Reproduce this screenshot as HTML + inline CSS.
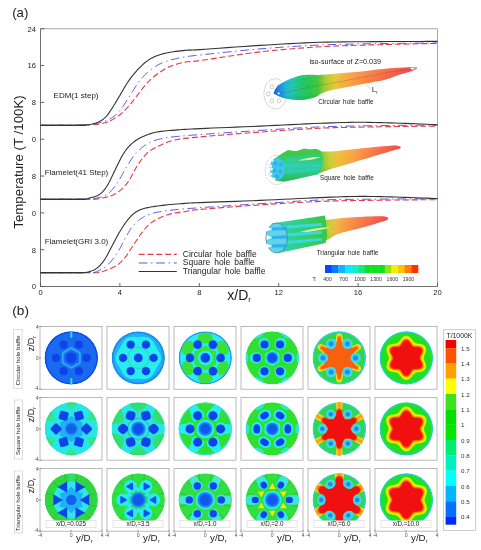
<!DOCTYPE html>
<html><head><meta charset="utf-8"><style>
html,body{margin:0;padding:0;background:#fff;}
body{width:481px;height:550px;overflow:hidden;font-family:"Liberation Sans", sans-serif;}
svg{display:block;filter:blur(0.4px);}
</style></head><body>
<svg width="481" height="550" viewBox="0 0 481 550" font-family='"Liberation Sans", sans-serif'><defs><linearGradient id="shade" x1="0" y1="0" x2="0" y2="1"><stop offset="0" stop-color="#fff" stop-opacity="0.10"/><stop offset="0.45" stop-color="#fff" stop-opacity="0"/><stop offset="1" stop-color="#000" stop-opacity="0.06"/></linearGradient><linearGradient id="gf1" gradientUnits="userSpaceOnUse" x1="274" y1="0" x2="417" y2="0"><stop offset="0" stop-color="#1060d8"/><stop offset="0.04" stop-color="#1890e0"/><stop offset="0.085" stop-color="#20b8d8"/><stop offset="0.13" stop-color="#20c8b0"/><stop offset="0.18" stop-color="#20c878"/><stop offset="0.25" stop-color="#28c850"/><stop offset="0.31" stop-color="#48c838"/><stop offset="0.355" stop-color="#a0cc30"/><stop offset="0.42" stop-color="#e4c838"/><stop offset="0.5" stop-color="#f8aa40"/><stop offset="0.62" stop-color="#f88a40"/><stop offset="0.76" stop-color="#f86840"/><stop offset="0.9" stop-color="#f04840"/><stop offset="1" stop-color="#f03848"/></linearGradient><linearGradient id="gf2" gradientUnits="userSpaceOnUse" x1="316" y1="0" x2="401" y2="0"><stop offset="0" stop-color="#40cc40"/><stop offset="0.08" stop-color="#88cc30"/><stop offset="0.16" stop-color="#c8d038"/><stop offset="0.26" stop-color="#f0c038"/><stop offset="0.45" stop-color="#f8a040"/><stop offset="0.68" stop-color="#f87040"/><stop offset="1" stop-color="#f03838"/></linearGradient><linearGradient id="b2v" x1="0" y1="0" x2="0" y2="1"><stop offset="0" stop-color="#40cc50"/><stop offset="0.3" stop-color="#30cc70"/><stop offset="0.5" stop-color="#30d0b8"/><stop offset="0.7" stop-color="#30c880"/><stop offset="1" stop-color="#28b850"/></linearGradient><linearGradient id="gf3" gradientUnits="userSpaceOnUse" x1="322" y1="0" x2="389" y2="0"><stop offset="0" stop-color="#60cc38"/><stop offset="0.1" stop-color="#c0d038"/><stop offset="0.2" stop-color="#f0b840"/><stop offset="0.4" stop-color="#f89040"/><stop offset="0.68" stop-color="#f86840"/><stop offset="1" stop-color="#f03838"/></linearGradient><linearGradient id="b3h" gradientUnits="userSpaceOnUse" x1="270" y1="0" x2="326" y2="0"><stop offset="0" stop-color="#30d0c8"/><stop offset="0.5" stop-color="#30d080"/><stop offset="1" stop-color="#38c848"/></linearGradient><clipPath id="cp00"><circle cx="71.30" cy="357.90" r="26.7"/></clipPath><clipPath id="cp01"><circle cx="138.30" cy="357.90" r="26.7"/></clipPath><clipPath id="cp02"><circle cx="205.30" cy="357.90" r="26.7"/></clipPath><clipPath id="cp03"><circle cx="272.30" cy="357.90" r="26.7"/></clipPath><radialGradient id="cg03" gradientUnits="userSpaceOnUse" cx="272.30" cy="357.90" r="5.80"><stop offset="0" stop-color="#1050ee"/><stop offset="0.6" stop-color="#1050ee"/><stop offset="1" stop-color="#1890f2"/></radialGradient><clipPath id="cp04"><circle cx="339.30" cy="357.90" r="26.7"/></clipPath><clipPath id="cp05"><circle cx="406.30" cy="357.90" r="26.7"/></clipPath><clipPath id="cp10"><circle cx="71.30" cy="428.90" r="26.7"/></clipPath><radialGradient id="wg10" gradientUnits="userSpaceOnUse" cx="71.30" cy="428.90" r="26.70"><stop offset="0.6" stop-color="#28e6d8"/><stop offset="0.8" stop-color="#34e4a0"/><stop offset="1" stop-color="#38e070"/></radialGradient><radialGradient id="cg10" gradientUnits="userSpaceOnUse" cx="71.30" cy="428.90" r="7.00"><stop offset="0" stop-color="#1060f0"/><stop offset="0.6" stop-color="#1060f0"/><stop offset="1" stop-color="#20b0f4"/></radialGradient><clipPath id="cp11"><circle cx="138.30" cy="428.90" r="26.7"/></clipPath><radialGradient id="wg11" gradientUnits="userSpaceOnUse" cx="138.30" cy="428.90" r="26.70"><stop offset="0.55" stop-color="#28e6d0"/><stop offset="0.75" stop-color="#30e080"/><stop offset="1" stop-color="#30e060"/></radialGradient><radialGradient id="cg11" gradientUnits="userSpaceOnUse" cx="138.30" cy="428.90" r="7.50"><stop offset="0" stop-color="#0c50ee"/><stop offset="0.6" stop-color="#0c50ee"/><stop offset="1" stop-color="#20b0f4"/></radialGradient><clipPath id="cp12"><circle cx="205.30" cy="428.90" r="26.7"/></clipPath><radialGradient id="cg12" gradientUnits="userSpaceOnUse" cx="205.30" cy="428.90" r="7.20"><stop offset="0" stop-color="#1058ee"/><stop offset="0.6" stop-color="#1058ee"/><stop offset="1" stop-color="#20b0f4"/></radialGradient><clipPath id="cp13"><circle cx="272.30" cy="428.90" r="26.7"/></clipPath><radialGradient id="cg13" gradientUnits="userSpaceOnUse" cx="272.30" cy="428.90" r="6.40"><stop offset="0" stop-color="#1058ee"/><stop offset="0.6" stop-color="#1058ee"/><stop offset="1" stop-color="#20a0f4"/></radialGradient><clipPath id="cp14"><circle cx="339.30" cy="428.90" r="26.7"/></clipPath><clipPath id="cp15"><circle cx="406.30" cy="428.90" r="26.7"/></clipPath><clipPath id="cp20"><circle cx="71.30" cy="499.90" r="26.7"/></clipPath><clipPath id="cp21"><circle cx="138.30" cy="499.90" r="26.7"/></clipPath><radialGradient id="cg21" gradientUnits="userSpaceOnUse" cx="138.30" cy="499.90" r="8.00"><stop offset="0" stop-color="#1058ee"/><stop offset="0.6" stop-color="#1058ee"/><stop offset="1" stop-color="#20b0f4"/></radialGradient><clipPath id="cp22"><circle cx="205.30" cy="499.90" r="26.7"/></clipPath><radialGradient id="cg22" gradientUnits="userSpaceOnUse" cx="205.30" cy="499.90" r="8.00"><stop offset="0" stop-color="#1058ee"/><stop offset="0.6" stop-color="#1058ee"/><stop offset="1" stop-color="#20a8f4"/></radialGradient><clipPath id="cp23"><circle cx="272.30" cy="499.90" r="26.7"/></clipPath><radialGradient id="cg23" gradientUnits="userSpaceOnUse" cx="272.30" cy="499.90" r="7.40"><stop offset="0" stop-color="#1058ee"/><stop offset="0.6" stop-color="#1058ee"/><stop offset="1" stop-color="#20a8f4"/></radialGradient><clipPath id="cp24"><circle cx="339.30" cy="499.90" r="26.7"/></clipPath><clipPath id="cp25"><circle cx="406.30" cy="499.90" r="26.7"/></clipPath></defs><text x="12.2" y="16.6" font-size="13.2" fill="#222">(a)</text>
<path d="M40.5,28.75 L437.5,28.75 L437.5,286.5" fill="none" stroke="#a8a8a8" stroke-width="1"/>
<path d="M40.5,28.75 L40.5,286.5 L437.5,286.5" fill="none" stroke="#707070" stroke-width="1"/>
<line x1="40.5" y1="28.75" x2="44.3" y2="28.75" stroke="#555" stroke-width="0.9"/>
<text x="36" y="31.65" font-size="7.6" fill="#222" text-anchor="end">24</text>
<line x1="40.5" y1="65.57" x2="44.3" y2="65.57" stroke="#555" stroke-width="0.9"/>
<text x="36" y="68.47" font-size="7.6" fill="#222" text-anchor="end">16</text>
<line x1="40.5" y1="102.39" x2="44.3" y2="102.39" stroke="#555" stroke-width="0.9"/>
<text x="36" y="105.29" font-size="7.6" fill="#222" text-anchor="end">8</text>
<line x1="40.5" y1="139.21" x2="44.3" y2="139.21" stroke="#555" stroke-width="0.9"/>
<text x="36" y="142.11" font-size="7.6" fill="#222" text-anchor="end">0</text>
<line x1="40.5" y1="176.04" x2="44.3" y2="176.04" stroke="#555" stroke-width="0.9"/>
<text x="36" y="178.94" font-size="7.6" fill="#222" text-anchor="end">8</text>
<line x1="40.5" y1="212.86" x2="44.3" y2="212.86" stroke="#555" stroke-width="0.9"/>
<text x="36" y="215.76" font-size="7.6" fill="#222" text-anchor="end">0</text>
<line x1="40.5" y1="249.68" x2="44.3" y2="249.68" stroke="#555" stroke-width="0.9"/>
<text x="36" y="252.58" font-size="7.6" fill="#222" text-anchor="end">8</text>
<line x1="40.5" y1="286.50" x2="44.3" y2="286.50" stroke="#555" stroke-width="0.9"/>
<text x="36" y="289.40" font-size="7.6" fill="#222" text-anchor="end">0</text>
<line x1="40.50" y1="286.5" x2="40.50" y2="283.0" stroke="#555" stroke-width="0.9"/>
<text x="40.50" y="295.3" font-size="7.6" fill="#222" text-anchor="middle">0</text>
<line x1="119.90" y1="286.5" x2="119.90" y2="283.0" stroke="#555" stroke-width="0.9"/>
<text x="119.90" y="295.3" font-size="7.6" fill="#222" text-anchor="middle">4</text>
<line x1="199.30" y1="286.5" x2="199.30" y2="283.0" stroke="#555" stroke-width="0.9"/>
<text x="199.30" y="295.3" font-size="7.6" fill="#222" text-anchor="middle">8</text>
<line x1="278.70" y1="286.5" x2="278.70" y2="283.0" stroke="#555" stroke-width="0.9"/>
<text x="278.70" y="295.3" font-size="7.6" fill="#222" text-anchor="middle">12</text>
<line x1="358.10" y1="286.5" x2="358.10" y2="283.0" stroke="#555" stroke-width="0.9"/>
<text x="358.10" y="295.3" font-size="7.6" fill="#222" text-anchor="middle">16</text>
<line x1="437.50" y1="286.5" x2="437.50" y2="283.0" stroke="#555" stroke-width="0.9"/>
<text x="437.50" y="295.3" font-size="7.6" fill="#222" text-anchor="middle">20</text>
<text transform="translate(22.6,162) rotate(-90)" font-size="13.3" fill="#222" text-anchor="middle">Temperature (T /100K)</text>
<text x="227.3" y="299.6" font-size="14" fill="#222">x/D<tspan font-size="8" dy="2.5">r</tspan></text>
<path d="M40.50,125.30 L44.10,125.31 L49.07,125.34 L55.00,125.38 L61.50,125.41 L68.15,125.42 L74.55,125.40 L80.31,125.33 L85.00,125.20 L88.72,125.03 L91.90,124.83 L94.63,124.61 L97.01,124.34 L99.13,124.02 L101.11,123.65 L103.03,123.21 L105.00,122.70 L106.93,122.11 L108.69,121.45 L110.31,120.72 L111.83,119.94 L113.26,119.11 L114.65,118.23 L116.02,117.33 L117.40,116.40 L118.76,115.45 L120.07,114.48 L121.33,113.48 L122.55,112.44 L123.76,111.35 L124.96,110.20 L126.17,108.99 L127.40,107.70 L128.65,106.32 L129.90,104.84 L131.15,103.29 L132.41,101.68 L133.66,100.05 L134.91,98.41 L136.15,96.78 L137.40,95.20 L138.64,93.62 L139.88,92.01 L141.12,90.38 L142.35,88.77 L143.58,87.18 L144.82,85.64 L146.06,84.18 L147.30,82.80 L148.53,81.52 L149.73,80.31 L150.93,79.17 L152.14,78.09 L153.36,77.04 L154.62,76.02 L155.93,75.01 L157.30,74.00 L158.73,72.99 L160.19,71.98 L161.69,70.99 L163.24,70.03 L164.82,69.09 L166.44,68.21 L168.10,67.37 L169.80,66.60 L171.55,65.89 L173.37,65.22 L175.23,64.61 L177.13,64.04 L179.05,63.51 L180.98,63.03 L182.90,62.60 L184.80,62.20 L186.38,61.91 L187.54,61.77 L188.52,61.71 L189.59,61.67 L191.01,61.60 L193.05,61.43 L195.95,61.12 L200.00,60.60 L205.36,59.83 L211.85,58.84 L219.22,57.70 L227.20,56.47 L235.53,55.21 L243.95,53.99 L252.19,52.86 L260.00,51.90 L267.50,51.07 L275.00,50.30 L282.50,49.59 L290.00,48.94 L297.50,48.33 L305.00,47.78 L312.50,47.27 L320.00,46.80 L327.52,46.39 L335.06,46.05 L342.61,45.76 L350.16,45.51 L357.68,45.30 L365.18,45.10 L372.62,44.90 L380.00,44.70 L387.70,44.49 L395.90,44.29 L404.27,44.10 L412.50,43.92 L420.26,43.76 L427.23,43.61 L433.08,43.49 L437.50,43.40" fill="none" stroke="#e23a48" stroke-width="1.1" stroke-dasharray="6,2.8"/>
<path d="M40.50,125.30 L43.71,125.30 L48.17,125.31 L53.50,125.32 L59.31,125.33 L65.25,125.33 L70.92,125.31 L75.96,125.27 L80.00,125.20 L83.05,125.12 L85.47,125.05 L87.42,124.96 L89.03,124.86 L90.45,124.71 L91.82,124.51 L93.29,124.25 L95.00,123.90 L96.91,123.48 L98.87,122.99 L100.84,122.45 L102.81,121.85 L104.74,121.19 L106.60,120.48 L108.36,119.72 L110.00,118.90 L111.49,118.05 L112.85,117.17 L114.12,116.25 L115.31,115.28 L116.47,114.22 L117.62,113.06 L118.78,111.80 L120.00,110.40 L121.25,108.84 L122.50,107.11 L123.75,105.25 L125.00,103.31 L126.25,101.31 L127.50,99.30 L128.75,97.32 L130.00,95.40 L131.25,93.49 L132.50,91.53 L133.75,89.56 L135.00,87.59 L136.25,85.66 L137.50,83.80 L138.75,82.04 L140.00,80.40 L141.23,78.89 L142.45,77.49 L143.65,76.18 L144.86,74.94 L146.08,73.75 L147.34,72.61 L148.64,71.50 L150.00,70.40 L151.39,69.32 L152.79,68.27 L154.21,67.26 L155.67,66.29 L157.19,65.35 L158.79,64.46 L160.49,63.61 L162.30,62.80 L164.24,62.04 L166.29,61.32 L168.44,60.64 L170.67,60.00 L172.96,59.40 L175.29,58.83 L177.64,58.30 L180.00,57.80 L182.12,57.37 L183.90,57.02 L185.57,56.73 L187.36,56.47 L189.47,56.20 L192.13,55.88 L195.57,55.49 L200.00,55.00 L205.59,54.38 L212.19,53.66 L219.57,52.86 L227.50,52.02 L235.74,51.17 L244.06,50.35 L252.23,49.58 L260.00,48.90 L267.50,48.29 L275.00,47.71 L282.50,47.17 L290.00,46.66 L297.50,46.18 L305.00,45.75 L312.50,45.35 L320.00,45.00 L327.52,44.70 L335.06,44.46 L342.61,44.26 L350.16,44.10 L357.68,43.96 L365.18,43.84 L372.62,43.72 L380.00,43.60 L387.70,43.47 L395.90,43.36 L404.27,43.26 L412.50,43.16 L420.26,43.08 L427.23,43.01 L433.08,42.95 L437.50,42.90" fill="none" stroke="#5a5ae6" stroke-width="1" stroke-dasharray="8.7,3.7,1.4,3.7"/>
<path d="M40.50,125.30 L43.71,125.31 L48.17,125.33 L53.50,125.35 L59.31,125.38 L65.25,125.38 L70.92,125.36 L75.96,125.30 L80.00,125.20 L83.08,125.06 L85.59,124.92 L87.64,124.74 L89.34,124.54 L90.82,124.29 L92.18,123.99 L93.53,123.63 L95.00,123.20 L96.51,122.71 L97.91,122.18 L99.23,121.59 L100.48,120.95 L101.66,120.25 L102.80,119.47 L103.91,118.63 L105.00,117.70 L106.05,116.68 L107.03,115.58 L107.96,114.39 L108.85,113.14 L109.72,111.83 L110.60,110.48 L111.48,109.10 L112.40,107.70 L113.34,106.26 L114.29,104.75 L115.24,103.19 L116.20,101.60 L117.16,99.99 L118.11,98.38 L119.06,96.77 L120.00,95.20 L120.93,93.63 L121.86,92.04 L122.79,90.44 L123.71,88.84 L124.63,87.27 L125.55,85.73 L126.47,84.23 L127.40,82.80 L128.32,81.44 L129.21,80.13 L130.10,78.87 L130.99,77.65 L131.91,76.44 L132.85,75.24 L133.85,74.03 L134.90,72.80 L136.02,71.52 L137.20,70.21 L138.43,68.88 L139.69,67.56 L140.97,66.27 L142.26,65.03 L143.54,63.87 L144.80,62.80 L146.03,61.83 L147.23,60.93 L148.43,60.09 L149.64,59.31 L150.86,58.58 L152.12,57.89 L153.43,57.23 L154.80,56.60 L156.21,56.00 L157.63,55.45 L159.08,54.94 L160.58,54.46 L162.14,54.02 L163.76,53.60 L165.48,53.19 L167.30,52.80 L169.26,52.42 L171.38,52.06 L173.60,51.73 L175.88,51.41 L178.19,51.12 L180.47,50.85 L182.69,50.61 L184.80,50.40 L186.50,50.25 L187.71,50.17 L188.70,50.13 L189.74,50.11 L191.12,50.08 L193.10,50.00 L195.97,49.85 L200.00,49.60 L205.36,49.23 L211.85,48.76 L219.22,48.23 L227.20,47.64 L235.53,47.04 L243.95,46.45 L252.19,45.90 L260.00,45.40 L267.50,44.94 L275.00,44.49 L282.50,44.05 L290.00,43.63 L297.50,43.24 L305.00,42.88 L312.50,42.57 L320.00,42.30 L327.52,42.09 L335.06,41.94 L342.61,41.84 L350.16,41.77 L357.68,41.72 L365.18,41.68 L372.62,41.65 L380.00,41.60 L387.70,41.55 L395.90,41.51 L404.27,41.48 L412.50,41.46 L420.26,41.44 L427.23,41.42 L433.08,41.41 L437.50,41.40" fill="none" stroke="#333" stroke-width="1.1"/>
<line x1="40.5" y1="125.3" x2="86" y2="125.3" stroke="#333" stroke-width="1.3"/>
<path d="M40.50,199.30 L44.59,199.30 L50.32,199.30 L57.17,199.30 L64.62,199.30 L72.16,199.29 L79.24,199.28 L85.36,199.25 L90.00,199.20 L93.11,199.16 L95.16,199.13 L96.43,199.11 L97.16,199.06 L97.63,198.99 L98.08,198.86 L98.79,198.67 L100.00,198.40 L101.64,198.08 L103.44,197.73 L105.33,197.35 L107.29,196.90 L109.27,196.37 L111.23,195.74 L113.12,194.99 L114.90,194.10 L116.59,193.07 L118.25,191.93 L119.87,190.68 L121.46,189.32 L123.00,187.86 L124.51,186.30 L125.97,184.64 L127.40,182.90 L128.77,180.99 L130.08,178.87 L131.34,176.61 L132.56,174.28 L133.77,171.94 L134.97,169.65 L136.17,167.48 L137.40,165.50 L138.62,163.67 L139.82,161.91 L141.01,160.23 L142.19,158.63 L143.40,157.11 L144.64,155.66 L145.94,154.29 L147.30,153.00 L148.72,151.81 L150.18,150.73 L151.69,149.73 L153.23,148.81 L154.82,147.95 L156.44,147.12 L158.10,146.31 L159.80,145.50 L161.49,144.70 L163.14,143.93 L164.79,143.19 L166.51,142.47 L168.32,141.80 L170.27,141.16 L172.42,140.56 L174.80,140.00 L177.22,139.51 L179.57,139.10 L181.97,138.74 L184.59,138.41 L187.55,138.08 L191.01,137.74 L195.12,137.35 L200.00,136.90 L205.83,136.38 L212.55,135.80 L219.95,135.18 L227.82,134.55 L235.97,133.91 L244.18,133.28 L252.26,132.67 L260.00,132.10 L267.50,131.55 L275.00,131.00 L282.50,130.46 L290.00,129.94 L297.50,129.44 L305.00,128.98 L312.50,128.56 L320.00,128.20 L327.52,127.90 L335.06,127.66 L342.61,127.46 L350.16,127.30 L357.68,127.16 L365.18,127.04 L372.62,126.92 L380.00,126.80 L387.70,126.67 L395.90,126.56 L404.27,126.46 L412.50,126.36 L420.26,126.28 L427.23,126.21 L433.08,126.15 L437.50,126.10" fill="none" stroke="#e23a48" stroke-width="1.1" stroke-dasharray="6,2.8"/>
<path d="M40.50,199.30 L44.17,199.30 L49.30,199.30 L55.44,199.30 L62.12,199.30 L68.88,199.29 L75.26,199.28 L80.78,199.25 L85.00,199.20 L87.88,199.16 L89.87,199.13 L91.17,199.11 L92.01,199.06 L92.59,198.99 L93.14,198.86 L93.87,198.67 L95.00,198.40 L96.45,198.08 L97.99,197.73 L99.58,197.35 L101.20,196.90 L102.82,196.37 L104.41,195.74 L105.95,194.99 L107.40,194.10 L108.76,193.07 L110.07,191.93 L111.33,190.68 L112.55,189.32 L113.76,187.86 L114.96,186.30 L116.17,184.64 L117.40,182.90 L118.65,181.00 L119.90,178.90 L121.15,176.67 L122.40,174.36 L123.65,172.03 L124.90,169.74 L126.15,167.55 L127.40,165.50 L128.63,163.57 L129.84,161.69 L131.04,159.86 L132.25,158.09 L133.47,156.38 L134.73,154.74 L136.04,153.18 L137.40,151.70 L138.82,150.30 L140.27,148.97 L141.76,147.71 L143.29,146.52 L144.85,145.40 L146.46,144.36 L148.11,143.39 L149.80,142.50 L151.52,141.70 L153.25,140.99 L155.01,140.37 L156.83,139.81 L158.69,139.31 L160.64,138.85 L162.67,138.42 L164.80,138.00 L167.09,137.61 L169.56,137.26 L172.14,136.96 L174.79,136.69 L177.43,136.45 L180.02,136.23 L182.50,136.01 L184.80,135.80 L186.62,135.62 L187.89,135.50 L188.88,135.41 L189.90,135.32 L191.23,135.23 L193.16,135.09 L195.99,134.89 L200.00,134.60 L205.36,134.21 L211.85,133.74 L219.22,133.21 L227.20,132.64 L235.53,132.06 L243.95,131.47 L252.19,130.91 L260.00,130.40 L267.50,129.91 L275.00,129.42 L282.50,128.94 L290.00,128.47 L297.50,128.02 L305.00,127.60 L312.50,127.23 L320.00,126.90 L327.52,126.63 L335.06,126.40 L342.61,126.22 L350.16,126.06 L357.68,125.93 L365.18,125.82 L372.62,125.71 L380.00,125.60 L387.70,125.50 L395.90,125.41 L404.27,125.33 L412.50,125.27 L420.26,125.22 L427.23,125.17 L433.08,125.13 L437.50,125.10" fill="none" stroke="#5a5ae6" stroke-width="1" stroke-dasharray="8.7,3.7,1.4,3.7"/>
<path d="M40.50,199.30 L43.75,199.31 L48.29,199.33 L53.72,199.36 L59.62,199.39 L65.61,199.40 L71.27,199.40 L76.20,199.37 L80.00,199.30 L82.66,199.21 L84.57,199.10 L85.91,198.98 L86.84,198.84 L87.55,198.66 L88.19,198.45 L88.95,198.20 L90.00,197.90 L91.27,197.57 L92.56,197.23 L93.86,196.87 L95.16,196.46 L96.44,195.99 L97.68,195.45 L98.87,194.83 L100.00,194.10 L101.05,193.29 L102.03,192.42 L102.96,191.47 L103.86,190.45 L104.73,189.34 L105.60,188.13 L106.49,186.82 L107.40,185.40 L108.33,183.83 L109.27,182.09 L110.21,180.23 L111.14,178.29 L112.08,176.29 L113.02,174.29 L113.96,172.31 L114.90,170.40 L115.84,168.50 L116.78,166.55 L117.71,164.59 L118.65,162.64 L119.59,160.72 L120.53,158.88 L121.46,157.13 L122.40,155.50 L123.32,154.00 L124.22,152.60 L125.10,151.28 L125.99,150.04 L126.90,148.85 L127.85,147.71 L128.84,146.60 L129.90,145.50 L131.00,144.43 L132.11,143.40 L133.25,142.42 L134.44,141.47 L135.68,140.56 L137.00,139.68 L138.40,138.82 L139.90,138.00 L141.49,137.20 L143.16,136.41 L144.90,135.65 L146.73,134.93 L148.62,134.25 L150.60,133.61 L152.66,133.03 L154.80,132.50 L157.02,132.05 L159.32,131.66 L161.70,131.33 L164.16,131.05 L166.70,130.80 L169.31,130.56 L172.02,130.34 L174.80,130.10 L177.46,129.88 L179.92,129.69 L182.34,129.52 L184.90,129.36 L187.77,129.20 L191.13,129.02 L195.15,128.83 L200.00,128.60 L205.83,128.34 L212.55,128.05 L219.95,127.75 L227.82,127.43 L235.97,127.10 L244.18,126.77 L252.26,126.43 L260.00,126.10 L267.64,125.75 L275.47,125.38 L283.38,124.99 L291.25,124.61 L298.96,124.23 L306.41,123.88 L313.46,123.57 L320.00,123.30 L325.96,123.08 L331.41,122.88 L336.46,122.71 L341.25,122.57 L345.88,122.46 L350.47,122.37 L355.14,122.32 L360.00,122.30 L365.02,122.32 L370.06,122.37 L375.11,122.47 L380.16,122.59 L385.18,122.73 L390.18,122.88 L395.12,123.04 L400.00,123.20 L405.06,123.38 L410.43,123.59 L415.89,123.82 L421.25,124.06 L426.29,124.29 L430.82,124.50 L434.62,124.67 L437.50,124.80" fill="none" stroke="#333" stroke-width="1.1"/>
<line x1="40.5" y1="199.3" x2="86" y2="199.3" stroke="#333" stroke-width="1.3"/>
<path d="M40.50,272.70 L44.59,272.69 L50.32,272.69 L57.17,272.68 L64.62,272.67 L72.16,272.66 L79.24,272.65 L85.36,272.63 L90.00,272.60 L93.11,272.60 L95.16,272.65 L96.43,272.71 L97.16,272.76 L97.63,272.76 L98.08,272.69 L98.79,272.51 L100.00,272.20 L101.66,271.75 L103.50,271.20 L105.44,270.55 L107.45,269.82 L109.46,269.02 L111.40,268.18 L113.24,267.30 L114.90,266.40 L116.38,265.49 L117.74,264.57 L119.01,263.62 L120.21,262.62 L121.37,261.54 L122.51,260.38 L123.68,259.10 L124.90,257.70 L126.15,256.13 L127.40,254.39 L128.65,252.52 L129.91,250.57 L131.16,248.58 L132.41,246.59 L133.65,244.65 L134.90,242.80 L136.14,240.99 L137.38,239.15 L138.62,237.32 L139.85,235.51 L141.08,233.75 L142.32,232.07 L143.56,230.47 L144.80,229.00 L146.01,227.65 L147.18,226.41 L148.32,225.25 L149.48,224.18 L150.68,223.16 L151.95,222.18 L153.31,221.23 L154.80,220.30 L156.44,219.38 L158.20,218.49 L160.06,217.63 L161.99,216.81 L163.96,216.04 L165.93,215.33 L167.89,214.68 L169.80,214.10 L171.67,213.61 L173.55,213.21 L175.42,212.88 L177.29,212.60 L179.16,212.35 L181.04,212.12 L182.92,211.87 L184.80,211.60 L186.38,211.33 L187.54,211.08 L188.52,210.85 L189.59,210.63 L191.01,210.38 L193.05,210.10 L195.95,209.78 L200.00,209.40 L205.36,208.94 L211.85,208.41 L219.22,207.84 L227.20,207.23 L235.53,206.62 L243.95,206.01 L252.19,205.43 L260.00,204.90 L267.50,204.40 L275.00,203.90 L282.50,203.41 L290.00,202.94 L297.50,202.50 L305.00,202.09 L312.50,201.72 L320.00,201.40 L327.52,201.14 L335.06,200.92 L342.61,200.75 L350.16,200.61 L357.68,200.50 L365.18,200.40 L372.62,200.30 L380.00,200.20 L387.70,200.10 L395.90,200.01 L404.27,199.94 L412.50,199.88 L420.26,199.82 L427.23,199.77 L433.08,199.73 L437.50,199.70" fill="none" stroke="#e23a48" stroke-width="1.1" stroke-dasharray="6,2.8"/>
<path d="M40.50,272.70 L44.17,272.69 L49.30,272.69 L55.44,272.68 L62.12,272.67 L68.88,272.66 L75.26,272.65 L80.78,272.63 L85.00,272.60 L87.88,272.61 L89.87,272.68 L91.17,272.76 L92.01,272.83 L92.59,272.85 L93.14,272.77 L93.87,272.57 L95.00,272.20 L96.45,271.68 L97.99,271.04 L99.58,270.30 L101.20,269.46 L102.82,268.52 L104.41,267.49 L105.95,266.38 L107.40,265.20 L108.78,263.91 L110.13,262.49 L111.44,260.97 L112.71,259.37 L113.94,257.72 L115.13,256.04 L116.29,254.36 L117.40,252.70 L118.46,251.04 L119.45,249.33 L120.40,247.60 L121.31,245.85 L122.20,244.10 L123.08,242.37 L123.98,240.66 L124.90,239.00 L125.82,237.35 L126.72,235.70 L127.61,234.06 L128.50,232.44 L129.41,230.86 L130.36,229.33 L131.35,227.87 L132.40,226.50 L133.50,225.21 L134.65,223.97 L135.82,222.80 L137.04,221.68 L138.29,220.62 L139.59,219.63 L140.92,218.68 L142.30,217.80 L143.69,216.98 L145.07,216.24 L146.47,215.57 L147.92,214.94 L149.45,214.37 L151.09,213.82 L152.86,213.30 L154.80,212.80 L156.91,212.32 L159.15,211.89 L161.52,211.49 L164.01,211.12 L166.59,210.77 L169.26,210.44 L172.00,210.12 L174.80,209.80 L177.46,209.51 L179.92,209.26 L182.34,209.03 L184.90,208.81 L187.77,208.59 L191.13,208.34 L195.15,208.05 L200.00,207.70 L205.83,207.29 L212.55,206.83 L219.95,206.33 L227.82,205.80 L235.97,205.26 L244.18,204.72 L252.26,204.20 L260.00,203.70 L267.50,203.20 L275.00,202.69 L282.50,202.17 L290.00,201.66 L297.50,201.17 L305.00,200.72 L312.50,200.33 L320.00,200.00 L327.52,199.75 L335.06,199.57 L342.61,199.44 L350.16,199.34 L357.68,199.28 L365.18,199.22 L372.62,199.17 L380.00,199.10 L387.70,199.02 L395.90,198.96 L404.27,198.90 L412.50,198.84 L420.26,198.80 L427.23,198.76 L433.08,198.73 L437.50,198.70" fill="none" stroke="#5a5ae6" stroke-width="1" stroke-dasharray="8.7,3.7,1.4,3.7"/>
<path d="M40.50,272.70 L43.75,272.71 L48.29,272.73 L53.72,272.76 L59.62,272.78 L65.61,272.80 L71.27,272.79 L76.20,272.76 L80.00,272.70 L82.68,272.62 L84.63,272.52 L86.02,272.41 L87.00,272.28 L87.73,272.12 L88.37,271.92 L89.07,271.69 L90.00,271.40 L91.06,271.09 L92.05,270.76 L93.00,270.41 L93.91,270.01 L94.80,269.56 L95.68,269.03 L96.58,268.42 L97.50,267.70 L98.44,266.89 L99.38,265.99 L100.32,265.02 L101.26,263.98 L102.19,262.85 L103.13,261.64 L104.07,260.36 L105.00,259.00 L105.93,257.53 L106.85,255.93 L107.78,254.23 L108.70,252.47 L109.62,250.66 L110.55,248.85 L111.47,247.05 L112.40,245.30 L113.33,243.56 L114.27,241.80 L115.21,240.02 L116.14,238.24 L117.08,236.49 L118.02,234.77 L118.96,233.10 L119.90,231.50 L120.84,229.95 L121.78,228.43 L122.71,226.95 L123.65,225.51 L124.59,224.11 L125.53,222.78 L126.46,221.51 L127.40,220.30 L128.32,219.16 L129.22,218.09 L130.11,217.08 L131.00,216.13 L131.91,215.23 L132.86,214.38 L133.85,213.57 L134.90,212.80 L135.97,212.08 L137.03,211.43 L138.10,210.82 L139.23,210.26 L140.43,209.74 L141.73,209.24 L143.18,208.77 L144.80,208.30 L146.59,207.85 L148.52,207.44 L150.59,207.06 L152.76,206.69 L155.04,206.35 L157.40,206.02 L159.82,205.71 L162.30,205.40 L164.92,205.10 L167.74,204.81 L170.69,204.53 L173.69,204.27 L176.68,204.02 L179.57,203.79 L182.30,203.59 L184.80,203.40 L186.74,203.25 L188.06,203.15 L189.07,203.07 L190.06,203.01 L191.34,202.95 L193.22,202.87 L196.01,202.76 L200.00,202.60 L205.36,202.40 L211.85,202.16 L219.22,201.90 L227.20,201.62 L235.53,201.33 L243.95,201.02 L252.19,200.71 L260.00,200.40 L267.64,200.07 L275.47,199.70 L283.38,199.32 L291.25,198.94 L298.96,198.56 L306.41,198.20 L313.46,197.88 L320.00,197.60 L325.96,197.36 L331.41,197.14 L336.46,196.94 L341.25,196.78 L345.88,196.63 L350.47,196.52 L355.14,196.44 L360.00,196.40 L365.02,196.40 L370.06,196.45 L375.11,196.53 L380.16,196.64 L385.18,196.77 L390.18,196.91 L395.12,197.06 L400.00,197.20 L405.06,197.36 L410.43,197.54 L415.89,197.74 L421.25,197.95 L426.29,198.15 L430.82,198.33 L434.62,198.49 L437.50,198.60" fill="none" stroke="#333" stroke-width="1.1"/>
<line x1="40.5" y1="272.7" x2="86" y2="272.7" stroke="#333" stroke-width="1.3"/>
<text x="53.6" y="97.8" font-size="8" fill="#222">EDM(1 step)</text>
<text x="44.7" y="174.7" font-size="8" fill="#222">Flamelet(41 Step)</text>
<text x="44.7" y="243.7" font-size="8" fill="#222">Flamelet(GRI 3.0)</text>
<line x1="138.7" y1="254.4" x2="176.8" y2="254.4" stroke="#e23a48" stroke-width="1.1" stroke-dasharray="6,2.8"/>
<line x1="138.7" y1="263" x2="176.8" y2="263" stroke="#5a5ae6" stroke-width="1" stroke-dasharray="8.7,3.7,1.4,3.7"/>
<line x1="138.7" y1="271.5" x2="176.8" y2="271.5" stroke="#333" stroke-width="1.1"/>
<text x="182.8" y="256.9" font-size="8.5" fill="#222" word-spacing="1.6">Circular hole baffle</text>
<text x="182.8" y="265.3" font-size="8.5" fill="#222" word-spacing="1.6">Square hole baffle</text>
<text x="182.8" y="273.8" font-size="8.5" fill="#222" word-spacing="1.6">Triangular hole baffle</text>
<ellipse cx="275.4" cy="93.8" rx="11.4" ry="15" fill="none" stroke="#888" stroke-width="0.55" stroke-dasharray="1.6,0.9"/>
<ellipse cx="282.47" cy="93.80" rx="1.8" ry="2.1" fill="none" stroke="#999" stroke-width="0.5"/>
<ellipse cx="278.93" cy="86.79" rx="1.8" ry="2.1" fill="none" stroke="#999" stroke-width="0.5"/>
<ellipse cx="271.87" cy="86.79" rx="1.8" ry="2.1" fill="none" stroke="#999" stroke-width="0.5"/>
<ellipse cx="268.33" cy="93.80" rx="1.8" ry="2.1" fill="none" stroke="#999" stroke-width="0.5"/>
<ellipse cx="271.87" cy="100.81" rx="1.8" ry="2.1" fill="none" stroke="#999" stroke-width="0.5"/>
<ellipse cx="278.93" cy="100.81" rx="1.8" ry="2.1" fill="none" stroke="#999" stroke-width="0.5"/>
<path d="M273.60,93.30 L273.78,92.81 L274.00,92.14 L274.27,91.34 L274.60,90.47 L275.01,89.61 L275.50,88.80 L276.04,88.05 L276.60,87.30 L277.24,86.54 L278.00,85.78 L278.90,85.00 L280.00,84.20 L281.35,83.35 L282.93,82.44 L284.66,81.53 L286.46,80.62 L288.27,79.77 L290.00,79.00 L291.67,78.30 L293.33,77.64 L295.00,77.03 L296.67,76.48 L298.33,76.00 L300.00,75.60 L301.69,75.29 L303.41,75.07 L305.12,74.92 L306.81,74.83 L308.45,74.76 L310.00,74.70 L311.46,74.68 L312.85,74.70 L314.19,74.76 L315.48,74.83 L316.75,74.88 L318.00,74.90 L319.13,74.89 L320.11,74.87 L321.06,74.84 L322.11,74.79 L323.38,74.71 L325.00,74.60 L326.98,74.44 L329.22,74.25 L331.69,74.03 L334.33,73.79 L337.12,73.55 L340.00,73.30 L343.04,73.06 L346.30,72.82 L349.69,72.57 L353.15,72.31 L356.61,72.02 L360.00,71.70 L363.33,71.32 L366.67,70.90 L370.00,70.44 L373.33,69.99 L376.67,69.57 L380.00,69.20 L383.45,68.88 L387.04,68.59 L390.62,68.32 L394.07,68.08 L397.25,67.87 L400.00,67.70 L402.29,67.56 L404.22,67.46 L405.88,67.39 L407.33,67.35 L408.68,67.32 L410.00,67.30 L411.29,67.30 L412.47,67.31 L413.55,67.35 L414.50,67.40 L415.32,67.45 L416.00,67.50 L416.49,67.56 L416.80,67.63 L416.98,67.71 L417.07,67.79 L417.12,67.85 L417.20,67.90 L416.00,69.30 L415.39,69.56 L414.59,69.90 L413.62,70.32 L412.52,70.77 L411.30,71.24 L410.00,71.70 L408.62,72.13 L407.15,72.55 L405.56,72.98 L403.85,73.45 L402.00,73.98 L400.00,74.60 L397.73,75.36 L395.19,76.25 L392.50,77.20 L389.81,78.14 L387.27,79.00 L385.00,79.70 L383.04,80.23 L381.30,80.63 L379.69,80.96 L378.15,81.23 L376.61,81.50 L375.00,81.80 L373.33,82.12 L371.67,82.41 L370.00,82.71 L368.33,83.00 L366.67,83.29 L365.00,83.60 L363.39,83.91 L361.85,84.22 L360.31,84.54 L358.70,84.87 L356.96,85.22 L355.00,85.60 L352.75,86.02 L350.26,86.48 L347.62,86.96 L344.96,87.45 L342.38,87.94 L340.00,88.40 L337.77,88.84 L335.59,89.27 L333.50,89.70 L331.52,90.13 L329.68,90.56 L328.00,91.00 L326.53,91.45 L325.26,91.90 L324.12,92.35 L323.07,92.81 L322.05,93.30 L321.00,93.80 L319.99,94.34 L319.07,94.92 L318.19,95.52 L317.26,96.11 L316.22,96.68 L315.00,97.20 L313.54,97.69 L311.89,98.18 L310.12,98.64 L308.33,99.06 L306.60,99.42 L305.00,99.70 L303.56,99.89 L302.22,100.01 L300.94,100.07 L299.67,100.08 L298.37,100.05 L297.00,100.00 L295.55,99.92 L294.04,99.81 L292.50,99.66 L290.96,99.47 L289.45,99.25 L288.00,99.00 L286.59,98.71 L285.20,98.39 L283.84,98.04 L282.51,97.65 L281.23,97.24 L280.00,96.80 L278.77,96.29 L277.51,95.69 L276.30,95.06 L275.20,94.47 L274.28,93.96 L273.60,93.60 Z" fill="url(#gf1)"/>
<path d="M273.60,93.30 L273.78,92.81 L274.00,92.14 L274.27,91.34 L274.60,90.47 L275.01,89.61 L275.50,88.80 L276.04,88.05 L276.60,87.30 L277.24,86.54 L278.00,85.78 L278.90,85.00 L280.00,84.20 L281.35,83.35 L282.93,82.44 L284.66,81.53 L286.46,80.62 L288.27,79.77 L290.00,79.00 L291.67,78.30 L293.33,77.64 L295.00,77.03 L296.67,76.48 L298.33,76.00 L300.00,75.60 L301.69,75.29 L303.41,75.07 L305.12,74.92 L306.81,74.83 L308.45,74.76 L310.00,74.70 L311.46,74.68 L312.85,74.70 L314.19,74.76 L315.48,74.83 L316.75,74.88 L318.00,74.90 L319.13,74.89 L320.11,74.87 L321.06,74.84 L322.11,74.79 L323.38,74.71 L325.00,74.60 L326.98,74.44 L329.22,74.25 L331.69,74.03 L334.33,73.79 L337.12,73.55 L340.00,73.30 L343.04,73.06 L346.30,72.82 L349.69,72.57 L353.15,72.31 L356.61,72.02 L360.00,71.70 L363.33,71.32 L366.67,70.90 L370.00,70.44 L373.33,69.99 L376.67,69.57 L380.00,69.20 L383.45,68.88 L387.04,68.59 L390.62,68.32 L394.07,68.08 L397.25,67.87 L400.00,67.70 L402.29,67.56 L404.22,67.46 L405.88,67.39 L407.33,67.35 L408.68,67.32 L410.00,67.30 L411.29,67.30 L412.47,67.31 L413.55,67.35 L414.50,67.40 L415.32,67.45 L416.00,67.50 L416.49,67.56 L416.80,67.63 L416.98,67.71 L417.07,67.79 L417.12,67.85 L417.20,67.90 L416.00,69.30 L415.39,69.56 L414.59,69.90 L413.62,70.32 L412.52,70.77 L411.30,71.24 L410.00,71.70 L408.62,72.13 L407.15,72.55 L405.56,72.98 L403.85,73.45 L402.00,73.98 L400.00,74.60 L397.73,75.36 L395.19,76.25 L392.50,77.20 L389.81,78.14 L387.27,79.00 L385.00,79.70 L383.04,80.23 L381.30,80.63 L379.69,80.96 L378.15,81.23 L376.61,81.50 L375.00,81.80 L373.33,82.12 L371.67,82.41 L370.00,82.71 L368.33,83.00 L366.67,83.29 L365.00,83.60 L363.39,83.91 L361.85,84.22 L360.31,84.54 L358.70,84.87 L356.96,85.22 L355.00,85.60 L352.75,86.02 L350.26,86.48 L347.62,86.96 L344.96,87.45 L342.38,87.94 L340.00,88.40 L337.77,88.84 L335.59,89.27 L333.50,89.70 L331.52,90.13 L329.68,90.56 L328.00,91.00 L326.53,91.45 L325.26,91.90 L324.12,92.35 L323.07,92.81 L322.05,93.30 L321.00,93.80 L319.99,94.34 L319.07,94.92 L318.19,95.52 L317.26,96.11 L316.22,96.68 L315.00,97.20 L313.54,97.69 L311.89,98.18 L310.12,98.64 L308.33,99.06 L306.60,99.42 L305.00,99.70 L303.56,99.89 L302.22,100.01 L300.94,100.07 L299.67,100.08 L298.37,100.05 L297.00,100.00 L295.55,99.92 L294.04,99.81 L292.50,99.66 L290.96,99.47 L289.45,99.25 L288.00,99.00 L286.59,98.71 L285.20,98.39 L283.84,98.04 L282.51,97.65 L281.23,97.24 L280.00,96.80 L278.77,96.29 L277.51,95.69 L276.30,95.06 L275.20,94.47 L274.28,93.96 L273.60,93.60 Z" fill="url(#shade)"/>
<path d="M285,84 Q300,78 322,77.5" fill="none" stroke="#0a6040" stroke-width="0.45" opacity="0.25"/>
<path d="M282,97.5 Q300,98 320,95.2" fill="none" stroke="#0a6040" stroke-width="0.45" opacity="0.25"/>
<path d="M283,89.5 Q300,86 324,83" fill="none" stroke="#0a6040" stroke-width="0.45" opacity="0.2"/>
<path d="M279,93.4 L300,89.2 L330,83.6 L360,77.8 L390,72 L413,68.6" fill="none" stroke="#503020" stroke-width="0.45" stroke-dasharray="2,1" opacity="0.7"/>
<ellipse cx="412.6" cy="68.6" rx="2.3" ry="0.9" fill="#fff"/>
<ellipse cx="278.6" cy="93.4" rx="1.2" ry="0.9" fill="#fff"/>
<line x1="365" y1="83.9" x2="370.6" y2="89" stroke="#999" stroke-width="0.4"/>
<text x="371.8" y="91.8" font-size="8" fill="#333">L<tspan font-size="4.5" dy="2.2">r</tspan></text>
<text x="309.4" y="64.2" font-size="7.2" fill="#222">iso-surface of Z=0.039</text>
<text x="318.3" y="103.6" font-size="6.4" fill="#222" word-spacing="1">Circular hole baffle</text>
<ellipse cx="276.7" cy="170" rx="11.6" ry="14.6" fill="none" stroke="#999" stroke-width="0.5" stroke-dasharray="1.6,0.9"/>
<ellipse cx="276.70" cy="161.50" rx="1.8" ry="2.1" fill="none" stroke="#aaa" stroke-width="0.45"/>
<ellipse cx="270.64" cy="165.75" rx="1.8" ry="2.1" fill="none" stroke="#aaa" stroke-width="0.45"/>
<ellipse cx="270.64" cy="174.25" rx="1.8" ry="2.1" fill="none" stroke="#aaa" stroke-width="0.45"/>
<ellipse cx="276.70" cy="178.50" rx="1.8" ry="2.1" fill="none" stroke="#aaa" stroke-width="0.45"/>
<ellipse cx="282.76" cy="174.25" rx="1.8" ry="2.1" fill="none" stroke="#aaa" stroke-width="0.45"/>
<ellipse cx="282.76" cy="165.75" rx="1.8" ry="2.1" fill="none" stroke="#aaa" stroke-width="0.45"/>
<path d="M316.00,151.30 L317.57,151.34 L319.68,151.40 L322.21,151.48 L325.03,151.52 L328.00,151.50 L331.00,151.40 L334.11,151.19 L337.44,150.89 L340.94,150.54 L344.51,150.15 L348.09,149.76 L351.60,149.40 L355.06,149.05 L358.52,148.69 L361.99,148.33 L365.46,147.97 L368.93,147.63 L372.40,147.30 L376.04,146.97 L379.89,146.62 L383.74,146.28 L387.38,145.98 L390.60,145.75 L393.20,145.60 L395.08,145.56 L396.39,145.61 L397.28,145.72 L397.90,145.88 L398.43,146.04 L399.00,146.20 L399.58,146.37 L400.02,146.57 L400.36,146.79 L400.62,147.00 L400.83,147.17 L401.00,147.30 L400.00,148.50 L399.30,148.69 L398.37,148.95 L397.25,149.26 L395.99,149.61 L394.62,149.99 L393.20,150.40 L391.67,150.85 L390.00,151.34 L388.22,151.88 L386.40,152.42 L384.57,152.97 L382.80,153.50 L381.07,154.02 L379.33,154.53 L377.60,155.04 L375.87,155.56 L374.13,156.08 L372.40,156.60 L370.67,157.13 L368.93,157.66 L367.20,158.20 L365.47,158.74 L363.73,159.27 L362.00,159.80 L360.27,160.32 L358.53,160.84 L356.80,161.36 L355.07,161.87 L353.33,162.38 L351.60,162.90 L349.87,163.42 L348.13,163.93 L346.40,164.45 L344.67,164.97 L342.93,165.48 L341.20,166.00 L339.45,166.52 L337.67,167.03 L335.90,167.54 L334.15,168.06 L332.44,168.58 L330.80,169.10 L329.21,169.64 L327.64,170.21 L326.12,170.79 L324.67,171.34 L323.29,171.85 L322.00,172.30 L320.77,172.69 L319.57,173.04 L318.45,173.35 L317.45,173.61 L316.62,173.83 L316.00,174.00 Z" fill="url(#gf2)"/>
<path d="M316.00,151.30 L317.57,151.34 L319.68,151.40 L322.21,151.48 L325.03,151.52 L328.00,151.50 L331.00,151.40 L334.11,151.19 L337.44,150.89 L340.94,150.54 L344.51,150.15 L348.09,149.76 L351.60,149.40 L355.06,149.05 L358.52,148.69 L361.99,148.33 L365.46,147.97 L368.93,147.63 L372.40,147.30 L376.04,146.97 L379.89,146.62 L383.74,146.28 L387.38,145.98 L390.60,145.75 L393.20,145.60 L395.08,145.56 L396.39,145.61 L397.28,145.72 L397.90,145.88 L398.43,146.04 L399.00,146.20 L399.58,146.37 L400.02,146.57 L400.36,146.79 L400.62,147.00 L400.83,147.17 L401.00,147.30 L400.00,148.50 L399.30,148.69 L398.37,148.95 L397.25,149.26 L395.99,149.61 L394.62,149.99 L393.20,150.40 L391.67,150.85 L390.00,151.34 L388.22,151.88 L386.40,152.42 L384.57,152.97 L382.80,153.50 L381.07,154.02 L379.33,154.53 L377.60,155.04 L375.87,155.56 L374.13,156.08 L372.40,156.60 L370.67,157.13 L368.93,157.66 L367.20,158.20 L365.47,158.74 L363.73,159.27 L362.00,159.80 L360.27,160.32 L358.53,160.84 L356.80,161.36 L355.07,161.87 L353.33,162.38 L351.60,162.90 L349.87,163.42 L348.13,163.93 L346.40,164.45 L344.67,164.97 L342.93,165.48 L341.20,166.00 L339.45,166.52 L337.67,167.03 L335.90,167.54 L334.15,168.06 L332.44,168.58 L330.80,169.10 L329.21,169.64 L327.64,170.21 L326.12,170.79 L324.67,171.34 L323.29,171.85 L322.00,172.30 L320.77,172.69 L319.57,173.04 L318.45,173.35 L317.45,173.61 L316.62,173.83 L316.00,174.00 Z" fill="url(#shade)"/>
<path d="M271,161 L282,153.6 L296,151.2 L310,149.5 L321,151 L323,158 L322,168 L318.5,174.3 L308,176.5 L295,179.5 L283.5,181.8 L276,180.5 L271,176 Z" fill="url(#b2v)"/>
<path d="M286,158 L318,156 L318,159 L286,162 Z" fill="#30d0a0" opacity="0.7"/>
<path d="M286,170 L318,168 L318,171 L286,174 Z" fill="#30d0c0" opacity="0.7"/>
<path d="M298,160.5 Q310,156.6 321,157 Q310,161 298,160.5 Z" fill="#eef4b0" opacity="0.95"/>
<ellipse cx="277.5" cy="169" rx="7.5" ry="11" fill="#40c8e8"/>
<circle cx="275.5" cy="163.5" r="2.1" fill="#30b0e8"/>
<circle cx="281" cy="164.5" r="2.1" fill="#30b0e8"/>
<circle cx="274.5" cy="170.5" r="2.1" fill="#30b0e8"/>
<circle cx="280.5" cy="171.5" r="2.1" fill="#30b0e8"/>
<circle cx="277" cy="176.5" r="2.1" fill="#30b0e8"/>
<rect x="270.7" y="159.2" width="2.6" height="2.6" fill="#e8f8fc"/>
<rect x="269.2" y="164.7" width="2.6" height="2.6" fill="#e8f8fc"/>
<rect x="269.7" y="172.7" width="2.6" height="2.6" fill="#e8f8fc"/>
<rect x="272.7" y="177.7" width="2.6" height="2.6" fill="#e8f8fc"/>
<path d="M282,153.6 L288,150 L296,151.2 L304,148.6 L310,149.5 L316,148.8 L321,151 L321,153 L282,156 Z" fill="#40c848"/>
<circle cx="271.5" cy="169" r="1.5" fill="#fff" opacity="0.9"/>
<text x="320" y="180.4" font-size="6.4" fill="#222" word-spacing="1">Square hole baffle</text>
<path d="M322.00,219.50 L322.70,219.52 L323.64,219.57 L324.77,219.62 L326.03,219.65 L327.36,219.65 L328.70,219.60 L330.10,219.48 L331.60,219.31 L333.17,219.11 L334.79,218.89 L336.41,218.68 L338.00,218.50 L339.47,218.35 L340.82,218.22 L342.18,218.10 L343.66,217.98 L345.39,217.85 L347.50,217.70 L350.10,217.53 L353.13,217.33 L356.41,217.12 L359.76,216.93 L363.02,216.75 L366.00,216.60 L368.82,216.48 L371.63,216.38 L374.34,216.29 L376.87,216.23 L379.12,216.20 L381.00,216.20 L382.44,216.23 L383.51,216.30 L384.30,216.39 L384.91,216.50 L385.44,216.64 L386.00,216.80 L386.55,217.00 L387.02,217.26 L387.41,217.54 L387.73,217.81 L387.99,218.04 L388.20,218.20 L387.50,219.60 L387.55,219.63 L387.71,219.65 L387.86,219.68 L387.84,219.76 L387.54,219.93 L386.80,220.20 L385.51,220.62 L383.74,221.18 L381.69,221.81 L379.51,222.48 L377.39,223.12 L375.50,223.70 L373.84,224.21 L372.26,224.70 L370.73,225.16 L369.23,225.61 L367.73,226.06 L366.20,226.50 L364.64,226.94 L363.07,227.37 L361.50,227.79 L359.93,228.20 L358.36,228.60 L356.80,229.00 L355.25,229.38 L353.70,229.73 L352.16,230.08 L350.61,230.43 L349.06,230.80 L347.50,231.20 L345.88,231.63 L344.20,232.09 L342.51,232.56 L340.88,233.04 L339.35,233.53 L338.00,234.00 L336.84,234.47 L335.83,234.94 L334.94,235.41 L334.11,235.87 L333.31,236.34 L332.50,236.80 L331.71,237.28 L330.98,237.77 L330.28,238.26 L329.57,238.73 L328.83,239.15 L328.00,239.50 L327.02,239.78 L325.89,240.00 L324.72,240.17 L323.61,240.30 L322.67,240.41 L322.00,240.50 Z" fill="url(#gf3)"/>
<path d="M322.00,219.50 L322.70,219.52 L323.64,219.57 L324.77,219.62 L326.03,219.65 L327.36,219.65 L328.70,219.60 L330.10,219.48 L331.60,219.31 L333.17,219.11 L334.79,218.89 L336.41,218.68 L338.00,218.50 L339.47,218.35 L340.82,218.22 L342.18,218.10 L343.66,217.98 L345.39,217.85 L347.50,217.70 L350.10,217.53 L353.13,217.33 L356.41,217.12 L359.76,216.93 L363.02,216.75 L366.00,216.60 L368.82,216.48 L371.63,216.38 L374.34,216.29 L376.87,216.23 L379.12,216.20 L381.00,216.20 L382.44,216.23 L383.51,216.30 L384.30,216.39 L384.91,216.50 L385.44,216.64 L386.00,216.80 L386.55,217.00 L387.02,217.26 L387.41,217.54 L387.73,217.81 L387.99,218.04 L388.20,218.20 L387.50,219.60 L387.55,219.63 L387.71,219.65 L387.86,219.68 L387.84,219.76 L387.54,219.93 L386.80,220.20 L385.51,220.62 L383.74,221.18 L381.69,221.81 L379.51,222.48 L377.39,223.12 L375.50,223.70 L373.84,224.21 L372.26,224.70 L370.73,225.16 L369.23,225.61 L367.73,226.06 L366.20,226.50 L364.64,226.94 L363.07,227.37 L361.50,227.79 L359.93,228.20 L358.36,228.60 L356.80,229.00 L355.25,229.38 L353.70,229.73 L352.16,230.08 L350.61,230.43 L349.06,230.80 L347.50,231.20 L345.88,231.63 L344.20,232.09 L342.51,232.56 L340.88,233.04 L339.35,233.53 L338.00,234.00 L336.84,234.47 L335.83,234.94 L334.94,235.41 L334.11,235.87 L333.31,236.34 L332.50,236.80 L331.71,237.28 L330.98,237.77 L330.28,238.26 L329.57,238.73 L328.83,239.15 L328.00,239.50 L327.02,239.78 L325.89,240.00 L324.72,240.17 L323.61,240.30 L322.67,240.41 L322.00,240.50 Z" fill="url(#shade)"/>
<path d="M271.6,223.6 L325,215.5 L326,222 L327,236 L325.7,243 L280,252.8 L276.6,253 Z" fill="url(#b3h)"/>
<path d="M268,226.9 L322,222.9 L322,225.7 L268,230.3 Z" fill="#40d8f0" opacity="0.85"/>
<path d="M268,234.4 L322,230.9 L322,233.7 L268,237.8 Z" fill="#40d8f0" opacity="0.85"/>
<path d="M268,242.4 L322,237.9 L322,240.7 L268,245.8 Z" fill="#40d8f0" opacity="0.85"/>
<path d="M300,232 Q316,227 331,227.2 Q316,231.8 300,232 Z" fill="#eef4b0" opacity="0.95"/>
<ellipse cx="276.6" cy="238" rx="10.8" ry="15" fill="#60d4ea" stroke="#3a6a80" stroke-width="0.6"/>
<path d="M266.5,226.5 L272,229 L266.5,231.5 Z" fill="#fff"/>
<path d="M272,227.5 L287,226.8 L287,230.2 L272,230.5 Z" fill="#28a8e8" opacity="0.8"/>
<path d="M266.5,235.0 L272,237.5 L266.5,240.0 Z" fill="#fff"/>
<path d="M272,236.0 L287,235.3 L287,238.7 L272,239.0 Z" fill="#28a8e8" opacity="0.8"/>
<path d="M266.5,243.5 L272,246 L266.5,248.5 Z" fill="#fff"/>
<path d="M272,244.5 L287,243.8 L287,247.2 L272,247.5 Z" fill="#28a8e8" opacity="0.8"/>
<text x="316.7" y="254.8" font-size="6.4" fill="#222" word-spacing="1">Triangular hole baffle</text>
<rect x="325.00" y="265" width="6.94" height="8" fill="#0a46ff"/>
<rect x="331.64" y="265" width="6.94" height="8" fill="#0a78ff"/>
<rect x="338.29" y="265" width="6.94" height="8" fill="#10b4ff"/>
<rect x="344.93" y="265" width="6.94" height="8" fill="#10e8f8"/>
<rect x="351.57" y="265" width="6.94" height="8" fill="#10f0c8"/>
<rect x="358.21" y="265" width="6.94" height="8" fill="#10e880"/>
<rect x="364.86" y="265" width="6.94" height="8" fill="#10e020"/>
<rect x="371.50" y="265" width="6.94" height="8" fill="#10e020"/>
<rect x="378.14" y="265" width="6.94" height="8" fill="#10e020"/>
<rect x="384.79" y="265" width="6.94" height="8" fill="#98e010"/>
<rect x="391.43" y="265" width="6.94" height="8" fill="#f0f000"/>
<rect x="398.07" y="265" width="6.94" height="8" fill="#ffc000"/>
<rect x="404.71" y="265" width="6.94" height="8" fill="#ff8000"/>
<rect x="411.36" y="265" width="6.94" height="8" fill="#ff3000"/>
<text x="312.5" y="281" font-size="5.2" fill="#333">T:</text>
<text x="327.5" y="281" font-size="5.2" fill="#333" text-anchor="middle">400</text>
<text x="343.7" y="281" font-size="5.2" fill="#333" text-anchor="middle">700</text>
<text x="359.9" y="281" font-size="5.2" fill="#333" text-anchor="middle">1000</text>
<text x="376.1" y="281" font-size="5.2" fill="#333" text-anchor="middle">1300</text>
<text x="392.3" y="281" font-size="5.2" fill="#333" text-anchor="middle">1600</text>
<text x="408.5" y="281" font-size="5.2" fill="#333" text-anchor="middle">1900</text>
<text x="12.3" y="315.3" font-size="13.6" fill="#222">(b)</text>
<rect x="40" y="326.5" width="62" height="62.7" fill="#fff" stroke="#aaa" stroke-width="0.8"/>
<g clip-path="url(#cp00)"><circle cx="71.30" cy="357.90" r="26.70" fill="#1a6af0" /><circle cx="71.30" cy="357.90" r="25.9" fill="none" stroke="#0c4cea" stroke-width="1.6"/><circle cx="86.60" cy="357.90" r="4.10" fill="#0c44ea" /><circle cx="78.95" cy="344.65" r="4.10" fill="#0c44ea" /><circle cx="63.65" cy="344.65" r="4.10" fill="#0c44ea" /><circle cx="56.00" cy="357.90" r="4.10" fill="#0c44ea" /><circle cx="63.65" cy="371.15" r="4.10" fill="#0c44ea" /><circle cx="78.95" cy="371.15" r="4.10" fill="#0c44ea" /><path d="M71.30,347.30 L62.12,352.60 L62.12,363.20 L71.30,368.50 L80.48,363.20 L80.48,352.60 Z" fill="#2cb4f0" stroke="#2cb4f0" stroke-width="0.5" stroke-linejoin="round"/><path d="M71.30,348.90 L63.51,353.40 L63.51,362.40 L71.30,366.90 L79.09,362.40 L79.09,353.40 Z" fill="#1a70f0"/><circle cx="71.30" cy="357.90" r="7.00" fill="#1a64f0" /><circle cx="71.30" cy="357.90" r="5.30" fill="#0c44ea" /><rect x="70.30" y="331.20" width="2" height="6.5" fill="#30d8f0"/><rect x="70.30" y="378.10" width="2" height="6.5" fill="#30d8f0"/></g>
<rect x="107" y="326.5" width="62" height="62.7" fill="#fff" stroke="#aaa" stroke-width="0.8"/>
<g clip-path="url(#cp01)"><circle cx="138.30" cy="357.90" r="26.70" fill="#1c8cf2" /><circle cx="138.30" cy="357.90" r="24.70" fill="#20b0f6" /><path d="M161.00,357.90 L160.97,357.11 L160.87,356.32 L160.70,355.55 L160.48,354.78 L160.21,354.04 L159.90,353.31 L159.54,352.60 L159.17,351.92 L158.77,351.25 L158.36,350.60 L157.95,349.96 L157.55,349.33 L157.15,348.70 L156.77,348.08 L156.40,347.45 L156.04,346.81 L155.69,346.17 L155.35,345.51 L155.00,344.85 L154.66,344.18 L154.29,343.50 L153.91,342.82 L153.51,342.15 L153.07,341.49 L152.60,340.86 L152.09,340.25 L151.54,339.67 L150.95,339.15 L150.32,338.67 L149.65,338.24 L148.95,337.87 L148.22,337.57 L147.46,337.32 L146.69,337.13 L145.91,336.99 L145.12,336.90 L144.33,336.85 L143.55,336.84 L142.77,336.85 L142.01,336.87 L141.25,336.91 L140.50,336.94 L139.76,336.97 L139.03,336.99 L138.30,337.00 L137.57,336.99 L136.84,336.97 L136.10,336.94 L135.35,336.91 L134.59,336.87 L133.83,336.85 L133.05,336.84 L132.27,336.85 L131.48,336.90 L130.69,336.99 L129.91,337.13 L129.14,337.32 L128.38,337.57 L127.65,337.87 L126.95,338.24 L126.28,338.67 L125.65,339.15 L125.06,339.67 L124.51,340.25 L124.00,340.86 L123.53,341.49 L123.09,342.15 L122.69,342.82 L122.31,343.50 L121.94,344.18 L121.60,344.85 L121.25,345.51 L120.91,346.17 L120.56,346.81 L120.20,347.45 L119.83,348.08 L119.45,348.70 L119.05,349.33 L118.65,349.96 L118.24,350.60 L117.83,351.25 L117.43,351.92 L117.06,352.60 L116.70,353.31 L116.39,354.04 L116.12,354.78 L115.90,355.55 L115.73,356.32 L115.63,357.11 L115.60,357.90 L115.63,358.69 L115.73,359.48 L115.90,360.25 L116.12,361.02 L116.39,361.76 L116.70,362.49 L117.06,363.20 L117.43,363.88 L117.83,364.55 L118.24,365.20 L118.65,365.84 L119.05,366.47 L119.45,367.10 L119.83,367.72 L120.20,368.35 L120.56,368.99 L120.91,369.63 L121.25,370.29 L121.60,370.95 L121.94,371.62 L122.31,372.30 L122.69,372.98 L123.09,373.65 L123.53,374.31 L124.00,374.94 L124.51,375.55 L125.06,376.13 L125.65,376.65 L126.28,377.13 L126.95,377.56 L127.65,377.93 L128.38,378.23 L129.14,378.48 L129.91,378.67 L130.69,378.81 L131.48,378.90 L132.27,378.95 L133.05,378.96 L133.83,378.95 L134.59,378.93 L135.35,378.89 L136.10,378.86 L136.84,378.83 L137.57,378.81 L138.30,378.80 L139.03,378.81 L139.76,378.83 L140.50,378.86 L141.25,378.89 L142.01,378.93 L142.77,378.95 L143.55,378.96 L144.33,378.95 L145.12,378.90 L145.91,378.81 L146.69,378.67 L147.46,378.48 L148.22,378.23 L148.95,377.93 L149.65,377.56 L150.32,377.13 L150.95,376.65 L151.54,376.13 L152.09,375.55 L152.60,374.94 L153.07,374.31 L153.51,373.65 L153.91,372.98 L154.29,372.30 L154.66,371.62 L155.00,370.95 L155.35,370.29 L155.69,369.63 L156.04,368.99 L156.40,368.35 L156.77,367.72 L157.15,367.10 L157.55,366.47 L157.95,365.84 L158.36,365.20 L158.77,364.55 L159.17,363.88 L159.54,363.20 L159.90,362.49 L160.21,361.76 L160.48,361.02 L160.70,360.25 L160.87,359.48 L160.97,358.69 Z" fill="#28ecf0"/><circle cx="138.30" cy="357.90" r="10.60" fill="#40ecc0" stroke="#20c0c8" stroke-width="0.7"/><circle cx="138.30" cy="357.90" r="9.30" fill="#28ecf0" /><circle cx="153.60" cy="357.90" r="4.20" fill="#0c44ea" /><circle cx="145.95" cy="344.65" r="4.20" fill="#0c44ea" /><circle cx="130.65" cy="344.65" r="4.20" fill="#0c44ea" /><circle cx="123.00" cy="357.90" r="4.20" fill="#0c44ea" /><circle cx="130.65" cy="371.15" r="4.20" fill="#0c44ea" /><circle cx="145.95" cy="371.15" r="4.20" fill="#0c44ea" /><circle cx="138.30" cy="357.90" r="4.40" fill="#0c44ea" /></g>
<rect x="174" y="326.5" width="62" height="62.7" fill="#fff" stroke="#aaa" stroke-width="0.8"/>
<g clip-path="url(#cp02)"><circle cx="205.30" cy="357.90" r="26.70" fill="#1c9af2" /><circle cx="205.30" cy="357.90" r="25.20" fill="#28ecf0" /><ellipse cx="205.30" cy="337.90" rx="5.5" ry="7.5" transform="rotate(-90.0 205.30 337.90)" fill="#38e038" /><ellipse cx="187.98" cy="347.90" rx="5.5" ry="7.5" transform="rotate(-150.0 187.98 347.90)" fill="#38e038" /><ellipse cx="187.98" cy="367.90" rx="5.5" ry="7.5" transform="rotate(-210.0 187.98 367.90)" fill="#38e038" /><ellipse cx="205.30" cy="377.90" rx="5.5" ry="7.5" transform="rotate(-270.0 205.30 377.90)" fill="#38e038" /><ellipse cx="222.62" cy="367.90" rx="5.5" ry="7.5" transform="rotate(-330.0 222.62 367.90)" fill="#38e038" /><ellipse cx="222.62" cy="347.90" rx="5.5" ry="7.5" transform="rotate(-390.0 222.62 347.90)" fill="#38e038" /><path d="M205.30,345.40 L194.47,351.65 L194.47,364.15 L205.30,370.40 L216.13,364.15 L216.13,351.65 Z" fill="#38e038"/><circle cx="205.30" cy="357.90" r="7.50" fill="#28ecf0" /><circle cx="220.60" cy="357.90" r="4.30" fill="#0c44ea" /><circle cx="212.95" cy="344.65" r="4.30" fill="#0c44ea" /><circle cx="197.65" cy="344.65" r="4.30" fill="#0c44ea" /><circle cx="190.00" cy="357.90" r="4.30" fill="#0c44ea" /><circle cx="197.65" cy="371.15" r="4.30" fill="#0c44ea" /><circle cx="212.95" cy="371.15" r="4.30" fill="#0c44ea" /><circle cx="205.30" cy="357.90" r="4.80" fill="#0c44ea" /></g>
<rect x="241" y="326.5" width="62" height="62.7" fill="#fff" stroke="#aaa" stroke-width="0.8"/>
<g clip-path="url(#cp03)"><circle cx="272.30" cy="357.90" r="26.70" fill="#30e030" /><ellipse cx="298.60" cy="357.90" rx="2.2" ry="5.5" transform="rotate(-0.0 298.60 357.90)" fill="#30e8e0" /><ellipse cx="288.60" cy="357.90" rx="6.2" ry="5.6" transform="rotate(-0.0 288.60 357.90)" fill="#30e8e8" /><ellipse cx="285.45" cy="335.12" rx="2.2" ry="5.5" transform="rotate(-60.0 285.45 335.12)" fill="#30e8e0" /><ellipse cx="280.45" cy="343.78" rx="6.2" ry="5.6" transform="rotate(-60.0 280.45 343.78)" fill="#30e8e8" /><ellipse cx="259.15" cy="335.12" rx="2.2" ry="5.5" transform="rotate(-120.0 259.15 335.12)" fill="#30e8e0" /><ellipse cx="264.15" cy="343.78" rx="6.2" ry="5.6" transform="rotate(-120.0 264.15 343.78)" fill="#30e8e8" /><ellipse cx="246.00" cy="357.90" rx="2.2" ry="5.5" transform="rotate(-180.0 246.00 357.90)" fill="#30e8e0" /><ellipse cx="256.00" cy="357.90" rx="6.2" ry="5.6" transform="rotate(-180.0 256.00 357.90)" fill="#30e8e8" /><ellipse cx="259.15" cy="380.68" rx="2.2" ry="5.5" transform="rotate(-240.0 259.15 380.68)" fill="#30e8e0" /><ellipse cx="264.15" cy="372.02" rx="6.2" ry="5.6" transform="rotate(-240.0 264.15 372.02)" fill="#30e8e8" /><ellipse cx="285.45" cy="380.68" rx="2.2" ry="5.5" transform="rotate(-300.0 285.45 380.68)" fill="#30e8e0" /><ellipse cx="280.45" cy="372.02" rx="6.2" ry="5.6" transform="rotate(-300.0 280.45 372.02)" fill="#30e8e8" /><circle cx="287.80" cy="357.90" r="4.10" fill="#0c44ea" /><circle cx="280.05" cy="344.48" r="4.10" fill="#0c44ea" /><circle cx="264.55" cy="344.48" r="4.10" fill="#0c44ea" /><circle cx="256.80" cy="357.90" r="4.10" fill="#0c44ea" /><circle cx="264.55" cy="371.32" r="4.10" fill="#0c44ea" /><circle cx="280.05" cy="371.32" r="4.10" fill="#0c44ea" /><path d="M272.30,349.70 L265.20,353.80 L265.20,362.00 L272.30,366.10 L279.40,362.00 L279.40,353.80 Z" fill="#30e8e8"/><circle cx="272.30" cy="357.90" r="5.80" fill="url(#cg03)" /></g>
<rect x="308" y="326.5" width="62" height="62.7" fill="#fff" stroke="#aaa" stroke-width="0.8"/>
<g clip-path="url(#cp04)"><circle cx="339.30" cy="357.90" r="26.70" fill="#30d848" /><circle cx="339.30" cy="357.90" r="26.0" fill="none" stroke="#30d0d8" stroke-width="1.5"/><path d="M345.90,346.47 L345.31,345.37 L344.78,344.38 L344.31,343.47 L343.89,342.61 L343.54,341.79 L343.24,341.00 L343.00,340.24 L342.80,339.50 L342.66,338.77 L342.57,338.05 L342.51,337.34 L342.50,336.64 L342.07,334.80 L340.90,333.63 L339.30,333.20 L337.70,333.63 L336.53,334.80 L336.10,336.64 L336.09,337.34 L336.03,338.05 L335.94,338.77 L335.80,339.50 L335.60,340.24 L335.36,341.00 L335.06,341.79 L334.71,342.61 L334.29,343.47 L333.82,344.38 L333.29,345.37 L332.70,346.47 L332.70,346.47 L331.46,346.43 L330.33,346.40 L329.30,346.35 L328.35,346.28 L327.47,346.17 L326.64,346.04 L325.85,345.87 L325.11,345.66 L324.41,345.42 L323.74,345.15 L323.10,344.84 L322.49,344.50 L320.68,343.95 L319.08,344.38 L317.91,345.55 L317.48,347.15 L317.91,348.75 L319.29,350.04 L319.89,350.40 L320.48,350.80 L321.05,351.24 L321.61,351.73 L322.16,352.27 L322.70,352.86 L323.23,353.52 L323.76,354.23 L324.30,355.02 L324.86,355.88 L325.45,356.84 L326.10,357.90 L326.10,357.90 L325.45,358.96 L324.86,359.92 L324.30,360.78 L323.76,361.57 L323.23,362.28 L322.70,362.94 L322.16,363.53 L321.61,364.07 L321.05,364.56 L320.48,365.00 L319.89,365.40 L319.29,365.76 L317.91,367.05 L317.48,368.65 L317.91,370.25 L319.08,371.42 L320.68,371.85 L322.49,371.30 L323.10,370.96 L323.74,370.65 L324.41,370.38 L325.11,370.14 L325.85,369.93 L326.64,369.76 L327.47,369.63 L328.35,369.52 L329.30,369.45 L330.33,369.40 L331.46,369.37 L332.70,369.33 L332.70,369.33 L333.29,370.43 L333.82,371.42 L334.29,372.33 L334.71,373.19 L335.06,374.01 L335.36,374.80 L335.60,375.56 L335.80,376.30 L335.94,377.03 L336.03,377.75 L336.09,378.46 L336.10,379.16 L336.53,381.00 L337.70,382.17 L339.30,382.60 L340.90,382.17 L342.07,381.00 L342.50,379.16 L342.51,378.46 L342.57,377.75 L342.66,377.03 L342.80,376.30 L343.00,375.56 L343.24,374.80 L343.54,374.01 L343.89,373.19 L344.31,372.33 L344.78,371.42 L345.31,370.43 L345.90,369.33 L345.90,369.33 L347.14,369.37 L348.27,369.40 L349.30,369.45 L350.25,369.52 L351.13,369.63 L351.96,369.76 L352.75,369.93 L353.49,370.14 L354.19,370.38 L354.86,370.65 L355.50,370.96 L356.11,371.30 L357.92,371.85 L359.52,371.42 L360.69,370.25 L361.12,368.65 L360.69,367.05 L359.31,365.76 L358.71,365.40 L358.12,365.00 L357.55,364.56 L356.99,364.07 L356.44,363.53 L355.90,362.94 L355.37,362.28 L354.84,361.57 L354.30,360.78 L353.74,359.92 L353.15,358.96 L352.50,357.90 L352.50,357.90 L353.15,356.84 L353.74,355.88 L354.30,355.02 L354.84,354.23 L355.37,353.52 L355.90,352.86 L356.44,352.27 L356.99,351.73 L357.55,351.24 L358.12,350.80 L358.71,350.40 L359.31,350.04 L360.69,348.75 L361.12,347.15 L360.69,345.55 L359.52,344.38 L357.92,343.95 L356.11,344.50 L355.50,344.84 L354.86,345.15 L354.19,345.42 L353.49,345.66 L352.75,345.87 L351.96,346.04 L351.13,346.17 L350.25,346.28 L349.30,346.35 L348.27,346.40 L347.14,346.43 L345.90,346.47 Z" fill="#f0e020"/><path d="M345.50,347.16 L344.80,346.07 L344.18,345.10 L343.62,344.22 L343.14,343.40 L342.72,342.63 L342.37,341.89 L342.08,341.18 L341.86,340.49 L341.69,339.81 L341.58,339.14 L341.52,338.48 L341.50,337.82 L341.21,336.60 L340.40,335.79 L339.30,335.50 L338.20,335.79 L337.39,336.60 L337.10,337.82 L337.08,338.48 L337.02,339.14 L336.91,339.81 L336.74,340.49 L336.52,341.18 L336.23,341.89 L335.88,342.63 L335.46,343.40 L334.98,344.22 L334.42,345.10 L333.80,346.07 L333.10,347.16 L333.10,347.16 L331.80,347.22 L330.65,347.27 L329.61,347.31 L328.66,347.32 L327.79,347.30 L326.97,347.24 L326.21,347.13 L325.50,346.98 L324.83,346.78 L324.19,346.55 L323.59,346.27 L323.01,345.95 L321.81,345.60 L320.71,345.89 L319.90,346.70 L319.61,347.80 L319.90,348.90 L320.81,349.77 L321.37,350.11 L321.91,350.49 L322.44,350.92 L322.94,351.41 L323.43,351.95 L323.90,352.56 L324.36,353.23 L324.82,353.97 L325.29,354.80 L325.77,355.72 L326.30,356.75 L326.90,357.90 L326.90,357.90 L326.30,359.05 L325.77,360.08 L325.29,361.00 L324.82,361.83 L324.36,362.57 L323.90,363.24 L323.43,363.85 L322.94,364.39 L322.44,364.88 L321.91,365.31 L321.37,365.69 L320.81,366.03 L319.90,366.90 L319.61,368.00 L319.90,369.10 L320.71,369.91 L321.81,370.20 L323.01,369.85 L323.59,369.53 L324.19,369.25 L324.83,369.02 L325.50,368.82 L326.21,368.67 L326.97,368.56 L327.79,368.50 L328.66,368.48 L329.61,368.49 L330.65,368.53 L331.80,368.58 L333.10,368.64 L333.10,368.64 L333.80,369.73 L334.42,370.70 L334.98,371.58 L335.46,372.40 L335.88,373.17 L336.23,373.91 L336.52,374.62 L336.74,375.31 L336.91,375.99 L337.02,376.66 L337.08,377.32 L337.10,377.98 L337.39,379.20 L338.20,380.01 L339.30,380.30 L340.40,380.01 L341.21,379.20 L341.50,377.98 L341.52,377.32 L341.58,376.66 L341.69,375.99 L341.86,375.31 L342.08,374.62 L342.37,373.91 L342.72,373.17 L343.14,372.40 L343.62,371.58 L344.18,370.70 L344.80,369.73 L345.50,368.64 L345.50,368.64 L346.80,368.58 L347.95,368.53 L348.99,368.49 L349.94,368.48 L350.81,368.50 L351.63,368.56 L352.39,368.67 L353.10,368.82 L353.77,369.02 L354.41,369.25 L355.01,369.53 L355.59,369.85 L356.79,370.20 L357.89,369.91 L358.70,369.10 L358.99,368.00 L358.70,366.90 L357.79,366.03 L357.23,365.69 L356.69,365.31 L356.16,364.88 L355.66,364.39 L355.17,363.85 L354.70,363.24 L354.24,362.57 L353.78,361.83 L353.31,361.00 L352.83,360.08 L352.30,359.05 L351.70,357.90 L351.70,357.90 L352.30,356.75 L352.83,355.72 L353.31,354.80 L353.78,353.97 L354.24,353.23 L354.70,352.56 L355.17,351.95 L355.66,351.41 L356.16,350.92 L356.69,350.49 L357.23,350.11 L357.79,349.77 L358.70,348.90 L358.99,347.80 L358.70,346.70 L357.89,345.89 L356.79,345.60 L355.59,345.95 L355.01,346.27 L354.41,346.55 L353.77,346.78 L353.10,346.98 L352.39,347.13 L351.63,347.24 L350.81,347.30 L349.94,347.32 L348.99,347.31 L347.95,347.27 L346.80,347.22 L345.50,347.16 Z" fill="#f89020"/><path d="M345.20,347.68 L344.45,346.60 L343.78,345.66 L343.18,344.81 L342.66,344.04 L342.21,343.30 L341.84,342.61 L341.53,341.94 L341.28,341.28 L341.10,340.64 L340.98,340.01 L340.92,339.39 L340.90,338.77 L340.69,337.90 L340.10,337.31 L339.30,337.10 L338.50,337.31 L337.91,337.90 L337.70,338.77 L337.68,339.39 L337.62,340.01 L337.50,340.64 L337.32,341.28 L337.07,341.94 L336.76,342.61 L336.39,343.30 L335.94,344.04 L335.42,344.81 L334.82,345.66 L334.15,346.60 L333.40,347.68 L333.40,347.68 L332.09,347.79 L330.94,347.90 L329.91,347.99 L328.97,348.06 L328.12,348.08 L327.33,348.06 L326.59,347.99 L325.90,347.87 L325.26,347.71 L324.65,347.50 L324.08,347.24 L323.53,346.95 L322.67,346.70 L321.87,346.91 L321.29,347.50 L321.07,348.30 L321.29,349.10 L321.93,349.72 L322.46,350.04 L322.97,350.41 L323.45,350.83 L323.92,351.31 L324.36,351.85 L324.79,352.45 L325.20,353.13 L325.61,353.88 L326.03,354.72 L326.46,355.66 L326.94,356.71 L327.50,357.90 L327.50,357.90 L326.94,359.09 L326.46,360.14 L326.03,361.08 L325.61,361.92 L325.20,362.67 L324.79,363.35 L324.36,363.95 L323.92,364.49 L323.45,364.97 L322.97,365.39 L322.46,365.76 L321.93,366.08 L321.29,366.70 L321.07,367.50 L321.29,368.30 L321.87,368.89 L322.67,369.10 L323.53,368.85 L324.08,368.56 L324.65,368.30 L325.26,368.09 L325.90,367.93 L326.59,367.81 L327.33,367.74 L328.12,367.72 L328.97,367.74 L329.91,367.81 L330.94,367.90 L332.09,368.01 L333.40,368.12 L333.40,368.12 L334.15,369.20 L334.82,370.14 L335.42,370.99 L335.94,371.76 L336.39,372.50 L336.76,373.19 L337.07,373.86 L337.32,374.52 L337.50,375.16 L337.62,375.79 L337.68,376.41 L337.70,377.03 L337.91,377.90 L338.50,378.49 L339.30,378.70 L340.10,378.49 L340.69,377.90 L340.90,377.03 L340.92,376.41 L340.98,375.79 L341.10,375.16 L341.28,374.52 L341.53,373.86 L341.84,373.19 L342.21,372.50 L342.66,371.76 L343.18,370.99 L343.78,370.14 L344.45,369.20 L345.20,368.12 L345.20,368.12 L346.51,368.01 L347.66,367.90 L348.69,367.81 L349.63,367.74 L350.48,367.72 L351.27,367.74 L352.01,367.81 L352.70,367.93 L353.34,368.09 L353.95,368.30 L354.52,368.56 L355.07,368.85 L355.93,369.10 L356.73,368.89 L357.31,368.30 L357.53,367.50 L357.31,366.70 L356.67,366.08 L356.14,365.76 L355.63,365.39 L355.15,364.97 L354.68,364.49 L354.24,363.95 L353.81,363.35 L353.40,362.67 L352.99,361.92 L352.57,361.08 L352.14,360.14 L351.66,359.09 L351.10,357.90 L351.10,357.90 L351.66,356.71 L352.14,355.66 L352.57,354.72 L352.99,353.88 L353.40,353.13 L353.81,352.45 L354.24,351.85 L354.68,351.31 L355.15,350.83 L355.63,350.41 L356.14,350.04 L356.67,349.72 L357.31,349.10 L357.53,348.30 L357.31,347.50 L356.73,346.91 L355.93,346.70 L355.07,346.95 L354.52,347.24 L353.95,347.50 L353.34,347.71 L352.70,347.87 L352.01,347.99 L351.27,348.06 L350.48,348.08 L349.63,348.06 L348.69,347.99 L347.66,347.90 L346.51,347.79 L345.20,347.68 Z" fill="#f86010"/><circle cx="355.60" cy="357.90" r="5.20" fill="#40d8e8" /><circle cx="355.60" cy="357.90" r="2.60" fill="#2090f0" /><circle cx="347.45" cy="343.78" r="5.20" fill="#40d8e8" /><circle cx="347.45" cy="343.78" r="2.60" fill="#2090f0" /><circle cx="331.15" cy="343.78" r="5.20" fill="#40d8e8" /><circle cx="331.15" cy="343.78" r="2.60" fill="#2090f0" /><circle cx="323.00" cy="357.90" r="5.20" fill="#40d8e8" /><circle cx="323.00" cy="357.90" r="2.60" fill="#2090f0" /><circle cx="331.15" cy="372.02" r="5.20" fill="#40d8e8" /><circle cx="331.15" cy="372.02" r="2.60" fill="#2090f0" /><circle cx="347.45" cy="372.02" r="5.20" fill="#40d8e8" /><circle cx="347.45" cy="372.02" r="2.60" fill="#2090f0" /></g>
<rect x="375" y="326.5" width="62" height="62.7" fill="#fff" stroke="#aaa" stroke-width="0.8"/>
<g clip-path="url(#cp05)"><circle cx="406.30" cy="357.90" r="26.70" fill="#20e020" /><circle cx="406.30" cy="357.90" r="26.0" fill="none" stroke="#20d0d0" stroke-width="1.5"/><path d="M423.90,357.90 L423.92,357.44 L423.99,356.97 L424.10,356.50 L424.24,356.01 L424.42,355.51 L424.62,355.00 L424.84,354.46 L425.07,353.91 L425.30,353.34 L425.52,352.75 L425.73,352.15 L425.90,351.53 L426.04,350.91 L426.14,350.28 L426.19,349.66 L426.18,349.05 L426.11,348.45 L425.98,347.87 L425.78,347.32 L425.53,346.80 L425.20,346.32 L424.82,345.87 L424.39,345.47 L423.90,345.11 L423.38,344.80 L422.82,344.53 L422.23,344.30 L421.62,344.11 L421.00,343.95 L420.37,343.83 L419.75,343.73 L419.14,343.64 L418.55,343.56 L417.97,343.49 L417.42,343.40 L416.90,343.31 L416.41,343.19 L415.95,343.04 L415.51,342.87 L415.10,342.66 L414.71,342.41 L414.34,342.12 L413.98,341.79 L413.64,341.42 L413.29,341.02 L412.95,340.58 L412.59,340.13 L412.23,339.65 L411.85,339.16 L411.45,338.68 L411.03,338.20 L410.59,337.74 L410.12,337.31 L409.62,336.91 L409.11,336.56 L408.57,336.26 L408.02,336.02 L407.46,335.84 L406.88,335.74 L406.30,335.70 L405.72,335.74 L405.14,335.84 L404.58,336.02 L404.03,336.26 L403.49,336.56 L402.98,336.91 L402.48,337.31 L402.01,337.74 L401.57,338.20 L401.15,338.68 L400.75,339.16 L400.37,339.65 L400.01,340.13 L399.65,340.58 L399.31,341.02 L398.96,341.42 L398.62,341.79 L398.26,342.12 L397.89,342.41 L397.50,342.66 L397.09,342.87 L396.65,343.04 L396.19,343.19 L395.70,343.31 L395.18,343.40 L394.63,343.49 L394.05,343.56 L393.46,343.64 L392.85,343.73 L392.23,343.83 L391.60,343.95 L390.98,344.11 L390.37,344.30 L389.78,344.53 L389.22,344.80 L388.70,345.11 L388.21,345.47 L387.78,345.87 L387.40,346.32 L387.07,346.80 L386.82,347.32 L386.62,347.87 L386.49,348.45 L386.42,349.05 L386.41,349.66 L386.46,350.28 L386.56,350.91 L386.70,351.53 L386.87,352.15 L387.08,352.75 L387.30,353.34 L387.53,353.91 L387.76,354.46 L387.98,355.00 L388.18,355.51 L388.36,356.01 L388.50,356.50 L388.61,356.97 L388.68,357.44 L388.70,357.90 L388.68,358.36 L388.61,358.83 L388.50,359.30 L388.36,359.79 L388.18,360.29 L387.98,360.80 L387.76,361.34 L387.53,361.89 L387.30,362.46 L387.08,363.05 L386.87,363.65 L386.70,364.27 L386.56,364.89 L386.46,365.52 L386.41,366.14 L386.42,366.75 L386.49,367.35 L386.62,367.93 L386.82,368.48 L387.07,369.00 L387.40,369.48 L387.78,369.93 L388.21,370.33 L388.70,370.69 L389.22,371.00 L389.78,371.27 L390.37,371.50 L390.98,371.69 L391.60,371.85 L392.23,371.97 L392.85,372.07 L393.46,372.16 L394.05,372.24 L394.63,372.31 L395.18,372.40 L395.70,372.49 L396.19,372.61 L396.65,372.76 L397.09,372.93 L397.50,373.14 L397.89,373.39 L398.26,373.68 L398.62,374.01 L398.96,374.38 L399.31,374.78 L399.65,375.22 L400.01,375.67 L400.37,376.15 L400.75,376.64 L401.15,377.12 L401.57,377.60 L402.01,378.06 L402.48,378.49 L402.98,378.89 L403.49,379.24 L404.03,379.54 L404.58,379.78 L405.14,379.96 L405.72,380.06 L406.30,380.10 L406.88,380.06 L407.46,379.96 L408.02,379.78 L408.57,379.54 L409.11,379.24 L409.62,378.89 L410.12,378.49 L410.59,378.06 L411.03,377.60 L411.45,377.12 L411.85,376.64 L412.23,376.15 L412.59,375.67 L412.95,375.22 L413.29,374.78 L413.64,374.38 L413.98,374.01 L414.34,373.68 L414.71,373.39 L415.10,373.14 L415.51,372.93 L415.95,372.76 L416.41,372.61 L416.90,372.49 L417.42,372.40 L417.97,372.31 L418.55,372.24 L419.14,372.16 L419.75,372.07 L420.37,371.97 L421.00,371.85 L421.62,371.69 L422.23,371.50 L422.82,371.27 L423.38,371.00 L423.90,370.69 L424.39,370.33 L424.82,369.93 L425.20,369.48 L425.53,369.00 L425.78,368.48 L425.98,367.93 L426.11,367.35 L426.18,366.75 L426.19,366.14 L426.14,365.52 L426.04,364.89 L425.90,364.27 L425.73,363.65 L425.52,363.05 L425.30,362.46 L425.07,361.89 L424.84,361.34 L424.62,360.80 L424.42,360.29 L424.24,359.79 L424.10,359.30 L423.99,358.83 L423.92,358.36 Z" fill="#a0f000"/><path d="M423.30,357.90 L423.32,357.45 L423.39,357.00 L423.50,356.55 L423.64,356.08 L423.82,355.59 L424.03,355.09 L424.25,354.57 L424.48,354.04 L424.72,353.48 L424.94,352.90 L425.15,352.32 L425.33,351.72 L425.48,351.11 L425.58,350.50 L425.63,349.89 L425.63,349.29 L425.57,348.71 L425.45,348.14 L425.26,347.61 L425.01,347.10 L424.69,346.63 L424.32,346.20 L423.89,345.81 L423.42,345.46 L422.90,345.16 L422.35,344.90 L421.77,344.69 L421.17,344.51 L420.56,344.37 L419.95,344.25 L419.34,344.16 L418.74,344.09 L418.16,344.02 L417.60,343.95 L417.06,343.88 L416.55,343.79 L416.07,343.68 L415.62,343.55 L415.20,343.38 L414.80,343.18 L414.43,342.94 L414.07,342.65 L413.73,342.33 L413.39,341.97 L413.06,341.57 L412.73,341.14 L412.39,340.69 L412.04,340.22 L411.68,339.74 L411.30,339.26 L410.89,338.78 L410.46,338.33 L410.01,337.90 L409.53,337.50 L409.03,337.15 L408.51,336.86 L407.98,336.62 L407.42,336.44 L406.86,336.34 L406.30,336.30 L405.74,336.34 L405.18,336.44 L404.62,336.62 L404.09,336.86 L403.57,337.15 L403.07,337.50 L402.59,337.90 L402.14,338.33 L401.71,338.78 L401.30,339.26 L400.92,339.74 L400.56,340.22 L400.21,340.69 L399.87,341.14 L399.54,341.57 L399.21,341.97 L398.87,342.33 L398.53,342.65 L398.17,342.94 L397.80,343.18 L397.40,343.38 L396.98,343.55 L396.53,343.68 L396.05,343.79 L395.54,343.88 L395.00,343.95 L394.44,344.02 L393.86,344.09 L393.26,344.16 L392.65,344.25 L392.04,344.37 L391.43,344.51 L390.83,344.69 L390.25,344.90 L389.70,345.16 L389.18,345.46 L388.71,345.81 L388.28,346.20 L387.91,346.63 L387.59,347.10 L387.34,347.61 L387.15,348.14 L387.03,348.71 L386.97,349.29 L386.97,349.89 L387.02,350.50 L387.12,351.11 L387.27,351.72 L387.45,352.32 L387.66,352.90 L387.88,353.48 L388.12,354.04 L388.35,354.57 L388.57,355.09 L388.78,355.59 L388.96,356.08 L389.10,356.55 L389.21,357.00 L389.28,357.45 L389.30,357.90 L389.28,358.35 L389.21,358.80 L389.10,359.25 L388.96,359.72 L388.78,360.21 L388.57,360.71 L388.35,361.23 L388.12,361.76 L387.88,362.32 L387.66,362.90 L387.45,363.48 L387.27,364.08 L387.12,364.69 L387.02,365.30 L386.97,365.91 L386.97,366.51 L387.03,367.09 L387.15,367.66 L387.34,368.19 L387.59,368.70 L387.91,369.17 L388.28,369.60 L388.71,369.99 L389.18,370.34 L389.70,370.64 L390.25,370.90 L390.83,371.11 L391.43,371.29 L392.04,371.43 L392.65,371.55 L393.26,371.64 L393.86,371.71 L394.44,371.78 L395.00,371.85 L395.54,371.92 L396.05,372.01 L396.53,372.12 L396.98,372.25 L397.40,372.42 L397.80,372.62 L398.17,372.86 L398.53,373.15 L398.87,373.47 L399.21,373.83 L399.54,374.23 L399.87,374.66 L400.21,375.11 L400.56,375.58 L400.92,376.06 L401.30,376.54 L401.71,377.02 L402.14,377.47 L402.59,377.90 L403.07,378.30 L403.57,378.65 L404.09,378.94 L404.62,379.18 L405.18,379.36 L405.74,379.46 L406.30,379.50 L406.86,379.46 L407.42,379.36 L407.98,379.18 L408.51,378.94 L409.03,378.65 L409.53,378.30 L410.01,377.90 L410.46,377.47 L410.89,377.02 L411.30,376.54 L411.68,376.06 L412.04,375.58 L412.39,375.11 L412.73,374.66 L413.06,374.23 L413.39,373.83 L413.73,373.47 L414.07,373.15 L414.43,372.86 L414.80,372.62 L415.20,372.42 L415.62,372.25 L416.07,372.12 L416.55,372.01 L417.06,371.92 L417.60,371.85 L418.16,371.78 L418.74,371.71 L419.34,371.64 L419.95,371.55 L420.56,371.43 L421.17,371.29 L421.77,371.11 L422.35,370.90 L422.90,370.64 L423.42,370.34 L423.89,369.99 L424.32,369.60 L424.69,369.17 L425.01,368.70 L425.26,368.19 L425.45,367.66 L425.57,367.09 L425.63,366.51 L425.63,365.91 L425.58,365.30 L425.48,364.69 L425.33,364.08 L425.15,363.48 L424.94,362.90 L424.72,362.32 L424.48,361.76 L424.25,361.23 L424.03,360.71 L423.82,360.21 L423.64,359.72 L423.50,359.25 L423.39,358.80 L423.32,358.35 Z" fill="#f0f000"/><path d="M422.00,357.90 L422.02,357.49 L422.09,357.07 L422.20,356.65 L422.35,356.21 L422.53,355.76 L422.74,355.30 L422.97,354.81 L423.21,354.31 L423.45,353.78 L423.69,353.24 L423.90,352.69 L424.09,352.12 L424.25,351.54 L424.37,350.96 L424.43,350.39 L424.44,349.82 L424.40,349.27 L424.29,348.74 L424.12,348.23 L423.88,347.75 L423.58,347.31 L423.23,346.91 L422.82,346.54 L422.37,346.23 L421.87,345.95 L421.34,345.72 L420.78,345.53 L420.20,345.38 L419.62,345.26 L419.03,345.17 L418.44,345.10 L417.87,345.05 L417.31,345.01 L416.78,344.96 L416.27,344.91 L415.79,344.84 L415.33,344.75 L414.91,344.64 L414.52,344.49 L414.15,344.30 L413.80,344.08 L413.48,343.81 L413.17,343.50 L412.86,343.16 L412.57,342.77 L412.27,342.36 L411.96,341.92 L411.64,341.46 L411.31,340.99 L410.96,340.51 L410.59,340.05 L410.19,339.60 L409.77,339.17 L409.33,338.79 L408.86,338.44 L408.38,338.15 L407.87,337.91 L407.36,337.74 L406.83,337.64 L406.30,337.60 L405.77,337.64 L405.24,337.74 L404.73,337.91 L404.22,338.15 L403.74,338.44 L403.27,338.79 L402.83,339.17 L402.41,339.60 L402.01,340.05 L401.64,340.51 L401.29,340.99 L400.96,341.46 L400.64,341.92 L400.33,342.36 L400.03,342.77 L399.74,343.16 L399.43,343.50 L399.12,343.81 L398.80,344.08 L398.45,344.30 L398.08,344.49 L397.69,344.64 L397.27,344.75 L396.81,344.84 L396.33,344.91 L395.82,344.96 L395.29,345.01 L394.73,345.05 L394.16,345.10 L393.57,345.17 L392.98,345.26 L392.40,345.38 L391.82,345.53 L391.26,345.72 L390.73,345.95 L390.23,346.23 L389.78,346.54 L389.37,346.91 L389.02,347.31 L388.72,347.75 L388.48,348.23 L388.31,348.74 L388.20,349.27 L388.16,349.82 L388.17,350.39 L388.23,350.96 L388.35,351.54 L388.51,352.12 L388.70,352.69 L388.91,353.24 L389.15,353.78 L389.39,354.31 L389.63,354.81 L389.86,355.30 L390.07,355.76 L390.25,356.21 L390.40,356.65 L390.51,357.07 L390.58,357.49 L390.60,357.90 L390.58,358.31 L390.51,358.73 L390.40,359.15 L390.25,359.59 L390.07,360.04 L389.86,360.50 L389.63,360.99 L389.39,361.49 L389.15,362.02 L388.91,362.56 L388.70,363.11 L388.51,363.68 L388.35,364.26 L388.23,364.84 L388.17,365.41 L388.16,365.98 L388.20,366.53 L388.31,367.06 L388.48,367.57 L388.72,368.05 L389.02,368.49 L389.37,368.89 L389.78,369.26 L390.23,369.57 L390.73,369.85 L391.26,370.08 L391.82,370.27 L392.40,370.42 L392.98,370.54 L393.57,370.63 L394.16,370.70 L394.73,370.75 L395.29,370.79 L395.82,370.84 L396.33,370.89 L396.81,370.96 L397.27,371.05 L397.69,371.16 L398.08,371.31 L398.45,371.50 L398.80,371.72 L399.12,371.99 L399.43,372.30 L399.74,372.64 L400.03,373.03 L400.33,373.44 L400.64,373.88 L400.96,374.34 L401.29,374.81 L401.64,375.29 L402.01,375.75 L402.41,376.20 L402.83,376.63 L403.27,377.01 L403.74,377.36 L404.22,377.65 L404.73,377.89 L405.24,378.06 L405.77,378.16 L406.30,378.20 L406.83,378.16 L407.36,378.06 L407.87,377.89 L408.38,377.65 L408.86,377.36 L409.33,377.01 L409.77,376.63 L410.19,376.20 L410.59,375.75 L410.96,375.29 L411.31,374.81 L411.64,374.34 L411.96,373.88 L412.27,373.44 L412.57,373.03 L412.86,372.64 L413.17,372.30 L413.48,371.99 L413.80,371.72 L414.15,371.50 L414.52,371.31 L414.91,371.16 L415.33,371.05 L415.79,370.96 L416.27,370.89 L416.78,370.84 L417.31,370.79 L417.87,370.75 L418.44,370.70 L419.03,370.63 L419.62,370.54 L420.20,370.42 L420.78,370.27 L421.34,370.08 L421.87,369.85 L422.37,369.57 L422.82,369.26 L423.23,368.89 L423.58,368.49 L423.88,368.05 L424.12,367.57 L424.29,367.06 L424.40,366.53 L424.44,365.98 L424.43,365.41 L424.37,364.84 L424.25,364.26 L424.09,363.68 L423.90,363.11 L423.69,362.56 L423.45,362.02 L423.21,361.49 L422.97,360.99 L422.74,360.50 L422.53,360.04 L422.35,359.59 L422.20,359.15 L422.09,358.73 L422.02,358.31 Z" fill="#f8d000"/><path d="M421.00,357.90 L421.02,357.51 L421.09,357.12 L421.20,356.73 L421.36,356.32 L421.54,355.89 L421.76,355.45 L421.99,354.99 L422.23,354.51 L422.48,354.02 L422.72,353.50 L422.94,352.97 L423.14,352.43 L423.31,351.88 L423.43,351.32 L423.51,350.77 L423.53,350.23 L423.49,349.70 L423.40,349.19 L423.24,348.70 L423.01,348.25 L422.73,347.83 L422.39,347.45 L422.00,347.11 L421.56,346.81 L421.08,346.56 L420.56,346.35 L420.02,346.18 L419.46,346.05 L418.89,345.95 L418.32,345.88 L417.75,345.83 L417.20,345.79 L416.66,345.77 L416.15,345.74 L415.66,345.70 L415.20,345.65 L414.77,345.58 L414.37,345.48 L414.00,345.34 L413.65,345.17 L413.33,344.96 L413.02,344.70 L412.74,344.41 L412.46,344.07 L412.18,343.70 L411.91,343.29 L411.63,342.86 L411.33,342.41 L411.03,341.95 L410.70,341.48 L410.35,341.02 L409.98,340.58 L409.59,340.16 L409.17,339.77 L408.73,339.43 L408.27,339.14 L407.79,338.91 L407.30,338.74 L406.80,338.63 L406.30,338.60 L405.80,338.63 L405.30,338.74 L404.81,338.91 L404.33,339.14 L403.87,339.43 L403.43,339.77 L403.01,340.16 L402.62,340.58 L402.25,341.02 L401.90,341.48 L401.57,341.95 L401.27,342.41 L400.97,342.86 L400.69,343.29 L400.42,343.70 L400.14,344.07 L399.86,344.41 L399.58,344.70 L399.27,344.96 L398.95,345.17 L398.60,345.34 L398.23,345.48 L397.83,345.58 L397.40,345.65 L396.94,345.70 L396.45,345.74 L395.94,345.77 L395.40,345.79 L394.85,345.83 L394.28,345.88 L393.71,345.95 L393.14,346.05 L392.58,346.18 L392.04,346.35 L391.52,346.56 L391.04,346.81 L390.60,347.11 L390.21,347.45 L389.87,347.83 L389.59,348.25 L389.36,348.70 L389.20,349.19 L389.11,349.70 L389.07,350.23 L389.09,350.77 L389.17,351.32 L389.29,351.88 L389.46,352.43 L389.66,352.97 L389.88,353.50 L390.12,354.02 L390.37,354.51 L390.61,354.99 L390.84,355.45 L391.06,355.89 L391.24,356.32 L391.40,356.73 L391.51,357.12 L391.58,357.51 L391.60,357.90 L391.58,358.29 L391.51,358.68 L391.40,359.07 L391.24,359.48 L391.06,359.91 L390.84,360.35 L390.61,360.81 L390.37,361.29 L390.12,361.78 L389.88,362.30 L389.66,362.83 L389.46,363.37 L389.29,363.92 L389.17,364.48 L389.09,365.03 L389.07,365.57 L389.11,366.10 L389.20,366.61 L389.36,367.10 L389.59,367.55 L389.87,367.97 L390.21,368.35 L390.60,368.69 L391.04,368.99 L391.52,369.24 L392.04,369.45 L392.58,369.62 L393.14,369.75 L393.71,369.85 L394.28,369.92 L394.85,369.97 L395.40,370.01 L395.94,370.03 L396.45,370.06 L396.94,370.10 L397.40,370.15 L397.83,370.22 L398.23,370.32 L398.60,370.46 L398.95,370.63 L399.27,370.84 L399.58,371.10 L399.86,371.39 L400.14,371.73 L400.42,372.10 L400.69,372.51 L400.97,372.94 L401.27,373.39 L401.57,373.85 L401.90,374.32 L402.25,374.78 L402.62,375.22 L403.01,375.64 L403.43,376.03 L403.87,376.37 L404.33,376.66 L404.81,376.89 L405.30,377.06 L405.80,377.17 L406.30,377.20 L406.80,377.17 L407.30,377.06 L407.79,376.89 L408.27,376.66 L408.73,376.37 L409.17,376.03 L409.59,375.64 L409.98,375.22 L410.35,374.78 L410.70,374.32 L411.03,373.85 L411.33,373.39 L411.63,372.94 L411.91,372.51 L412.18,372.10 L412.46,371.73 L412.74,371.39 L413.02,371.10 L413.33,370.84 L413.65,370.63 L414.00,370.46 L414.37,370.32 L414.77,370.22 L415.20,370.15 L415.66,370.10 L416.15,370.06 L416.66,370.03 L417.20,370.01 L417.75,369.97 L418.32,369.92 L418.89,369.85 L419.46,369.75 L420.02,369.62 L420.56,369.45 L421.08,369.24 L421.56,368.99 L422.00,368.69 L422.39,368.35 L422.73,367.97 L423.01,367.55 L423.24,367.10 L423.40,366.61 L423.49,366.10 L423.53,365.57 L423.51,365.03 L423.43,364.48 L423.31,363.92 L423.14,363.37 L422.94,362.83 L422.72,362.30 L422.48,361.78 L422.23,361.29 L421.99,360.81 L421.76,360.35 L421.54,359.91 L421.36,359.48 L421.20,359.07 L421.09,358.68 L421.02,358.29 Z" fill="#f89000"/><path d="M420.10,357.90 L420.12,357.54 L420.19,357.17 L420.31,356.80 L420.46,356.41 L420.65,356.01 L420.87,355.59 L421.10,355.16 L421.35,354.70 L421.61,354.23 L421.85,353.73 L422.08,353.23 L422.29,352.71 L422.46,352.18 L422.59,351.65 L422.68,351.12 L422.71,350.59 L422.68,350.09 L422.59,349.60 L422.45,349.13 L422.23,348.70 L421.96,348.30 L421.64,347.94 L421.26,347.62 L420.83,347.34 L420.36,347.11 L419.86,346.92 L419.34,346.77 L418.79,346.65 L418.24,346.57 L417.68,346.52 L417.13,346.48 L416.60,346.46 L416.08,346.45 L415.58,346.44 L415.11,346.42 L414.67,346.38 L414.26,346.32 L413.88,346.23 L413.53,346.11 L413.20,345.95 L412.90,345.75 L412.62,345.50 L412.35,345.22 L412.09,344.89 L411.84,344.53 L411.59,344.13 L411.33,343.71 L411.06,343.26 L410.77,342.81 L410.47,342.35 L410.14,341.89 L409.80,341.46 L409.42,341.04 L409.03,340.66 L408.61,340.33 L408.18,340.04 L407.72,339.81 L407.26,339.64 L406.78,339.53 L406.30,339.50 L405.82,339.53 L405.34,339.64 L404.88,339.81 L404.42,340.04 L403.99,340.33 L403.57,340.66 L403.18,341.04 L402.80,341.46 L402.46,341.89 L402.13,342.35 L401.83,342.81 L401.54,343.26 L401.27,343.71 L401.01,344.13 L400.76,344.53 L400.51,344.89 L400.25,345.22 L399.98,345.50 L399.70,345.75 L399.40,345.95 L399.07,346.11 L398.72,346.23 L398.34,346.32 L397.93,346.38 L397.49,346.42 L397.02,346.44 L396.52,346.45 L396.00,346.46 L395.47,346.48 L394.92,346.52 L394.36,346.57 L393.81,346.65 L393.26,346.77 L392.74,346.92 L392.24,347.11 L391.77,347.34 L391.34,347.62 L390.96,347.94 L390.64,348.30 L390.37,348.70 L390.15,349.13 L390.01,349.60 L389.92,350.09 L389.89,350.59 L389.92,351.12 L390.01,351.65 L390.14,352.18 L390.31,352.71 L390.52,353.23 L390.75,353.73 L390.99,354.23 L391.25,354.70 L391.50,355.16 L391.73,355.59 L391.95,356.01 L392.14,356.41 L392.29,356.80 L392.41,357.17 L392.48,357.54 L392.50,357.90 L392.48,358.26 L392.41,358.63 L392.29,359.00 L392.14,359.39 L391.95,359.79 L391.73,360.21 L391.50,360.64 L391.25,361.10 L390.99,361.57 L390.75,362.07 L390.52,362.57 L390.31,363.09 L390.14,363.62 L390.01,364.15 L389.92,364.68 L389.89,365.21 L389.92,365.71 L390.01,366.20 L390.15,366.67 L390.37,367.10 L390.64,367.50 L390.96,367.86 L391.34,368.18 L391.77,368.46 L392.24,368.69 L392.74,368.88 L393.26,369.03 L393.81,369.15 L394.36,369.23 L394.92,369.28 L395.47,369.32 L396.00,369.34 L396.52,369.35 L397.02,369.36 L397.49,369.38 L397.93,369.42 L398.34,369.48 L398.72,369.57 L399.07,369.69 L399.40,369.85 L399.70,370.05 L399.98,370.30 L400.25,370.58 L400.51,370.91 L400.76,371.27 L401.01,371.67 L401.27,372.09 L401.54,372.54 L401.83,372.99 L402.13,373.45 L402.46,373.91 L402.80,374.34 L403.18,374.76 L403.57,375.14 L403.99,375.47 L404.42,375.76 L404.88,375.99 L405.34,376.16 L405.82,376.27 L406.30,376.30 L406.78,376.27 L407.26,376.16 L407.72,375.99 L408.18,375.76 L408.61,375.47 L409.03,375.14 L409.42,374.76 L409.80,374.34 L410.14,373.91 L410.47,373.45 L410.77,372.99 L411.06,372.54 L411.33,372.09 L411.59,371.67 L411.84,371.27 L412.09,370.91 L412.35,370.58 L412.62,370.30 L412.90,370.05 L413.20,369.85 L413.53,369.69 L413.88,369.57 L414.26,369.48 L414.67,369.42 L415.11,369.38 L415.58,369.36 L416.08,369.35 L416.60,369.34 L417.13,369.32 L417.68,369.28 L418.24,369.23 L418.79,369.15 L419.34,369.03 L419.86,368.88 L420.36,368.69 L420.83,368.46 L421.26,368.18 L421.64,367.86 L421.96,367.50 L422.23,367.10 L422.45,366.67 L422.59,366.20 L422.68,365.71 L422.71,365.21 L422.68,364.68 L422.59,364.15 L422.46,363.62 L422.29,363.09 L422.08,362.57 L421.85,362.07 L421.61,361.57 L421.35,361.10 L421.10,360.64 L420.87,360.21 L420.65,359.79 L420.46,359.39 L420.31,359.00 L420.19,358.63 L420.12,358.26 Z" fill="#f85000"/><path d="M419.30,357.90 L419.32,357.56 L419.39,357.21 L419.51,356.86 L419.67,356.50 L419.86,356.12 L420.08,355.72 L420.32,355.30 L420.57,354.87 L420.83,354.41 L421.08,353.94 L421.31,353.45 L421.53,352.95 L421.71,352.44 L421.85,351.93 L421.94,351.42 L421.98,350.92 L421.96,350.43 L421.88,349.96 L421.74,349.52 L421.54,349.10 L421.28,348.72 L420.97,348.38 L420.60,348.07 L420.18,347.81 L419.73,347.60 L419.24,347.42 L418.73,347.29 L418.20,347.19 L417.66,347.12 L417.12,347.08 L416.58,347.06 L416.06,347.06 L415.56,347.06 L415.08,347.06 L414.62,347.05 L414.20,347.03 L413.81,346.98 L413.44,346.90 L413.11,346.79 L412.80,346.64 L412.52,346.45 L412.25,346.22 L412.00,345.94 L411.77,345.62 L411.53,345.27 L411.30,344.88 L411.06,344.46 L410.81,344.02 L410.54,343.58 L410.26,343.12 L409.96,342.67 L409.63,342.24 L409.28,341.83 L408.90,341.45 L408.51,341.12 L408.09,340.83 L407.66,340.60 L407.22,340.44 L406.76,340.33 L406.30,340.30 L405.84,340.33 L405.38,340.44 L404.94,340.60 L404.51,340.83 L404.09,341.12 L403.70,341.45 L403.32,341.83 L402.97,342.24 L402.64,342.67 L402.34,343.12 L402.06,343.58 L401.79,344.02 L401.54,344.46 L401.30,344.88 L401.07,345.27 L400.83,345.62 L400.60,345.94 L400.35,346.22 L400.08,346.45 L399.80,346.64 L399.49,346.79 L399.16,346.90 L398.79,346.98 L398.40,347.03 L397.98,347.05 L397.52,347.06 L397.04,347.06 L396.54,347.06 L396.02,347.06 L395.48,347.08 L394.94,347.12 L394.40,347.19 L393.87,347.29 L393.36,347.42 L392.87,347.60 L392.42,347.81 L392.00,348.07 L391.63,348.38 L391.32,348.72 L391.06,349.10 L390.86,349.52 L390.72,349.96 L390.64,350.43 L390.62,350.92 L390.66,351.42 L390.75,351.93 L390.89,352.44 L391.07,352.95 L391.29,353.45 L391.52,353.94 L391.77,354.41 L392.03,354.87 L392.28,355.30 L392.52,355.72 L392.74,356.12 L392.93,356.50 L393.09,356.86 L393.21,357.21 L393.28,357.56 L393.30,357.90 L393.28,358.24 L393.21,358.59 L393.09,358.94 L392.93,359.30 L392.74,359.68 L392.52,360.08 L392.28,360.50 L392.03,360.93 L391.77,361.39 L391.52,361.86 L391.29,362.35 L391.07,362.85 L390.89,363.36 L390.75,363.87 L390.66,364.38 L390.62,364.88 L390.64,365.37 L390.72,365.84 L390.86,366.28 L391.06,366.70 L391.32,367.08 L391.63,367.42 L392.00,367.73 L392.42,367.99 L392.87,368.20 L393.36,368.38 L393.87,368.51 L394.40,368.61 L394.94,368.68 L395.48,368.72 L396.02,368.74 L396.54,368.74 L397.04,368.74 L397.52,368.74 L397.98,368.75 L398.40,368.77 L398.79,368.82 L399.16,368.90 L399.49,369.01 L399.80,369.16 L400.08,369.35 L400.35,369.58 L400.60,369.86 L400.83,370.18 L401.07,370.53 L401.30,370.92 L401.54,371.34 L401.79,371.78 L402.06,372.22 L402.34,372.68 L402.64,373.13 L402.97,373.56 L403.32,373.97 L403.70,374.35 L404.09,374.68 L404.51,374.97 L404.94,375.20 L405.38,375.36 L405.84,375.47 L406.30,375.50 L406.76,375.47 L407.22,375.36 L407.66,375.20 L408.09,374.97 L408.51,374.68 L408.90,374.35 L409.28,373.97 L409.63,373.56 L409.96,373.13 L410.26,372.68 L410.54,372.22 L410.81,371.78 L411.06,371.34 L411.30,370.92 L411.53,370.53 L411.77,370.18 L412.00,369.86 L412.25,369.58 L412.52,369.35 L412.80,369.16 L413.11,369.01 L413.44,368.90 L413.81,368.82 L414.20,368.77 L414.62,368.75 L415.08,368.74 L415.56,368.74 L416.06,368.74 L416.58,368.74 L417.12,368.72 L417.66,368.68 L418.20,368.61 L418.73,368.51 L419.24,368.38 L419.73,368.20 L420.18,367.99 L420.60,367.73 L420.97,367.42 L421.28,367.08 L421.54,366.70 L421.74,366.28 L421.88,365.84 L421.96,365.37 L421.98,364.88 L421.94,364.38 L421.85,363.87 L421.71,363.36 L421.53,362.85 L421.31,362.35 L421.08,361.86 L420.83,361.39 L420.57,360.93 L420.32,360.50 L420.08,360.08 L419.86,359.68 L419.67,359.30 L419.51,358.94 L419.39,358.59 L419.32,358.24 Z" fill="#f01010"/></g>
<rect x="40" y="397.5" width="62" height="62.7" fill="#fff" stroke="#aaa" stroke-width="0.8"/>
<g clip-path="url(#cp10)"><circle cx="71.30" cy="428.90" r="26.70" fill="#28e6e6" /><path d="M77.60,401.62 L65.00,401.62 L71.30,411.90 Z" fill="url(#wg10)"/><path d="M50.82,409.80 L44.52,420.71 L56.58,420.40 Z" fill="url(#wg10)"/><path d="M44.52,437.09 L50.82,448.00 L56.58,437.40 Z" fill="url(#wg10)"/><path d="M65.00,456.18 L77.60,456.18 L71.30,445.90 Z" fill="url(#wg10)"/><path d="M91.78,448.00 L98.08,437.09 L86.02,437.40 Z" fill="url(#wg10)"/><path d="M98.08,420.71 L91.78,409.80 L86.02,420.40 Z" fill="url(#wg10)"/><path d="M71.30,415.90 L60.04,422.40 L60.04,435.40 L71.30,441.90 L82.56,435.40 L82.56,422.40 Z" fill="#20b0f4"/><circle cx="71.30" cy="428.90" r="7.00" fill="url(#cg10)" /><rect x="82.10" y="424.50" width="8.8" height="8.8" rx="1.6" transform="rotate(45.0 86.50 428.90)" fill="#0c44ea"/><rect x="74.50" y="411.34" width="8.8" height="8.8" rx="1.6" transform="rotate(-14.999999999999993 78.90 415.74)" fill="#0c44ea"/><rect x="59.30" y="411.34" width="8.8" height="8.8" rx="1.6" transform="rotate(-74.99999999999999 63.70 415.74)" fill="#0c44ea"/><rect x="51.70" y="424.50" width="8.8" height="8.8" rx="1.6" transform="rotate(-135.0 56.10 428.90)" fill="#0c44ea"/><rect x="59.30" y="437.66" width="8.8" height="8.8" rx="1.6" transform="rotate(-194.99999999999997 63.70 442.06)" fill="#0c44ea"/><rect x="74.50" y="437.66" width="8.8" height="8.8" rx="1.6" transform="rotate(-255.0 78.90 442.06)" fill="#0c44ea"/></g>
<rect x="107" y="397.5" width="62" height="62.7" fill="#fff" stroke="#aaa" stroke-width="0.8"/>
<g clip-path="url(#cp11)"><circle cx="138.30" cy="428.90" r="26.70" fill="#28e6e6" /><path d="M148.33,402.76 L128.27,402.76 L138.30,414.90 Z" fill="url(#wg11)"/><path d="M120.68,407.14 L110.64,424.52 L126.18,421.90 Z" fill="url(#wg11)"/><path d="M110.64,433.28 L120.68,450.66 L126.18,435.90 Z" fill="url(#wg11)"/><path d="M128.27,455.04 L148.33,455.04 L138.30,442.90 Z" fill="url(#wg11)"/><path d="M155.92,450.66 L165.96,433.28 L150.42,435.90 Z" fill="url(#wg11)"/><path d="M165.96,424.52 L155.92,407.14 L150.42,421.90 Z" fill="url(#wg11)"/><circle cx="138.30" cy="428.90" r="11.20" fill="#20b8f4" /><circle cx="138.30" cy="428.90" r="10.00" fill="#30e4f0" /><circle cx="138.30" cy="428.90" r="7.50" fill="url(#cg11)" /><circle cx="138.30" cy="418.30" r="1.20" fill="#40e040" /><circle cx="129.12" cy="423.60" r="1.20" fill="#40e040" /><circle cx="129.12" cy="434.20" r="1.20" fill="#40e040" /><circle cx="138.30" cy="439.50" r="1.20" fill="#40e040" /><circle cx="147.48" cy="434.20" r="1.20" fill="#40e040" /><circle cx="147.48" cy="423.60" r="1.20" fill="#40e040" /><rect x="149.00" y="424.30" width="9.2" height="9.2" rx="3.6" transform="rotate(45.0 153.60 428.90)" fill="#0c44ea"/><rect x="141.35" y="411.05" width="9.2" height="9.2" rx="3.6" transform="rotate(-14.999999999999993 145.95 415.65)" fill="#0c44ea"/><rect x="126.05" y="411.05" width="9.2" height="9.2" rx="3.6" transform="rotate(-74.99999999999999 130.65 415.65)" fill="#0c44ea"/><rect x="118.40" y="424.30" width="9.2" height="9.2" rx="3.6" transform="rotate(-135.0 123.00 428.90)" fill="#0c44ea"/><rect x="126.05" y="437.55" width="9.2" height="9.2" rx="3.6" transform="rotate(-194.99999999999997 130.65 442.15)" fill="#0c44ea"/><rect x="141.35" y="437.55" width="9.2" height="9.2" rx="3.6" transform="rotate(-255.0 145.95 442.15)" fill="#0c44ea"/></g>
<rect x="174" y="397.5" width="62" height="62.7" fill="#fff" stroke="#aaa" stroke-width="0.8"/>
<g clip-path="url(#cp12)"><circle cx="205.30" cy="428.90" r="26.70" fill="#30e030" /><circle cx="205.30" cy="428.90" r="26.0" fill="none" stroke="#30e0e0" stroke-width="1.4"/><ellipse cx="226.30" cy="428.90" rx="6.5" ry="5" transform="rotate(-0.0 226.30 428.90)" fill="#28ecf0" /><circle cx="220.60" cy="428.90" r="6.60" fill="#28ecf0" /><ellipse cx="215.80" cy="410.71" rx="6.5" ry="5" transform="rotate(-60.0 215.80 410.71)" fill="#28ecf0" /><circle cx="212.95" cy="415.65" r="6.60" fill="#28ecf0" /><ellipse cx="194.80" cy="410.71" rx="6.5" ry="5" transform="rotate(-120.0 194.80 410.71)" fill="#28ecf0" /><circle cx="197.65" cy="415.65" r="6.60" fill="#28ecf0" /><ellipse cx="184.30" cy="428.90" rx="6.5" ry="5" transform="rotate(-180.0 184.30 428.90)" fill="#28ecf0" /><circle cx="190.00" cy="428.90" r="6.60" fill="#28ecf0" /><ellipse cx="194.80" cy="447.09" rx="6.5" ry="5" transform="rotate(-240.0 194.80 447.09)" fill="#28ecf0" /><circle cx="197.65" cy="442.15" r="6.60" fill="#28ecf0" /><ellipse cx="215.80" cy="447.09" rx="6.5" ry="5" transform="rotate(-300.0 215.80 447.09)" fill="#28ecf0" /><circle cx="212.95" cy="442.15" r="6.60" fill="#28ecf0" /><circle cx="205.30" cy="428.90" r="12.20" fill="#30e030" /><circle cx="205.30" cy="428.90" r="9.20" fill="#28ecf0" /><circle cx="205.30" cy="428.90" r="7.20" fill="url(#cg12)" /><circle cx="220.60" cy="428.90" r="4.50" fill="#0c44ea" /><circle cx="212.95" cy="415.65" r="4.50" fill="#0c44ea" /><circle cx="197.65" cy="415.65" r="4.50" fill="#0c44ea" /><circle cx="190.00" cy="428.90" r="4.50" fill="#0c44ea" /><circle cx="197.65" cy="442.15" r="4.50" fill="#0c44ea" /><circle cx="212.95" cy="442.15" r="4.50" fill="#0c44ea" /></g>
<rect x="241" y="397.5" width="62" height="62.7" fill="#fff" stroke="#aaa" stroke-width="0.8"/>
<g clip-path="url(#cp13)"><circle cx="272.30" cy="428.90" r="26.70" fill="#30e030" /><ellipse cx="297.80" cy="428.90" rx="2.5" ry="5" transform="rotate(-0.0 297.80 428.90)" fill="#28ecf0" opacity="0.8"/><ellipse cx="287.80" cy="428.90" rx="5.4" ry="6.8" transform="rotate(-0.0 287.80 428.90)" fill="#28ecf0" /><ellipse cx="287.80" cy="428.90" rx="3.4" ry="4.6" transform="rotate(-0.0 287.80 428.90)" fill="#0c44ea" /><ellipse cx="285.05" cy="406.82" rx="2.5" ry="5" transform="rotate(-60.0 285.05 406.82)" fill="#28ecf0" opacity="0.8"/><ellipse cx="280.05" cy="415.48" rx="5.4" ry="6.8" transform="rotate(-60.0 280.05 415.48)" fill="#28ecf0" /><ellipse cx="280.05" cy="415.48" rx="3.4" ry="4.6" transform="rotate(-60.0 280.05 415.48)" fill="#0c44ea" /><ellipse cx="259.55" cy="406.82" rx="2.5" ry="5" transform="rotate(-120.0 259.55 406.82)" fill="#28ecf0" opacity="0.8"/><ellipse cx="264.55" cy="415.48" rx="5.4" ry="6.8" transform="rotate(-120.0 264.55 415.48)" fill="#28ecf0" /><ellipse cx="264.55" cy="415.48" rx="3.4" ry="4.6" transform="rotate(-120.0 264.55 415.48)" fill="#0c44ea" /><ellipse cx="246.80" cy="428.90" rx="2.5" ry="5" transform="rotate(-180.0 246.80 428.90)" fill="#28ecf0" opacity="0.8"/><ellipse cx="256.80" cy="428.90" rx="5.4" ry="6.8" transform="rotate(-180.0 256.80 428.90)" fill="#28ecf0" /><ellipse cx="256.80" cy="428.90" rx="3.4" ry="4.6" transform="rotate(-180.0 256.80 428.90)" fill="#0c44ea" /><ellipse cx="259.55" cy="450.98" rx="2.5" ry="5" transform="rotate(-240.0 259.55 450.98)" fill="#28ecf0" opacity="0.8"/><ellipse cx="264.55" cy="442.32" rx="5.4" ry="6.8" transform="rotate(-240.0 264.55 442.32)" fill="#28ecf0" /><ellipse cx="264.55" cy="442.32" rx="3.4" ry="4.6" transform="rotate(-240.0 264.55 442.32)" fill="#0c44ea" /><ellipse cx="285.05" cy="450.98" rx="2.5" ry="5" transform="rotate(-300.0 285.05 450.98)" fill="#28ecf0" opacity="0.8"/><ellipse cx="280.05" cy="442.32" rx="5.4" ry="6.8" transform="rotate(-300.0 280.05 442.32)" fill="#28ecf0" /><ellipse cx="280.05" cy="442.32" rx="3.4" ry="4.6" transform="rotate(-300.0 280.05 442.32)" fill="#0c44ea" /><path d="M272.30,419.90 L264.51,424.40 L264.51,433.40 L272.30,437.90 L280.09,433.40 L280.09,424.40 Z" fill="#28ecf0"/><circle cx="272.30" cy="428.90" r="6.40" fill="url(#cg13)" /></g>
<rect x="308" y="397.5" width="62" height="62.7" fill="#fff" stroke="#aaa" stroke-width="0.8"/>
<g clip-path="url(#cp14)"><circle cx="339.30" cy="428.90" r="26.70" fill="#30d848" /><circle cx="339.30" cy="428.90" r="26.0" fill="none" stroke="#30d0d8" stroke-width="1.5"/><path d="M341.30,420.90 L342.90,400.90 L335.70,400.90 L337.30,420.90 Z M333.37,423.17 L316.85,411.78 L313.25,418.02 L331.37,426.63 Z M331.37,431.17 L313.25,439.78 L316.85,446.02 L333.37,434.63 Z M337.30,436.90 L335.70,456.90 L342.90,456.90 L341.30,436.90 Z M345.23,434.63 L361.75,446.02 L365.35,439.78 L347.23,431.17 Z M347.23,426.63 L365.35,418.02 L361.75,411.78 L345.23,423.17 Z" fill="#f4d020"/><path d="M351.90,428.90 L351.95,428.46 L352.11,428.00 L352.36,427.53 L352.69,427.02 L353.09,426.47 L353.52,425.88 L353.96,425.25 L354.38,424.57 L354.77,423.87 L355.09,423.15 L355.32,422.43 L355.44,421.71 L355.44,421.03 L355.32,420.38 L355.06,419.80 L354.68,419.29 L354.19,418.86 L353.59,418.52 L352.91,418.27 L352.17,418.10 L351.39,418.02 L350.59,418.00 L349.79,418.03 L349.03,418.10 L348.30,418.18 L347.63,418.24 L347.02,418.27 L346.48,418.25 L346.01,418.16 L345.60,417.99 L345.24,417.72 L344.93,417.36 L344.64,416.90 L344.37,416.36 L344.09,415.74 L343.79,415.08 L343.46,414.38 L343.10,413.67 L342.68,412.99 L342.22,412.36 L341.70,411.79 L341.15,411.33 L340.55,410.99 L339.93,410.77 L339.30,410.70 L338.67,410.77 L338.05,410.99 L337.45,411.33 L336.90,411.79 L336.38,412.36 L335.92,412.99 L335.50,413.67 L335.14,414.38 L334.81,415.08 L334.51,415.74 L334.23,416.36 L333.96,416.90 L333.67,417.36 L333.36,417.72 L333.00,417.99 L332.59,418.16 L332.12,418.25 L331.58,418.27 L330.97,418.24 L330.30,418.18 L329.57,418.10 L328.81,418.03 L328.01,418.00 L327.21,418.02 L326.43,418.10 L325.69,418.27 L325.01,418.52 L324.41,418.86 L323.92,419.29 L323.54,419.80 L323.28,420.38 L323.16,421.03 L323.16,421.71 L323.28,422.43 L323.51,423.15 L323.83,423.87 L324.22,424.57 L324.64,425.25 L325.08,425.88 L325.51,426.47 L325.91,427.02 L326.24,427.53 L326.49,428.00 L326.65,428.46 L326.70,428.90 L326.65,429.34 L326.49,429.80 L326.24,430.27 L325.91,430.78 L325.51,431.33 L325.08,431.92 L324.64,432.55 L324.22,433.23 L323.83,433.93 L323.51,434.65 L323.28,435.37 L323.16,436.09 L323.16,436.77 L323.28,437.42 L323.54,438.00 L323.92,438.51 L324.41,438.94 L325.01,439.28 L325.69,439.53 L326.43,439.70 L327.21,439.78 L328.01,439.80 L328.81,439.77 L329.57,439.70 L330.30,439.62 L330.97,439.56 L331.58,439.53 L332.12,439.55 L332.59,439.64 L333.00,439.81 L333.36,440.08 L333.67,440.44 L333.96,440.90 L334.23,441.44 L334.51,442.06 L334.81,442.72 L335.14,443.42 L335.50,444.13 L335.92,444.81 L336.38,445.44 L336.90,446.01 L337.45,446.47 L338.05,446.81 L338.67,447.03 L339.30,447.10 L339.93,447.03 L340.55,446.81 L341.15,446.47 L341.70,446.01 L342.22,445.44 L342.68,444.81 L343.10,444.13 L343.46,443.42 L343.79,442.72 L344.09,442.06 L344.37,441.44 L344.64,440.90 L344.93,440.44 L345.24,440.08 L345.60,439.81 L346.01,439.64 L346.48,439.55 L347.02,439.53 L347.63,439.56 L348.30,439.62 L349.03,439.70 L349.79,439.77 L350.59,439.80 L351.39,439.78 L352.17,439.70 L352.91,439.53 L353.59,439.28 L354.19,438.94 L354.68,438.51 L355.06,438.00 L355.32,437.42 L355.44,436.77 L355.44,436.09 L355.32,435.37 L355.09,434.65 L354.77,433.93 L354.38,433.23 L353.96,432.55 L353.52,431.92 L353.09,431.33 L352.69,430.78 L352.36,430.27 L352.11,429.80 L351.95,429.34 Z" fill="#f4d020"/><path d="M340.10,420.90 L340.90,400.90 L337.70,400.90 L338.50,420.90 Z M332.77,424.21 L315.85,413.51 L314.25,416.29 L331.97,425.59 Z M331.97,432.21 L314.25,441.51 L315.85,444.29 L332.77,433.59 Z M338.50,436.90 L337.70,456.90 L340.90,456.90 L340.10,436.90 Z M345.83,433.59 L362.75,444.29 L364.35,441.51 L346.63,432.21 Z M346.63,425.59 L364.35,416.29 L362.75,413.51 L345.83,424.21 Z" fill="#f8a020"/><path d="M345.20,418.68 L344.73,417.89 L344.31,417.17 L343.93,416.51 L343.61,415.89 L343.32,415.31 L343.09,414.75 L342.89,414.21 L342.74,413.68 L342.63,413.17 L342.55,412.67 L342.51,412.18 L342.50,411.70 L342.07,409.80 L340.90,408.63 L339.30,408.20 L337.70,408.63 L336.53,409.80 L336.10,411.70 L336.09,412.18 L336.05,412.67 L335.97,413.17 L335.86,413.68 L335.71,414.21 L335.51,414.75 L335.28,415.31 L334.99,415.89 L334.67,416.51 L334.29,417.17 L333.87,417.89 L333.40,418.68 L333.40,418.68 L332.48,418.69 L331.65,418.70 L330.89,418.69 L330.19,418.67 L329.54,418.62 L328.94,418.54 L328.37,418.44 L327.84,418.31 L327.34,418.15 L326.87,417.97 L326.43,417.76 L326.00,417.53 L324.14,416.95 L322.54,417.38 L321.37,418.55 L320.94,420.15 L321.37,421.75 L322.80,423.07 L323.21,423.32 L323.62,423.60 L324.02,423.92 L324.40,424.27 L324.78,424.67 L325.15,425.10 L325.52,425.59 L325.88,426.13 L326.26,426.72 L326.64,427.37 L327.05,428.10 L327.50,428.90 L327.50,428.90 L327.05,429.70 L326.64,430.43 L326.26,431.08 L325.88,431.67 L325.52,432.21 L325.15,432.70 L324.78,433.13 L324.40,433.53 L324.02,433.88 L323.62,434.20 L323.21,434.48 L322.80,434.73 L321.37,436.05 L320.94,437.65 L321.37,439.25 L322.54,440.42 L324.14,440.85 L326.00,440.27 L326.43,440.04 L326.87,439.83 L327.34,439.65 L327.84,439.49 L328.37,439.36 L328.94,439.26 L329.54,439.18 L330.19,439.13 L330.89,439.11 L331.65,439.10 L332.48,439.11 L333.40,439.12 L333.40,439.12 L333.87,439.91 L334.29,440.63 L334.67,441.29 L334.99,441.91 L335.28,442.49 L335.51,443.05 L335.71,443.59 L335.86,444.12 L335.97,444.63 L336.05,445.13 L336.09,445.62 L336.10,446.10 L336.53,448.00 L337.70,449.17 L339.30,449.60 L340.90,449.17 L342.07,448.00 L342.50,446.10 L342.51,445.62 L342.55,445.13 L342.63,444.63 L342.74,444.12 L342.89,443.59 L343.09,443.05 L343.32,442.49 L343.61,441.91 L343.93,441.29 L344.31,440.63 L344.73,439.91 L345.20,439.12 L345.20,439.12 L346.12,439.11 L346.95,439.10 L347.71,439.11 L348.41,439.13 L349.06,439.18 L349.66,439.26 L350.23,439.36 L350.76,439.49 L351.26,439.65 L351.73,439.83 L352.17,440.04 L352.60,440.27 L354.46,440.85 L356.06,440.42 L357.23,439.25 L357.66,437.65 L357.23,436.05 L355.80,434.73 L355.39,434.48 L354.98,434.20 L354.58,433.88 L354.20,433.53 L353.82,433.13 L353.45,432.70 L353.08,432.21 L352.72,431.67 L352.34,431.08 L351.96,430.43 L351.55,429.70 L351.10,428.90 L351.10,428.90 L351.55,428.10 L351.96,427.37 L352.34,426.72 L352.72,426.13 L353.08,425.59 L353.45,425.10 L353.82,424.67 L354.20,424.27 L354.58,423.92 L354.98,423.60 L355.39,423.32 L355.80,423.07 L357.23,421.75 L357.66,420.15 L357.23,418.55 L356.06,417.38 L354.46,416.95 L352.60,417.53 L352.17,417.76 L351.73,417.97 L351.26,418.15 L350.76,418.31 L350.23,418.44 L349.66,418.54 L349.06,418.62 L348.41,418.67 L347.71,418.69 L346.95,418.70 L346.12,418.69 L345.20,418.68 Z" fill="#f86010"/><path d="M344.80,419.37 L344.33,418.60 L343.91,417.91 L343.53,417.27 L343.21,416.68 L342.92,416.11 L342.69,415.57 L342.49,415.06 L342.34,414.55 L342.23,414.06 L342.15,413.58 L342.11,413.11 L342.10,412.64 L341.72,411.00 L340.70,409.98 L339.30,409.60 L337.90,409.98 L336.88,411.00 L336.50,412.64 L336.49,413.11 L336.45,413.58 L336.37,414.06 L336.26,414.55 L336.11,415.06 L335.91,415.57 L335.68,416.11 L335.39,416.68 L335.07,417.27 L334.69,417.91 L334.27,418.60 L333.80,419.37 L333.80,419.37 L332.90,419.40 L332.09,419.41 L331.35,419.42 L330.67,419.40 L330.04,419.37 L329.45,419.30 L328.91,419.21 L328.39,419.09 L327.91,418.94 L327.46,418.77 L327.03,418.57 L326.62,418.34 L325.01,417.85 L323.61,418.23 L322.59,419.25 L322.21,420.65 L322.59,422.05 L323.82,423.19 L324.22,423.44 L324.61,423.71 L324.99,424.02 L325.35,424.36 L325.71,424.74 L326.07,425.17 L326.41,425.65 L326.76,426.17 L327.11,426.75 L327.48,427.40 L327.87,428.11 L328.30,428.90 L328.30,428.90 L327.87,429.69 L327.48,430.40 L327.11,431.05 L326.76,431.63 L326.41,432.15 L326.07,432.63 L325.71,433.06 L325.35,433.44 L324.99,433.78 L324.61,434.09 L324.22,434.36 L323.82,434.61 L322.59,435.75 L322.21,437.15 L322.59,438.55 L323.61,439.57 L325.01,439.95 L326.62,439.46 L327.03,439.23 L327.46,439.03 L327.91,438.86 L328.39,438.71 L328.91,438.59 L329.45,438.50 L330.04,438.43 L330.67,438.40 L331.35,438.38 L332.09,438.39 L332.90,438.40 L333.80,438.43 L333.80,438.43 L334.27,439.20 L334.69,439.89 L335.07,440.53 L335.39,441.12 L335.68,441.69 L335.91,442.23 L336.11,442.74 L336.26,443.25 L336.37,443.74 L336.45,444.22 L336.49,444.69 L336.50,445.16 L336.88,446.80 L337.90,447.82 L339.30,448.20 L340.70,447.82 L341.72,446.80 L342.10,445.16 L342.11,444.69 L342.15,444.22 L342.23,443.74 L342.34,443.25 L342.49,442.74 L342.69,442.23 L342.92,441.69 L343.21,441.12 L343.53,440.53 L343.91,439.89 L344.33,439.20 L344.80,438.43 L344.80,438.43 L345.70,438.40 L346.51,438.39 L347.25,438.38 L347.93,438.40 L348.56,438.43 L349.15,438.50 L349.69,438.59 L350.21,438.71 L350.69,438.86 L351.14,439.03 L351.57,439.23 L351.98,439.46 L353.59,439.95 L354.99,439.57 L356.01,438.55 L356.39,437.15 L356.01,435.75 L354.78,434.61 L354.38,434.36 L353.99,434.09 L353.61,433.78 L353.25,433.44 L352.89,433.06 L352.53,432.63 L352.19,432.15 L351.84,431.63 L351.49,431.05 L351.12,430.40 L350.73,429.69 L350.30,428.90 L350.30,428.90 L350.73,428.11 L351.12,427.40 L351.49,426.75 L351.84,426.17 L352.19,425.65 L352.53,425.17 L352.89,424.74 L353.25,424.36 L353.61,424.02 L353.99,423.71 L354.38,423.44 L354.78,423.19 L356.01,422.05 L356.39,420.65 L356.01,419.25 L354.99,418.23 L353.59,417.85 L351.98,418.34 L351.57,418.57 L351.14,418.77 L350.69,418.94 L350.21,419.09 L349.69,419.21 L349.15,419.30 L348.56,419.37 L347.93,419.40 L347.25,419.42 L346.51,419.41 L345.70,419.40 L344.80,419.37 Z" fill="#f01010"/><circle cx="356.30" cy="428.90" r="4.80" fill="#40d8e0" /><circle cx="356.30" cy="428.90" r="2.30" fill="#2088f0" /><circle cx="347.80" cy="414.18" r="4.80" fill="#40d8e0" /><circle cx="347.80" cy="414.18" r="2.30" fill="#2088f0" /><circle cx="330.80" cy="414.18" r="4.80" fill="#40d8e0" /><circle cx="330.80" cy="414.18" r="2.30" fill="#2088f0" /><circle cx="322.30" cy="428.90" r="4.80" fill="#40d8e0" /><circle cx="322.30" cy="428.90" r="2.30" fill="#2088f0" /><circle cx="330.80" cy="443.62" r="4.80" fill="#40d8e0" /><circle cx="330.80" cy="443.62" r="2.30" fill="#2088f0" /><circle cx="347.80" cy="443.62" r="4.80" fill="#40d8e0" /><circle cx="347.80" cy="443.62" r="2.30" fill="#2088f0" /></g>
<rect x="375" y="397.5" width="62" height="62.7" fill="#fff" stroke="#aaa" stroke-width="0.8"/>
<g clip-path="url(#cp15)"><circle cx="406.30" cy="428.90" r="26.70" fill="#20e020" /><circle cx="406.30" cy="428.90" r="26.0" fill="none" stroke="#20d0d0" stroke-width="1.5"/><path d="M424.20,428.90 L424.22,428.43 L424.29,427.96 L424.40,427.48 L424.55,426.98 L424.73,426.47 L424.94,425.95 L425.16,425.40 L425.40,424.84 L425.63,424.26 L425.86,423.66 L426.07,423.04 L426.25,422.42 L426.39,421.78 L426.49,421.15 L426.54,420.51 L426.54,419.89 L426.47,419.28 L426.33,418.69 L426.14,418.13 L425.87,417.60 L425.54,417.11 L425.16,416.65 L424.71,416.24 L424.22,415.88 L423.68,415.56 L423.11,415.29 L422.51,415.06 L421.89,414.86 L421.26,414.71 L420.62,414.58 L419.99,414.48 L419.36,414.39 L418.76,414.31 L418.17,414.24 L417.62,414.15 L417.09,414.06 L416.58,413.94 L416.11,413.79 L415.67,413.61 L415.25,413.40 L414.85,413.14 L414.48,412.85 L414.12,412.51 L413.76,412.14 L413.41,411.73 L413.06,411.28 L412.70,410.82 L412.33,410.33 L411.95,409.84 L411.54,409.34 L411.11,408.85 L410.66,408.38 L410.18,407.94 L409.68,407.54 L409.16,407.18 L408.62,406.87 L408.05,406.63 L407.48,406.45 L406.89,406.34 L406.30,406.30 L405.71,406.34 L405.12,406.45 L404.55,406.63 L403.98,406.87 L403.44,407.18 L402.92,407.54 L402.42,407.94 L401.94,408.38 L401.49,408.85 L401.06,409.34 L400.65,409.84 L400.27,410.33 L399.90,410.82 L399.54,411.28 L399.19,411.73 L398.84,412.14 L398.48,412.51 L398.12,412.85 L397.75,413.14 L397.35,413.40 L396.93,413.61 L396.49,413.79 L396.02,413.94 L395.51,414.06 L394.98,414.15 L394.43,414.24 L393.84,414.31 L393.24,414.39 L392.61,414.48 L391.98,414.58 L391.34,414.71 L390.71,414.86 L390.09,415.06 L389.49,415.29 L388.92,415.56 L388.38,415.88 L387.89,416.24 L387.44,416.65 L387.06,417.11 L386.73,417.60 L386.46,418.13 L386.27,418.69 L386.13,419.28 L386.06,419.89 L386.06,420.51 L386.11,421.15 L386.21,421.78 L386.35,422.42 L386.53,423.04 L386.74,423.66 L386.97,424.26 L387.20,424.84 L387.44,425.40 L387.66,425.95 L387.87,426.47 L388.05,426.98 L388.20,427.48 L388.31,427.96 L388.38,428.43 L388.40,428.90 L388.38,429.37 L388.31,429.84 L388.20,430.32 L388.05,430.82 L387.87,431.33 L387.66,431.85 L387.44,432.40 L387.20,432.96 L386.97,433.54 L386.74,434.14 L386.53,434.76 L386.35,435.38 L386.21,436.02 L386.11,436.65 L386.06,437.29 L386.06,437.91 L386.13,438.52 L386.27,439.11 L386.46,439.67 L386.73,440.20 L387.06,440.69 L387.44,441.15 L387.89,441.56 L388.38,441.92 L388.92,442.24 L389.49,442.51 L390.09,442.74 L390.71,442.94 L391.34,443.09 L391.98,443.22 L392.61,443.32 L393.24,443.41 L393.84,443.49 L394.43,443.56 L394.98,443.65 L395.51,443.74 L396.02,443.86 L396.49,444.01 L396.93,444.19 L397.35,444.40 L397.75,444.66 L398.12,444.95 L398.48,445.29 L398.84,445.66 L399.19,446.07 L399.54,446.52 L399.90,446.98 L400.27,447.47 L400.65,447.96 L401.06,448.46 L401.49,448.95 L401.94,449.42 L402.42,449.86 L402.92,450.26 L403.44,450.62 L403.98,450.93 L404.55,451.17 L405.12,451.35 L405.71,451.46 L406.30,451.50 L406.89,451.46 L407.48,451.35 L408.05,451.17 L408.62,450.93 L409.16,450.62 L409.68,450.26 L410.18,449.86 L410.66,449.42 L411.11,448.95 L411.54,448.46 L411.95,447.96 L412.33,447.47 L412.70,446.98 L413.06,446.52 L413.41,446.07 L413.76,445.66 L414.12,445.29 L414.48,444.95 L414.85,444.66 L415.25,444.40 L415.67,444.19 L416.11,444.01 L416.58,443.86 L417.09,443.74 L417.62,443.65 L418.17,443.56 L418.76,443.49 L419.36,443.41 L419.99,443.32 L420.62,443.22 L421.26,443.09 L421.89,442.94 L422.51,442.74 L423.11,442.51 L423.68,442.24 L424.22,441.92 L424.71,441.56 L425.16,441.15 L425.54,440.69 L425.87,440.20 L426.14,439.67 L426.33,439.11 L426.47,438.52 L426.54,437.91 L426.54,437.29 L426.49,436.65 L426.39,436.02 L426.25,435.38 L426.07,434.76 L425.86,434.14 L425.63,433.54 L425.40,432.96 L425.16,432.40 L424.94,431.85 L424.73,431.33 L424.55,430.82 L424.40,430.32 L424.29,429.84 L424.22,429.37 Z" fill="#a0f000"/><path d="M423.60,428.90 L423.62,428.45 L423.69,427.99 L423.80,427.52 L423.95,427.04 L424.13,426.55 L424.34,426.04 L424.57,425.51 L424.81,424.97 L425.05,424.40 L425.28,423.81 L425.49,423.21 L425.68,422.60 L425.83,421.98 L425.93,421.36 L425.99,420.74 L425.99,420.13 L425.93,419.54 L425.80,418.96 L425.61,418.42 L425.35,417.90 L425.03,417.42 L424.65,416.98 L424.22,416.58 L423.74,416.23 L423.21,415.93 L422.64,415.66 L422.05,415.45 L421.44,415.27 L420.82,415.12 L420.19,415.01 L419.57,414.91 L418.96,414.84 L418.37,414.77 L417.80,414.70 L417.25,414.63 L416.73,414.54 L416.24,414.43 L415.78,414.29 L415.35,414.12 L414.95,413.92 L414.57,413.67 L414.21,413.38 L413.86,413.05 L413.52,412.69 L413.18,412.28 L412.85,411.84 L412.50,411.38 L412.15,410.90 L411.78,410.41 L411.39,409.92 L410.97,409.44 L410.54,408.97 L410.08,408.53 L409.59,408.13 L409.08,407.77 L408.55,407.47 L408.01,407.22 L407.45,407.05 L406.88,406.94 L406.30,406.90 L405.72,406.94 L405.15,407.05 L404.59,407.22 L404.05,407.47 L403.52,407.77 L403.01,408.13 L402.52,408.53 L402.06,408.97 L401.63,409.44 L401.21,409.92 L400.82,410.41 L400.45,410.90 L400.10,411.38 L399.75,411.84 L399.42,412.28 L399.08,412.69 L398.74,413.05 L398.39,413.38 L398.03,413.67 L397.65,413.92 L397.25,414.12 L396.82,414.29 L396.36,414.43 L395.87,414.54 L395.35,414.63 L394.80,414.70 L394.23,414.77 L393.64,414.84 L393.03,414.91 L392.41,415.01 L391.78,415.12 L391.16,415.27 L390.55,415.45 L389.96,415.66 L389.39,415.93 L388.86,416.23 L388.38,416.58 L387.95,416.98 L387.57,417.42 L387.25,417.90 L386.99,418.42 L386.80,418.96 L386.67,419.54 L386.61,420.13 L386.61,420.74 L386.67,421.36 L386.77,421.98 L386.92,422.60 L387.11,423.21 L387.32,423.81 L387.55,424.40 L387.79,424.97 L388.03,425.51 L388.26,426.04 L388.47,426.55 L388.65,427.04 L388.80,427.52 L388.91,427.99 L388.98,428.45 L389.00,428.90 L388.98,429.35 L388.91,429.81 L388.80,430.28 L388.65,430.76 L388.47,431.25 L388.26,431.76 L388.03,432.29 L387.79,432.83 L387.55,433.40 L387.32,433.99 L387.11,434.59 L386.92,435.20 L386.77,435.82 L386.67,436.44 L386.61,437.06 L386.61,437.67 L386.67,438.26 L386.80,438.84 L386.99,439.38 L387.25,439.90 L387.57,440.38 L387.95,440.82 L388.38,441.22 L388.86,441.57 L389.39,441.87 L389.96,442.14 L390.55,442.35 L391.16,442.53 L391.78,442.68 L392.41,442.79 L393.03,442.89 L393.64,442.96 L394.23,443.03 L394.80,443.10 L395.35,443.17 L395.87,443.26 L396.36,443.37 L396.82,443.51 L397.25,443.68 L397.65,443.88 L398.03,444.13 L398.39,444.42 L398.74,444.75 L399.08,445.11 L399.42,445.52 L399.75,445.96 L400.10,446.42 L400.45,446.90 L400.82,447.39 L401.21,447.88 L401.63,448.36 L402.06,448.83 L402.52,449.27 L403.01,449.67 L403.52,450.03 L404.05,450.33 L404.59,450.58 L405.15,450.75 L405.72,450.86 L406.30,450.90 L406.88,450.86 L407.45,450.75 L408.01,450.58 L408.55,450.33 L409.08,450.03 L409.59,449.67 L410.08,449.27 L410.54,448.83 L410.97,448.36 L411.39,447.88 L411.78,447.39 L412.15,446.90 L412.50,446.42 L412.85,445.96 L413.18,445.52 L413.52,445.11 L413.86,444.75 L414.21,444.42 L414.57,444.13 L414.95,443.88 L415.35,443.68 L415.78,443.51 L416.24,443.37 L416.73,443.26 L417.25,443.17 L417.80,443.10 L418.37,443.03 L418.96,442.96 L419.57,442.89 L420.19,442.79 L420.82,442.68 L421.44,442.53 L422.05,442.35 L422.64,442.14 L423.21,441.87 L423.74,441.57 L424.22,441.22 L424.65,440.82 L425.03,440.38 L425.35,439.90 L425.61,439.38 L425.80,438.84 L425.93,438.26 L425.99,437.67 L425.99,437.06 L425.93,436.44 L425.83,435.82 L425.68,435.20 L425.49,434.59 L425.28,433.99 L425.05,433.40 L424.81,432.83 L424.57,432.29 L424.34,431.76 L424.13,431.25 L423.95,430.76 L423.80,430.28 L423.69,429.81 L423.62,429.35 Z" fill="#f0f000"/><path d="M422.30,428.90 L422.32,428.48 L422.39,428.06 L422.51,427.62 L422.66,427.18 L422.85,426.72 L423.06,426.25 L423.29,425.75 L423.54,425.24 L423.79,424.70 L424.02,424.15 L424.25,423.58 L424.44,423.01 L424.60,422.42 L424.72,421.83 L424.79,421.24 L424.80,420.66 L424.75,420.10 L424.64,419.55 L424.47,419.04 L424.23,418.55 L423.92,418.10 L423.56,417.69 L423.15,417.32 L422.68,417.00 L422.18,416.72 L421.63,416.48 L421.06,416.29 L420.48,416.14 L419.88,416.02 L419.28,415.92 L418.68,415.86 L418.09,415.80 L417.52,415.76 L416.98,415.71 L416.46,415.66 L415.97,415.59 L415.51,415.50 L415.08,415.38 L414.68,415.23 L414.30,415.04 L413.95,414.81 L413.62,414.54 L413.30,414.23 L412.99,413.87 L412.69,413.48 L412.38,413.06 L412.07,412.61 L411.75,412.14 L411.41,411.66 L411.05,411.18 L410.67,410.70 L410.27,410.24 L409.84,409.81 L409.39,409.41 L408.91,409.06 L408.42,408.76 L407.90,408.52 L407.38,408.34 L406.84,408.24 L406.30,408.20 L405.76,408.24 L405.22,408.34 L404.70,408.52 L404.18,408.76 L403.69,409.06 L403.21,409.41 L402.76,409.81 L402.33,410.24 L401.93,410.70 L401.55,411.18 L401.19,411.66 L400.85,412.14 L400.53,412.61 L400.22,413.06 L399.91,413.48 L399.61,413.87 L399.30,414.23 L398.98,414.54 L398.65,414.81 L398.30,415.04 L397.92,415.23 L397.52,415.38 L397.09,415.50 L396.63,415.59 L396.14,415.66 L395.62,415.71 L395.08,415.76 L394.51,415.80 L393.92,415.86 L393.32,415.92 L392.72,416.02 L392.12,416.14 L391.54,416.29 L390.97,416.48 L390.42,416.72 L389.92,417.00 L389.45,417.32 L389.04,417.69 L388.68,418.10 L388.37,418.55 L388.13,419.04 L387.96,419.55 L387.85,420.10 L387.80,420.66 L387.81,421.24 L387.88,421.83 L388.00,422.42 L388.16,423.01 L388.35,423.58 L388.58,424.15 L388.81,424.70 L389.06,425.24 L389.31,425.75 L389.54,426.25 L389.75,426.72 L389.94,427.18 L390.09,427.62 L390.21,428.06 L390.28,428.48 L390.30,428.90 L390.28,429.32 L390.21,429.74 L390.09,430.18 L389.94,430.62 L389.75,431.08 L389.54,431.55 L389.31,432.05 L389.06,432.56 L388.81,433.10 L388.58,433.65 L388.35,434.22 L388.16,434.79 L388.00,435.38 L387.88,435.97 L387.81,436.56 L387.80,437.14 L387.85,437.70 L387.96,438.25 L388.13,438.76 L388.37,439.25 L388.68,439.70 L389.04,440.11 L389.45,440.48 L389.92,440.80 L390.42,441.08 L390.97,441.32 L391.54,441.51 L392.12,441.66 L392.72,441.78 L393.32,441.88 L393.92,441.94 L394.51,442.00 L395.08,442.04 L395.62,442.09 L396.14,442.14 L396.63,442.21 L397.09,442.30 L397.52,442.42 L397.92,442.57 L398.30,442.76 L398.65,442.99 L398.98,443.26 L399.30,443.57 L399.61,443.93 L399.91,444.32 L400.22,444.74 L400.53,445.19 L400.85,445.66 L401.19,446.14 L401.55,446.62 L401.93,447.10 L402.33,447.56 L402.76,447.99 L403.21,448.39 L403.69,448.74 L404.18,449.04 L404.70,449.28 L405.22,449.46 L405.76,449.56 L406.30,449.60 L406.84,449.56 L407.38,449.46 L407.90,449.28 L408.42,449.04 L408.91,448.74 L409.39,448.39 L409.84,447.99 L410.27,447.56 L410.67,447.10 L411.05,446.62 L411.41,446.14 L411.75,445.66 L412.07,445.19 L412.38,444.74 L412.69,444.32 L412.99,443.93 L413.30,443.57 L413.62,443.26 L413.95,442.99 L414.30,442.76 L414.68,442.57 L415.08,442.42 L415.51,442.30 L415.97,442.21 L416.46,442.14 L416.98,442.09 L417.52,442.04 L418.09,442.00 L418.68,441.94 L419.28,441.88 L419.88,441.78 L420.48,441.66 L421.06,441.51 L421.63,441.32 L422.18,441.08 L422.68,440.80 L423.15,440.48 L423.56,440.11 L423.92,439.70 L424.23,439.25 L424.47,438.76 L424.64,438.25 L424.75,437.70 L424.80,437.14 L424.79,436.56 L424.72,435.97 L424.60,435.38 L424.44,434.79 L424.25,434.22 L424.02,433.65 L423.79,433.10 L423.54,432.56 L423.29,432.05 L423.06,431.55 L422.85,431.08 L422.66,430.62 L422.51,430.18 L422.39,429.74 L422.32,429.32 Z" fill="#f8d000"/><path d="M421.30,428.90 L421.32,428.51 L421.39,428.11 L421.51,427.70 L421.66,427.29 L421.85,426.85 L422.07,426.40 L422.31,425.93 L422.56,425.44 L422.81,424.94 L423.06,424.41 L423.29,423.87 L423.49,423.31 L423.66,422.75 L423.79,422.19 L423.86,421.62 L423.89,421.07 L423.85,420.53 L423.75,420.01 L423.59,419.51 L423.36,419.05 L423.07,418.62 L422.73,418.23 L422.32,417.89 L421.87,417.58 L421.38,417.33 L420.86,417.11 L420.30,416.94 L419.73,416.80 L419.15,416.70 L418.57,416.63 L417.99,416.58 L417.42,416.55 L416.88,416.52 L416.35,416.49 L415.85,416.45 L415.38,416.40 L414.94,416.33 L414.53,416.22 L414.15,416.09 L413.80,415.91 L413.47,415.69 L413.16,415.43 L412.87,415.13 L412.58,414.79 L412.30,414.41 L412.02,413.99 L411.74,413.55 L411.44,413.09 L411.12,412.62 L410.79,412.14 L410.44,411.67 L410.06,411.22 L409.66,410.79 L409.23,410.40 L408.78,410.05 L408.31,409.75 L407.83,409.52 L407.32,409.34 L406.81,409.24 L406.30,409.20 L405.79,409.24 L405.28,409.34 L404.77,409.52 L404.29,409.75 L403.82,410.05 L403.37,410.40 L402.94,410.79 L402.54,411.22 L402.16,411.67 L401.81,412.14 L401.48,412.62 L401.16,413.09 L400.86,413.55 L400.58,413.99 L400.30,414.41 L400.02,414.79 L399.73,415.13 L399.44,415.43 L399.13,415.69 L398.80,415.91 L398.45,416.09 L398.07,416.22 L397.66,416.33 L397.22,416.40 L396.75,416.45 L396.25,416.49 L395.72,416.52 L395.18,416.55 L394.61,416.58 L394.03,416.63 L393.45,416.70 L392.87,416.80 L392.30,416.94 L391.74,417.11 L391.22,417.33 L390.73,417.58 L390.28,417.89 L389.87,418.23 L389.53,418.62 L389.24,419.05 L389.01,419.51 L388.85,420.01 L388.75,420.53 L388.71,421.07 L388.74,421.62 L388.81,422.19 L388.94,422.75 L389.11,423.31 L389.31,423.87 L389.54,424.41 L389.79,424.94 L390.04,425.44 L390.29,425.93 L390.53,426.40 L390.75,426.85 L390.94,427.29 L391.09,427.70 L391.21,428.11 L391.28,428.51 L391.30,428.90 L391.28,429.29 L391.21,429.69 L391.09,430.10 L390.94,430.51 L390.75,430.95 L390.53,431.40 L390.29,431.87 L390.04,432.36 L389.79,432.86 L389.54,433.39 L389.31,433.93 L389.11,434.49 L388.94,435.05 L388.81,435.61 L388.74,436.18 L388.71,436.73 L388.75,437.27 L388.85,437.79 L389.01,438.29 L389.24,438.75 L389.53,439.18 L389.87,439.57 L390.28,439.91 L390.73,440.22 L391.22,440.47 L391.74,440.69 L392.30,440.86 L392.87,441.00 L393.45,441.10 L394.03,441.17 L394.61,441.22 L395.18,441.25 L395.72,441.28 L396.25,441.31 L396.75,441.35 L397.22,441.40 L397.66,441.47 L398.07,441.58 L398.45,441.71 L398.80,441.89 L399.13,442.11 L399.44,442.37 L399.73,442.67 L400.02,443.01 L400.30,443.39 L400.58,443.81 L400.86,444.25 L401.16,444.71 L401.48,445.18 L401.81,445.66 L402.16,446.13 L402.54,446.58 L402.94,447.01 L403.37,447.40 L403.82,447.75 L404.29,448.05 L404.77,448.28 L405.28,448.46 L405.79,448.56 L406.30,448.60 L406.81,448.56 L407.32,448.46 L407.83,448.28 L408.31,448.05 L408.78,447.75 L409.23,447.40 L409.66,447.01 L410.06,446.58 L410.44,446.13 L410.79,445.66 L411.12,445.18 L411.44,444.71 L411.74,444.25 L412.02,443.81 L412.30,443.39 L412.58,443.01 L412.87,442.67 L413.16,442.37 L413.47,442.11 L413.80,441.89 L414.15,441.71 L414.53,441.58 L414.94,441.47 L415.38,441.40 L415.85,441.35 L416.35,441.31 L416.88,441.28 L417.42,441.25 L417.99,441.22 L418.57,441.17 L419.15,441.10 L419.73,441.00 L420.30,440.86 L420.86,440.69 L421.38,440.47 L421.87,440.22 L422.32,439.91 L422.73,439.57 L423.07,439.18 L423.36,438.75 L423.59,438.29 L423.75,437.79 L423.85,437.27 L423.89,436.73 L423.86,436.18 L423.79,435.61 L423.66,435.05 L423.49,434.49 L423.29,433.93 L423.06,433.39 L422.81,432.86 L422.56,432.36 L422.31,431.87 L422.07,431.40 L421.85,430.95 L421.66,430.51 L421.51,430.10 L421.39,429.69 L421.32,429.29 Z" fill="#f89000"/><path d="M420.40,428.90 L420.42,428.53 L420.50,428.16 L420.61,427.77 L420.77,427.38 L420.96,426.97 L421.18,426.54 L421.43,426.10 L421.68,425.63 L421.94,425.15 L422.19,424.64 L422.43,424.12 L422.64,423.59 L422.81,423.05 L422.95,422.51 L423.03,421.97 L423.06,421.44 L423.04,420.92 L422.95,420.42 L422.80,419.94 L422.58,419.50 L422.30,419.09 L421.97,418.72 L421.58,418.40 L421.15,418.11 L420.67,417.87 L420.16,417.68 L419.62,417.52 L419.06,417.41 L418.50,417.32 L417.93,417.27 L417.37,417.23 L416.82,417.21 L416.29,417.20 L415.78,417.19 L415.30,417.17 L414.85,417.13 L414.43,417.07 L414.04,416.98 L413.68,416.85 L413.35,416.69 L413.04,416.48 L412.75,416.23 L412.48,415.94 L412.22,415.61 L411.96,415.24 L411.70,414.83 L411.43,414.40 L411.16,413.95 L410.87,413.48 L410.56,413.01 L410.23,412.55 L409.87,412.10 L409.49,411.68 L409.09,411.29 L408.66,410.94 L408.22,410.65 L407.75,410.41 L407.28,410.24 L406.79,410.14 L406.30,410.10 L405.81,410.14 L405.32,410.24 L404.85,410.41 L404.38,410.65 L403.94,410.94 L403.51,411.29 L403.11,411.68 L402.73,412.10 L402.37,412.55 L402.04,413.01 L401.73,413.48 L401.44,413.95 L401.17,414.40 L400.90,414.83 L400.64,415.24 L400.38,415.61 L400.12,415.94 L399.85,416.23 L399.56,416.48 L399.25,416.69 L398.92,416.85 L398.56,416.98 L398.17,417.07 L397.75,417.13 L397.30,417.17 L396.82,417.19 L396.31,417.20 L395.78,417.21 L395.23,417.23 L394.67,417.27 L394.10,417.32 L393.54,417.41 L392.98,417.52 L392.44,417.68 L391.93,417.87 L391.45,418.11 L391.02,418.40 L390.63,418.72 L390.30,419.09 L390.02,419.50 L389.80,419.94 L389.65,420.42 L389.56,420.92 L389.54,421.44 L389.57,421.97 L389.65,422.51 L389.79,423.05 L389.96,423.59 L390.17,424.12 L390.41,424.64 L390.66,425.15 L390.92,425.63 L391.17,426.10 L391.42,426.54 L391.64,426.97 L391.83,427.38 L391.99,427.77 L392.10,428.16 L392.18,428.53 L392.20,428.90 L392.18,429.27 L392.10,429.64 L391.99,430.03 L391.83,430.42 L391.64,430.83 L391.42,431.26 L391.17,431.70 L390.92,432.17 L390.66,432.65 L390.41,433.16 L390.17,433.68 L389.96,434.21 L389.79,434.75 L389.65,435.29 L389.57,435.83 L389.54,436.36 L389.56,436.88 L389.65,437.38 L389.80,437.86 L390.02,438.30 L390.30,438.71 L390.63,439.08 L391.02,439.40 L391.45,439.69 L391.93,439.93 L392.44,440.12 L392.98,440.28 L393.54,440.39 L394.10,440.48 L394.67,440.53 L395.23,440.57 L395.78,440.59 L396.31,440.60 L396.82,440.61 L397.30,440.63 L397.75,440.67 L398.17,440.73 L398.56,440.82 L398.92,440.95 L399.25,441.11 L399.56,441.32 L399.85,441.57 L400.12,441.86 L400.38,442.19 L400.64,442.56 L400.90,442.97 L401.17,443.40 L401.44,443.85 L401.73,444.32 L402.04,444.79 L402.37,445.25 L402.73,445.70 L403.11,446.12 L403.51,446.51 L403.94,446.86 L404.38,447.15 L404.85,447.39 L405.32,447.56 L405.81,447.66 L406.30,447.70 L406.79,447.66 L407.28,447.56 L407.75,447.39 L408.22,447.15 L408.66,446.86 L409.09,446.51 L409.49,446.12 L409.87,445.70 L410.23,445.25 L410.56,444.79 L410.87,444.32 L411.16,443.85 L411.43,443.40 L411.70,442.97 L411.96,442.56 L412.22,442.19 L412.48,441.86 L412.75,441.57 L413.04,441.32 L413.35,441.11 L413.68,440.95 L414.04,440.82 L414.43,440.73 L414.85,440.67 L415.30,440.63 L415.78,440.61 L416.29,440.60 L416.82,440.59 L417.37,440.57 L417.93,440.53 L418.50,440.48 L419.06,440.39 L419.62,440.28 L420.16,440.12 L420.67,439.93 L421.15,439.69 L421.58,439.40 L421.97,439.08 L422.30,438.71 L422.58,438.30 L422.80,437.86 L422.95,437.38 L423.04,436.88 L423.06,436.36 L423.03,435.83 L422.95,435.29 L422.81,434.75 L422.64,434.21 L422.43,433.68 L422.19,433.16 L421.94,432.65 L421.68,432.17 L421.43,431.70 L421.18,431.26 L420.96,430.83 L420.77,430.42 L420.61,430.03 L420.50,429.64 L420.42,429.27 Z" fill="#f85000"/><path d="M419.60,428.90 L419.62,428.55 L419.70,428.20 L419.81,427.84 L419.97,427.46 L420.17,427.07 L420.39,426.67 L420.64,426.24 L420.90,425.80 L421.16,425.33 L421.42,424.85 L421.66,424.35 L421.87,423.84 L422.06,423.32 L422.20,422.80 L422.29,422.28 L422.33,421.76 L422.32,421.26 L422.24,420.78 L422.09,420.32 L421.89,419.90 L421.62,419.51 L421.30,419.16 L420.92,418.85 L420.50,418.58 L420.03,418.36 L419.54,418.18 L419.01,418.04 L418.47,417.94 L417.92,417.87 L417.37,417.83 L416.82,417.81 L416.29,417.81 L415.77,417.81 L415.28,417.81 L414.82,417.80 L414.38,417.78 L413.98,417.73 L413.61,417.65 L413.26,417.54 L412.95,417.38 L412.66,417.19 L412.39,416.95 L412.14,416.66 L411.89,416.34 L411.65,415.98 L411.41,415.58 L411.17,415.15 L410.91,414.71 L410.64,414.25 L410.35,413.78 L410.04,413.32 L409.70,412.88 L409.35,412.46 L408.96,412.08 L408.56,411.74 L408.13,411.44 L407.69,411.21 L407.24,411.04 L406.77,410.94 L406.30,410.90 L405.83,410.94 L405.36,411.04 L404.91,411.21 L404.47,411.44 L404.04,411.74 L403.64,412.08 L403.25,412.46 L402.90,412.88 L402.56,413.32 L402.25,413.78 L401.96,414.25 L401.69,414.71 L401.43,415.15 L401.19,415.58 L400.95,415.98 L400.71,416.34 L400.46,416.66 L400.21,416.95 L399.94,417.19 L399.65,417.38 L399.34,417.54 L398.99,417.65 L398.62,417.73 L398.22,417.78 L397.78,417.80 L397.32,417.81 L396.83,417.81 L396.31,417.81 L395.78,417.81 L395.23,417.83 L394.68,417.87 L394.13,417.94 L393.59,418.04 L393.06,418.18 L392.57,418.36 L392.10,418.58 L391.68,418.85 L391.30,419.16 L390.98,419.51 L390.71,419.90 L390.51,420.32 L390.36,420.78 L390.28,421.26 L390.27,421.76 L390.31,422.28 L390.40,422.80 L390.54,423.32 L390.73,423.84 L390.94,424.35 L391.18,424.85 L391.44,425.33 L391.70,425.80 L391.96,426.24 L392.21,426.67 L392.43,427.07 L392.63,427.46 L392.79,427.84 L392.90,428.20 L392.98,428.55 L393.00,428.90 L392.98,429.25 L392.90,429.60 L392.79,429.96 L392.63,430.34 L392.43,430.73 L392.21,431.13 L391.96,431.56 L391.70,432.00 L391.44,432.47 L391.18,432.95 L390.94,433.45 L390.73,433.96 L390.54,434.48 L390.40,435.00 L390.31,435.52 L390.27,436.04 L390.28,436.54 L390.36,437.02 L390.51,437.48 L390.71,437.90 L390.98,438.29 L391.30,438.64 L391.68,438.95 L392.10,439.22 L392.57,439.44 L393.06,439.62 L393.59,439.76 L394.13,439.86 L394.68,439.93 L395.23,439.97 L395.78,439.99 L396.31,439.99 L396.83,439.99 L397.32,439.99 L397.78,440.00 L398.22,440.02 L398.62,440.07 L398.99,440.15 L399.34,440.26 L399.65,440.42 L399.94,440.61 L400.21,440.85 L400.46,441.14 L400.71,441.46 L400.95,441.82 L401.19,442.22 L401.43,442.65 L401.69,443.09 L401.96,443.55 L402.25,444.02 L402.56,444.48 L402.90,444.92 L403.25,445.34 L403.64,445.72 L404.04,446.06 L404.47,446.36 L404.91,446.59 L405.36,446.76 L405.83,446.86 L406.30,446.90 L406.77,446.86 L407.24,446.76 L407.69,446.59 L408.13,446.36 L408.56,446.06 L408.96,445.72 L409.35,445.34 L409.70,444.92 L410.04,444.48 L410.35,444.02 L410.64,443.55 L410.91,443.09 L411.17,442.65 L411.41,442.22 L411.65,441.82 L411.89,441.46 L412.14,441.14 L412.39,440.85 L412.66,440.61 L412.95,440.42 L413.26,440.26 L413.61,440.15 L413.98,440.07 L414.38,440.02 L414.82,440.00 L415.28,439.99 L415.77,439.99 L416.29,439.99 L416.82,439.99 L417.37,439.97 L417.92,439.93 L418.47,439.86 L419.01,439.76 L419.54,439.62 L420.03,439.44 L420.50,439.22 L420.92,438.95 L421.30,438.64 L421.62,438.29 L421.89,437.90 L422.09,437.48 L422.24,437.02 L422.32,436.54 L422.33,436.04 L422.29,435.52 L422.20,435.00 L422.06,434.48 L421.87,433.96 L421.66,433.45 L421.42,432.95 L421.16,432.47 L420.90,432.00 L420.64,431.56 L420.39,431.13 L420.17,430.73 L419.97,430.34 L419.81,429.96 L419.70,429.60 L419.62,429.25 Z" fill="#f01010"/></g>
<rect x="40" y="468.5" width="62" height="62.7" fill="#fff" stroke="#aaa" stroke-width="0.8"/>
<g clip-path="url(#cp20)"><circle cx="71.30" cy="499.90" r="26.70" fill="#30d840" /><line x1="88.69" y1="495.24" x2="97.09" y2="492.99" stroke="#20a838" stroke-width="0.5"/><line x1="84.03" y1="487.17" x2="90.18" y2="481.02" stroke="#20a838" stroke-width="0.5"/><line x1="75.96" y1="482.51" x2="78.21" y2="474.11" stroke="#20a838" stroke-width="0.5"/><line x1="66.64" y1="482.51" x2="64.39" y2="474.11" stroke="#20a838" stroke-width="0.5"/><line x1="58.57" y1="487.17" x2="52.42" y2="481.02" stroke="#20a838" stroke-width="0.5"/><line x1="53.91" y1="495.24" x2="45.51" y2="492.99" stroke="#20a838" stroke-width="0.5"/><line x1="53.91" y1="504.56" x2="45.51" y2="506.81" stroke="#20a838" stroke-width="0.5"/><line x1="58.57" y1="512.63" x2="52.42" y2="518.78" stroke="#20a838" stroke-width="0.5"/><line x1="66.64" y1="517.29" x2="64.39" y2="525.69" stroke="#20a838" stroke-width="0.5"/><line x1="75.96" y1="517.29" x2="78.21" y2="525.69" stroke="#20a838" stroke-width="0.5"/><line x1="84.03" y1="512.63" x2="90.18" y2="518.78" stroke="#20a838" stroke-width="0.5"/><line x1="88.69" y1="504.56" x2="97.09" y2="506.81" stroke="#20a838" stroke-width="0.5"/><rect x="68.80" y="473.20" width="5" height="53.40" fill="#30e0b0" opacity="0.6"/><circle cx="71.30" cy="499.90" r="18.30" fill="#30e6ec" /><path d="M71.30,486.40 L66.55,491.67 L59.61,493.15 L61.80,499.90 L59.61,506.65 L66.55,508.13 L71.30,513.40 L76.05,508.13 L82.99,506.65 L80.80,499.90 L82.99,493.15 L76.05,491.67 Z" fill="#20b0f4"/><circle cx="71.30" cy="499.90" r="5.20" fill="#1060f0" /><path d="M79.70,499.90 L89.30,505.44 L89.30,494.36 Z" fill="#0c44ea"/><path d="M85.10,487.08 L75.50,481.54 L75.50,492.63 Z" fill="#0c44ea"/><path d="M57.50,487.08 L67.10,492.63 L67.10,481.54 Z" fill="#0c44ea"/><path d="M62.90,499.90 L53.30,494.36 L53.30,505.44 Z" fill="#0c44ea"/><path d="M57.50,512.72 L67.10,518.26 L67.10,507.17 Z" fill="#0c44ea"/><path d="M85.10,512.72 L75.50,507.17 L75.50,518.26 Z" fill="#0c44ea"/></g>
<rect x="107" y="468.5" width="62" height="62.7" fill="#fff" stroke="#aaa" stroke-width="0.8"/>
<g clip-path="url(#cp21)"><circle cx="138.30" cy="499.90" r="26.70" fill="#30e040" /><line x1="156.65" y1="494.98" x2="164.09" y2="492.99" stroke="#20a838" stroke-width="0.5"/><line x1="151.74" y1="486.46" x2="157.18" y2="481.02" stroke="#20a838" stroke-width="0.5"/><line x1="143.22" y1="481.55" x2="145.21" y2="474.11" stroke="#20a838" stroke-width="0.5"/><line x1="133.38" y1="481.55" x2="131.39" y2="474.11" stroke="#20a838" stroke-width="0.5"/><line x1="124.86" y1="486.46" x2="119.42" y2="481.02" stroke="#20a838" stroke-width="0.5"/><line x1="119.95" y1="494.98" x2="112.51" y2="492.99" stroke="#20a838" stroke-width="0.5"/><line x1="119.95" y1="504.82" x2="112.51" y2="506.81" stroke="#20a838" stroke-width="0.5"/><line x1="124.86" y1="513.34" x2="119.42" y2="518.78" stroke="#20a838" stroke-width="0.5"/><line x1="133.38" y1="518.25" x2="131.39" y2="525.69" stroke="#20a838" stroke-width="0.5"/><line x1="143.22" y1="518.25" x2="145.21" y2="525.69" stroke="#20a838" stroke-width="0.5"/><line x1="151.74" y1="513.34" x2="157.18" y2="518.78" stroke="#20a838" stroke-width="0.5"/><line x1="156.65" y1="504.82" x2="164.09" y2="506.81" stroke="#20a838" stroke-width="0.5"/><circle cx="138.30" cy="499.90" r="12.50" fill="#28ecf0" /><circle cx="138.30" cy="499.90" r="10.00" fill="#30e040" /><line x1="138.30" y1="493.90" x2="138.30" y2="487.90" stroke="#28ecf0" stroke-width="2.2"/><line x1="133.10" y1="496.90" x2="127.91" y2="493.90" stroke="#28ecf0" stroke-width="2.2"/><line x1="133.10" y1="502.90" x2="127.91" y2="505.90" stroke="#28ecf0" stroke-width="2.2"/><line x1="138.30" y1="505.90" x2="138.30" y2="511.90" stroke="#28ecf0" stroke-width="2.2"/><line x1="143.50" y1="502.90" x2="148.69" y2="505.90" stroke="#28ecf0" stroke-width="2.2"/><line x1="143.50" y1="496.90" x2="148.69" y2="493.90" stroke="#28ecf0" stroke-width="2.2"/><circle cx="153.80" cy="499.90" r="6.40" fill="#28ecf0" /><circle cx="146.05" cy="486.48" r="6.40" fill="#28ecf0" /><circle cx="130.55" cy="486.48" r="6.40" fill="#28ecf0" /><circle cx="122.80" cy="499.90" r="6.40" fill="#28ecf0" /><circle cx="130.55" cy="513.32" r="6.40" fill="#28ecf0" /><circle cx="146.05" cy="513.32" r="6.40" fill="#28ecf0" /><circle cx="138.30" cy="499.90" r="8.00" fill="url(#cg21)" /><path d="M150.40,499.90 L155.50,502.84 L155.50,496.96 Z" fill="#1050ee" stroke="#1050ee" stroke-width="1.6" stroke-linejoin="round"/><path d="M149.45,486.48 L144.35,483.53 L144.35,489.42 Z" fill="#1050ee" stroke="#1050ee" stroke-width="1.6" stroke-linejoin="round"/><path d="M127.15,486.48 L132.25,489.42 L132.25,483.53 Z" fill="#1050ee" stroke="#1050ee" stroke-width="1.6" stroke-linejoin="round"/><path d="M126.20,499.90 L121.10,496.96 L121.10,502.84 Z" fill="#1050ee" stroke="#1050ee" stroke-width="1.6" stroke-linejoin="round"/><path d="M127.15,513.32 L132.25,516.27 L132.25,510.38 Z" fill="#1050ee" stroke="#1050ee" stroke-width="1.6" stroke-linejoin="round"/><path d="M149.45,513.32 L144.35,510.38 L144.35,516.27 Z" fill="#1050ee" stroke="#1050ee" stroke-width="1.6" stroke-linejoin="round"/></g>
<rect x="174" y="468.5" width="62" height="62.7" fill="#fff" stroke="#aaa" stroke-width="0.8"/>
<g clip-path="url(#cp22)"><circle cx="205.30" cy="499.90" r="26.70" fill="#30e040" /><line x1="223.65" y1="494.98" x2="231.09" y2="492.99" stroke="#20a838" stroke-width="0.5"/><line x1="218.74" y1="486.46" x2="224.18" y2="481.02" stroke="#20a838" stroke-width="0.5"/><line x1="210.22" y1="481.55" x2="212.21" y2="474.11" stroke="#20a838" stroke-width="0.5"/><line x1="200.38" y1="481.55" x2="198.39" y2="474.11" stroke="#20a838" stroke-width="0.5"/><line x1="191.86" y1="486.46" x2="186.42" y2="481.02" stroke="#20a838" stroke-width="0.5"/><line x1="186.95" y1="494.98" x2="179.51" y2="492.99" stroke="#20a838" stroke-width="0.5"/><line x1="186.95" y1="504.82" x2="179.51" y2="506.81" stroke="#20a838" stroke-width="0.5"/><line x1="191.86" y1="513.34" x2="186.42" y2="518.78" stroke="#20a838" stroke-width="0.5"/><line x1="200.38" y1="518.25" x2="198.39" y2="525.69" stroke="#20a838" stroke-width="0.5"/><line x1="210.22" y1="518.25" x2="212.21" y2="525.69" stroke="#20a838" stroke-width="0.5"/><line x1="218.74" y1="513.34" x2="224.18" y2="518.78" stroke="#20a838" stroke-width="0.5"/><line x1="223.65" y1="504.82" x2="231.09" y2="506.81" stroke="#20a838" stroke-width="0.5"/><ellipse cx="226.80" cy="499.90" rx="6.5" ry="4.2" transform="rotate(-0.0 226.80 499.90)" fill="#48e8d0" /><circle cx="221.30" cy="499.90" r="5.40" fill="#38e8e0" /><ellipse cx="216.05" cy="481.28" rx="6.5" ry="4.2" transform="rotate(-60.0 216.05 481.28)" fill="#48e8d0" /><circle cx="213.30" cy="486.04" r="5.40" fill="#38e8e0" /><ellipse cx="194.55" cy="481.28" rx="6.5" ry="4.2" transform="rotate(-120.0 194.55 481.28)" fill="#48e8d0" /><circle cx="197.30" cy="486.04" r="5.40" fill="#38e8e0" /><ellipse cx="183.80" cy="499.90" rx="6.5" ry="4.2" transform="rotate(-180.0 183.80 499.90)" fill="#48e8d0" /><circle cx="189.30" cy="499.90" r="5.40" fill="#38e8e0" /><ellipse cx="194.55" cy="518.52" rx="6.5" ry="4.2" transform="rotate(-240.0 194.55 518.52)" fill="#48e8d0" /><circle cx="197.30" cy="513.76" r="5.40" fill="#38e8e0" /><ellipse cx="216.05" cy="518.52" rx="6.5" ry="4.2" transform="rotate(-300.0 216.05 518.52)" fill="#48e8d0" /><circle cx="213.30" cy="513.76" r="5.40" fill="#38e8e0" /><circle cx="205.30" cy="499.90" r="12.50" fill="#30e040" /><circle cx="205.30" cy="499.90" r="9.80" fill="#38e8e0" /><circle cx="205.30" cy="499.90" r="8.00" fill="url(#cg22)" /><circle cx="221.30" cy="499.90" r="3.70" fill="#1048ea" /><circle cx="213.30" cy="486.04" r="3.70" fill="#1048ea" /><circle cx="197.30" cy="486.04" r="3.70" fill="#1048ea" /><circle cx="189.30" cy="499.90" r="3.70" fill="#1048ea" /><circle cx="197.30" cy="513.76" r="3.70" fill="#1048ea" /><circle cx="213.30" cy="513.76" r="3.70" fill="#1048ea" /></g>
<rect x="241" y="468.5" width="62" height="62.7" fill="#fff" stroke="#aaa" stroke-width="0.8"/>
<g clip-path="url(#cp23)"><circle cx="272.30" cy="499.90" r="26.70" fill="#30e040" /><line x1="290.65" y1="494.98" x2="298.09" y2="492.99" stroke="#20a838" stroke-width="0.5"/><line x1="285.74" y1="486.46" x2="291.18" y2="481.02" stroke="#20a838" stroke-width="0.5"/><line x1="277.22" y1="481.55" x2="279.21" y2="474.11" stroke="#20a838" stroke-width="0.5"/><line x1="267.38" y1="481.55" x2="265.39" y2="474.11" stroke="#20a838" stroke-width="0.5"/><line x1="258.86" y1="486.46" x2="253.42" y2="481.02" stroke="#20a838" stroke-width="0.5"/><line x1="253.95" y1="494.98" x2="246.51" y2="492.99" stroke="#20a838" stroke-width="0.5"/><line x1="253.95" y1="504.82" x2="246.51" y2="506.81" stroke="#20a838" stroke-width="0.5"/><line x1="258.86" y1="513.34" x2="253.42" y2="518.78" stroke="#20a838" stroke-width="0.5"/><line x1="267.38" y1="518.25" x2="265.39" y2="525.69" stroke="#20a838" stroke-width="0.5"/><line x1="277.22" y1="518.25" x2="279.21" y2="525.69" stroke="#20a838" stroke-width="0.5"/><line x1="285.74" y1="513.34" x2="291.18" y2="518.78" stroke="#20a838" stroke-width="0.5"/><line x1="290.65" y1="504.82" x2="298.09" y2="506.81" stroke="#20a838" stroke-width="0.5"/><path d="M272.30,483.30 L269.01,489.00 L275.59,489.00 Z" fill="#f0ec10"/><path d="M257.92,491.60 L261.21,497.30 L264.51,491.60 Z" fill="#f0ec10"/><path d="M257.92,508.20 L264.51,508.20 L261.21,502.50 Z" fill="#f0ec10"/><path d="M272.30,516.50 L275.59,510.80 L269.01,510.80 Z" fill="#f0ec10"/><path d="M286.68,508.20 L283.39,502.50 L280.09,508.20 Z" fill="#f0ec10"/><path d="M286.68,491.60 L280.09,491.60 L283.39,497.30 Z" fill="#f0ec10"/><ellipse cx="292.30" cy="499.90" rx="7.5" ry="5.2" transform="rotate(-0.0 292.30 499.90)" fill="#38e8e0" /><ellipse cx="289.30" cy="499.90" rx="3.6" ry="3.2" transform="rotate(-0.0 289.30 499.90)" fill="#0c44ea" /><ellipse cx="282.30" cy="482.58" rx="7.5" ry="5.2" transform="rotate(-60.0 282.30 482.58)" fill="#38e8e0" /><ellipse cx="280.80" cy="485.18" rx="3.6" ry="3.2" transform="rotate(-60.0 280.80 485.18)" fill="#0c44ea" /><ellipse cx="262.30" cy="482.58" rx="7.5" ry="5.2" transform="rotate(-120.0 262.30 482.58)" fill="#38e8e0" /><ellipse cx="263.80" cy="485.18" rx="3.6" ry="3.2" transform="rotate(-120.0 263.80 485.18)" fill="#0c44ea" /><ellipse cx="252.30" cy="499.90" rx="7.5" ry="5.2" transform="rotate(-180.0 252.30 499.90)" fill="#38e8e0" /><ellipse cx="255.30" cy="499.90" rx="3.6" ry="3.2" transform="rotate(-180.0 255.30 499.90)" fill="#0c44ea" /><ellipse cx="262.30" cy="517.22" rx="7.5" ry="5.2" transform="rotate(-240.0 262.30 517.22)" fill="#38e8e0" /><ellipse cx="263.80" cy="514.62" rx="3.6" ry="3.2" transform="rotate(-240.0 263.80 514.62)" fill="#0c44ea" /><ellipse cx="282.30" cy="517.22" rx="7.5" ry="5.2" transform="rotate(-300.0 282.30 517.22)" fill="#38e8e0" /><ellipse cx="280.80" cy="514.62" rx="3.6" ry="3.2" transform="rotate(-300.0 280.80 514.62)" fill="#0c44ea" /><circle cx="272.30" cy="499.90" r="9.20" fill="#28ecf0" /><circle cx="272.30" cy="499.90" r="7.40" fill="url(#cg23)" /></g>
<rect x="308" y="468.5" width="62" height="62.7" fill="#fff" stroke="#aaa" stroke-width="0.8"/>
<g clip-path="url(#cp24)"><circle cx="339.30" cy="499.90" r="26.70" fill="#30d848" /><circle cx="339.30" cy="499.90" r="26.0" fill="none" stroke="#30d0d8" stroke-width="1.5"/><path d="M342.30,491.90 L344.30,471.90 L334.30,471.90 L336.30,491.90 Z M333.87,493.30 L317.55,481.57 L312.55,490.23 L330.87,498.50 Z M330.87,501.30 L312.55,509.57 L317.55,518.23 L333.87,506.50 Z M336.30,507.90 L334.30,527.90 L344.30,527.90 L342.30,507.90 Z M344.73,506.50 L361.05,518.23 L366.05,509.57 L347.73,501.30 Z M347.73,498.50 L366.05,490.23 L361.05,481.57 L344.73,493.30 Z" fill="#f4d020"/><path d="M355.20,499.90 L355.25,499.34 L355.39,498.78 L355.61,498.19 L355.90,497.57 L356.24,496.91 L356.61,496.22 L356.99,495.49 L357.34,494.73 L357.66,493.93 L357.91,493.13 L358.07,492.32 L358.12,491.52 L358.06,490.75 L357.88,490.02 L357.57,489.35 L357.15,488.75 L356.61,488.23 L355.97,487.79 L355.25,487.44 L354.47,487.17 L353.65,486.98 L352.80,486.86 L351.96,486.79 L351.14,486.75 L350.36,486.72 L349.62,486.69 L348.94,486.63 L348.32,486.53 L347.76,486.37 L347.25,486.13 L346.79,485.81 L346.37,485.41 L345.97,484.92 L345.58,484.36 L345.18,483.74 L344.77,483.07 L344.32,482.38 L343.84,481.69 L343.31,481.02 L342.74,480.40 L342.12,479.86 L341.45,479.41 L340.76,479.08 L340.03,478.87 L339.30,478.80 L338.57,478.87 L337.84,479.08 L337.15,479.41 L336.48,479.86 L335.86,480.40 L335.29,481.02 L334.76,481.69 L334.28,482.38 L333.83,483.07 L333.42,483.74 L333.02,484.36 L332.63,484.92 L332.23,485.41 L331.81,485.81 L331.35,486.13 L330.84,486.37 L330.28,486.53 L329.66,486.63 L328.98,486.69 L328.24,486.72 L327.46,486.75 L326.64,486.79 L325.80,486.86 L324.95,486.98 L324.13,487.17 L323.35,487.44 L322.63,487.79 L321.99,488.23 L321.45,488.75 L321.03,489.35 L320.72,490.02 L320.54,490.75 L320.48,491.52 L320.53,492.32 L320.69,493.13 L320.94,493.93 L321.26,494.73 L321.61,495.49 L321.99,496.22 L322.36,496.91 L322.70,497.57 L322.99,498.19 L323.21,498.78 L323.35,499.34 L323.40,499.90 L323.35,500.46 L323.21,501.02 L322.99,501.61 L322.70,502.23 L322.36,502.89 L321.99,503.58 L321.61,504.31 L321.26,505.07 L320.94,505.87 L320.69,506.67 L320.53,507.48 L320.48,508.28 L320.54,509.05 L320.72,509.78 L321.03,510.45 L321.45,511.05 L321.99,511.57 L322.63,512.01 L323.35,512.36 L324.13,512.63 L324.95,512.82 L325.80,512.94 L326.64,513.01 L327.46,513.05 L328.24,513.08 L328.98,513.11 L329.66,513.17 L330.28,513.27 L330.84,513.43 L331.35,513.67 L331.81,513.99 L332.23,514.39 L332.63,514.88 L333.02,515.44 L333.42,516.06 L333.83,516.73 L334.28,517.42 L334.76,518.11 L335.29,518.78 L335.86,519.40 L336.48,519.94 L337.15,520.39 L337.84,520.72 L338.57,520.93 L339.30,521.00 L340.03,520.93 L340.76,520.72 L341.45,520.39 L342.12,519.94 L342.74,519.40 L343.31,518.78 L343.84,518.11 L344.32,517.42 L344.77,516.73 L345.18,516.06 L345.58,515.44 L345.97,514.88 L346.37,514.39 L346.79,513.99 L347.25,513.67 L347.76,513.43 L348.32,513.27 L348.94,513.17 L349.62,513.11 L350.36,513.08 L351.14,513.05 L351.96,513.01 L352.80,512.94 L353.65,512.82 L354.47,512.63 L355.25,512.36 L355.97,512.01 L356.61,511.57 L357.15,511.05 L357.57,510.45 L357.88,509.78 L358.06,509.05 L358.12,508.28 L358.07,507.48 L357.91,506.67 L357.66,505.87 L357.34,505.07 L356.99,504.31 L356.61,503.58 L356.24,502.89 L355.90,502.23 L355.61,501.61 L355.39,501.02 L355.25,500.46 Z" fill="#f4d020"/><path d="M340.70,491.90 L341.80,471.90 L336.80,471.90 L337.90,491.90 Z M333.07,494.69 L316.30,483.73 L313.80,488.07 L331.67,497.11 Z M331.67,502.69 L313.80,511.73 L316.30,516.07 L333.07,505.11 Z M337.90,507.90 L336.80,527.90 L341.80,527.90 L340.70,507.90 Z M345.53,505.11 L362.30,516.07 L364.80,511.73 L346.93,502.69 Z M346.93,497.11 L364.80,488.07 L362.30,483.73 L345.53,494.69 Z" fill="#f8a020"/><path d="M346.80,486.91 L346.23,486.08 L345.71,485.33 L345.25,484.65 L344.85,484.01 L344.51,483.41 L344.22,482.84 L343.98,482.30 L343.79,481.78 L343.66,481.28 L343.56,480.79 L343.51,480.31 L343.50,479.83 L342.94,477.30 L341.40,475.76 L339.30,475.20 L337.20,475.76 L335.66,477.30 L335.10,479.83 L335.09,480.31 L335.04,480.79 L334.94,481.28 L334.81,481.78 L334.62,482.30 L334.38,482.84 L334.09,483.41 L333.75,484.01 L333.35,484.65 L332.89,485.33 L332.37,486.08 L331.80,486.91 L331.80,486.91 L330.79,486.99 L329.89,487.06 L329.07,487.12 L328.31,487.15 L327.62,487.15 L326.99,487.11 L326.40,487.05 L325.86,486.95 L325.35,486.82 L324.88,486.65 L324.44,486.45 L324.02,486.23 L321.55,485.45 L319.45,486.01 L317.91,487.55 L317.35,489.65 L317.91,491.75 L319.82,493.50 L320.22,493.75 L320.62,494.04 L320.99,494.36 L321.36,494.73 L321.72,495.16 L322.07,495.63 L322.42,496.17 L322.76,496.76 L323.11,497.43 L323.48,498.17 L323.87,498.99 L324.30,499.90 L324.30,499.90 L323.87,500.81 L323.48,501.63 L323.11,502.37 L322.76,503.04 L322.42,503.63 L322.07,504.17 L321.72,504.64 L321.36,505.07 L320.99,505.44 L320.62,505.76 L320.22,506.05 L319.82,506.30 L317.91,508.05 L317.35,510.15 L317.91,512.25 L319.45,513.79 L321.55,514.35 L324.02,513.57 L324.44,513.35 L324.88,513.15 L325.35,512.98 L325.86,512.85 L326.40,512.75 L326.99,512.69 L327.62,512.65 L328.31,512.65 L329.07,512.68 L329.89,512.74 L330.79,512.81 L331.80,512.89 L331.80,512.89 L332.37,513.72 L332.89,514.47 L333.35,515.15 L333.75,515.79 L334.09,516.39 L334.38,516.96 L334.62,517.50 L334.81,518.02 L334.94,518.52 L335.04,519.01 L335.09,519.49 L335.10,519.97 L335.66,522.50 L337.20,524.04 L339.30,524.60 L341.40,524.04 L342.94,522.50 L343.50,519.97 L343.51,519.49 L343.56,519.01 L343.66,518.52 L343.79,518.02 L343.98,517.50 L344.22,516.96 L344.51,516.39 L344.85,515.79 L345.25,515.15 L345.71,514.47 L346.23,513.72 L346.80,512.89 L346.80,512.89 L347.81,512.81 L348.71,512.74 L349.53,512.68 L350.29,512.65 L350.98,512.65 L351.61,512.69 L352.20,512.75 L352.74,512.85 L353.25,512.98 L353.72,513.15 L354.16,513.35 L354.58,513.57 L357.05,514.35 L359.15,513.79 L360.69,512.25 L361.25,510.15 L360.69,508.05 L358.78,506.30 L358.38,506.05 L357.98,505.76 L357.61,505.44 L357.24,505.07 L356.88,504.64 L356.53,504.17 L356.18,503.63 L355.84,503.04 L355.49,502.37 L355.12,501.63 L354.73,500.81 L354.30,499.90 L354.30,499.90 L354.73,498.99 L355.12,498.17 L355.49,497.43 L355.84,496.76 L356.18,496.17 L356.53,495.63 L356.88,495.16 L357.24,494.73 L357.61,494.36 L357.98,494.04 L358.38,493.75 L358.78,493.50 L360.69,491.75 L361.25,489.65 L360.69,487.55 L359.15,486.01 L357.05,485.45 L354.58,486.23 L354.16,486.45 L353.72,486.65 L353.25,486.82 L352.74,486.95 L352.20,487.05 L351.61,487.11 L350.98,487.15 L350.29,487.15 L349.53,487.12 L348.71,487.06 L347.81,486.99 L346.80,486.91 Z" fill="#f86010"/><path d="M346.40,487.60 L345.83,486.79 L345.31,486.07 L344.85,485.40 L344.45,484.79 L344.11,484.21 L343.82,483.67 L343.58,483.15 L343.39,482.65 L343.26,482.16 L343.16,481.69 L343.11,481.23 L343.10,480.77 L342.59,478.50 L341.20,477.11 L339.30,476.60 L337.40,477.11 L336.01,478.50 L335.50,480.77 L335.49,481.23 L335.44,481.69 L335.34,482.16 L335.21,482.65 L335.02,483.15 L334.78,483.67 L334.49,484.21 L334.15,484.79 L333.75,485.40 L333.29,486.07 L332.77,486.79 L332.20,487.60 L332.20,487.60 L331.21,487.70 L330.32,487.78 L329.52,487.84 L328.79,487.88 L328.12,487.89 L327.50,487.87 L326.93,487.82 L326.40,487.73 L325.92,487.60 L325.46,487.45 L325.04,487.26 L324.64,487.05 L322.41,486.35 L320.51,486.86 L319.12,488.25 L318.61,490.15 L319.12,492.05 L320.84,493.63 L321.22,493.87 L321.60,494.14 L321.96,494.46 L322.31,494.82 L322.65,495.23 L322.98,495.70 L323.31,496.22 L323.64,496.81 L323.97,497.46 L324.31,498.19 L324.69,499.00 L325.10,499.90 L325.10,499.90 L324.69,500.80 L324.31,501.61 L323.97,502.34 L323.64,502.99 L323.31,503.58 L322.98,504.10 L322.65,504.57 L322.31,504.98 L321.96,505.34 L321.60,505.66 L321.22,505.93 L320.84,506.17 L319.12,507.75 L318.61,509.65 L319.12,511.55 L320.51,512.94 L322.41,513.45 L324.64,512.75 L325.04,512.54 L325.46,512.35 L325.92,512.20 L326.40,512.07 L326.93,511.98 L327.50,511.93 L328.12,511.91 L328.79,511.92 L329.52,511.96 L330.32,512.02 L331.21,512.10 L332.20,512.20 L332.20,512.20 L332.77,513.01 L333.29,513.73 L333.75,514.40 L334.15,515.01 L334.49,515.59 L334.78,516.13 L335.02,516.65 L335.21,517.15 L335.34,517.64 L335.44,518.11 L335.49,518.57 L335.50,519.03 L336.01,521.30 L337.40,522.69 L339.30,523.20 L341.20,522.69 L342.59,521.30 L343.10,519.03 L343.11,518.57 L343.16,518.11 L343.26,517.64 L343.39,517.15 L343.58,516.65 L343.82,516.13 L344.11,515.59 L344.45,515.01 L344.85,514.40 L345.31,513.73 L345.83,513.01 L346.40,512.20 L346.40,512.20 L347.39,512.10 L348.28,512.02 L349.08,511.96 L349.81,511.92 L350.48,511.91 L351.10,511.93 L351.67,511.98 L352.20,512.07 L352.68,512.20 L353.14,512.35 L353.56,512.54 L353.96,512.75 L356.19,513.45 L358.09,512.94 L359.48,511.55 L359.99,509.65 L359.48,507.75 L357.76,506.17 L357.38,505.93 L357.00,505.66 L356.64,505.34 L356.29,504.98 L355.95,504.57 L355.62,504.10 L355.29,503.58 L354.96,502.99 L354.63,502.34 L354.29,501.61 L353.91,500.80 L353.50,499.90 L353.50,499.90 L353.91,499.00 L354.29,498.19 L354.63,497.46 L354.96,496.81 L355.29,496.22 L355.62,495.70 L355.95,495.23 L356.29,494.82 L356.64,494.46 L357.00,494.14 L357.38,493.87 L357.76,493.63 L359.48,492.05 L359.99,490.15 L359.48,488.25 L358.09,486.86 L356.19,486.35 L353.96,487.05 L353.56,487.26 L353.14,487.45 L352.68,487.60 L352.20,487.73 L351.67,487.82 L351.10,487.87 L350.48,487.89 L349.81,487.88 L349.08,487.84 L348.28,487.78 L347.39,487.70 L346.40,487.60 Z" fill="#f01010"/><ellipse cx="357.30" cy="499.90" rx="4.4" ry="5.6" transform="rotate(-0.0 357.30 499.90)" fill="#40d8e0" /><circle cx="357.30" cy="499.90" r="2.30" fill="#2088f0" /><ellipse cx="348.30" cy="484.31" rx="4.4" ry="5.6" transform="rotate(-60.0 348.30 484.31)" fill="#40d8e0" /><circle cx="348.30" cy="484.31" r="2.30" fill="#2088f0" /><ellipse cx="330.30" cy="484.31" rx="4.4" ry="5.6" transform="rotate(-120.0 330.30 484.31)" fill="#40d8e0" /><circle cx="330.30" cy="484.31" r="2.30" fill="#2088f0" /><ellipse cx="321.30" cy="499.90" rx="4.4" ry="5.6" transform="rotate(-180.0 321.30 499.90)" fill="#40d8e0" /><circle cx="321.30" cy="499.90" r="2.30" fill="#2088f0" /><ellipse cx="330.30" cy="515.49" rx="4.4" ry="5.6" transform="rotate(-240.0 330.30 515.49)" fill="#40d8e0" /><circle cx="330.30" cy="515.49" r="2.30" fill="#2088f0" /><ellipse cx="348.30" cy="515.49" rx="4.4" ry="5.6" transform="rotate(-300.0 348.30 515.49)" fill="#40d8e0" /><circle cx="348.30" cy="515.49" r="2.30" fill="#2088f0" /></g>
<rect x="375" y="468.5" width="62" height="62.7" fill="#fff" stroke="#aaa" stroke-width="0.8"/>
<g clip-path="url(#cp25)"><circle cx="406.30" cy="499.90" r="26.70" fill="#20e020" /><circle cx="406.30" cy="499.90" r="26.0" fill="none" stroke="#20d0d0" stroke-width="1.5"/><path d="M424.80,499.90 L424.82,499.41 L424.89,498.93 L424.99,498.43 L425.14,497.92 L425.31,497.40 L425.51,496.86 L425.73,496.30 L425.95,495.72 L426.18,495.13 L426.39,494.52 L426.59,493.89 L426.76,493.25 L426.89,492.61 L426.98,491.96 L427.02,491.32 L427.00,490.68 L426.92,490.06 L426.78,489.46 L426.58,488.89 L426.31,488.35 L425.97,487.85 L425.58,487.38 L425.13,486.96 L424.63,486.58 L424.09,486.25 L423.52,485.96 L422.91,485.71 L422.29,485.51 L421.65,485.33 L421.01,485.19 L420.37,485.07 L419.74,484.97 L419.13,484.88 L418.54,484.79 L417.97,484.69 L417.43,484.58 L416.92,484.45 L416.44,484.29 L415.98,484.10 L415.55,483.88 L415.14,483.62 L414.75,483.32 L414.37,482.98 L414.00,482.60 L413.64,482.19 L413.27,481.74 L412.89,481.28 L412.51,480.79 L412.11,480.30 L411.68,479.81 L411.24,479.32 L410.77,478.86 L410.28,478.42 L409.77,478.02 L409.23,477.67 L408.67,477.36 L408.09,477.12 L407.50,476.94 L406.90,476.84 L406.30,476.80 L405.70,476.84 L405.10,476.94 L404.51,477.12 L403.93,477.36 L403.37,477.67 L402.83,478.02 L402.32,478.42 L401.83,478.86 L401.36,479.32 L400.92,479.81 L400.49,480.30 L400.09,480.79 L399.71,481.28 L399.33,481.74 L398.96,482.19 L398.60,482.60 L398.23,482.98 L397.85,483.32 L397.46,483.62 L397.05,483.88 L396.62,484.10 L396.16,484.29 L395.68,484.45 L395.17,484.58 L394.63,484.69 L394.06,484.79 L393.47,484.88 L392.86,484.97 L392.23,485.07 L391.59,485.19 L390.95,485.33 L390.31,485.51 L389.69,485.71 L389.08,485.96 L388.51,486.25 L387.97,486.58 L387.47,486.96 L387.02,487.38 L386.63,487.85 L386.29,488.35 L386.02,488.89 L385.82,489.46 L385.68,490.06 L385.60,490.68 L385.58,491.32 L385.62,491.96 L385.71,492.61 L385.84,493.25 L386.01,493.89 L386.21,494.52 L386.42,495.13 L386.65,495.72 L386.87,496.30 L387.09,496.86 L387.29,497.40 L387.46,497.92 L387.61,498.43 L387.71,498.93 L387.78,499.41 L387.80,499.90 L387.78,500.39 L387.71,500.87 L387.61,501.37 L387.46,501.88 L387.29,502.40 L387.09,502.94 L386.87,503.50 L386.65,504.08 L386.42,504.67 L386.21,505.28 L386.01,505.91 L385.84,506.55 L385.71,507.19 L385.62,507.84 L385.58,508.48 L385.60,509.12 L385.68,509.74 L385.82,510.34 L386.02,510.91 L386.29,511.45 L386.63,511.95 L387.02,512.42 L387.47,512.84 L387.97,513.22 L388.51,513.55 L389.08,513.84 L389.69,514.09 L390.31,514.29 L390.95,514.47 L391.59,514.61 L392.23,514.73 L392.86,514.83 L393.47,514.92 L394.06,515.01 L394.63,515.11 L395.17,515.22 L395.68,515.35 L396.16,515.51 L396.62,515.70 L397.05,515.92 L397.46,516.18 L397.85,516.48 L398.23,516.82 L398.60,517.20 L398.96,517.61 L399.33,518.06 L399.71,518.52 L400.09,519.01 L400.49,519.50 L400.92,519.99 L401.36,520.48 L401.83,520.94 L402.32,521.38 L402.83,521.78 L403.37,522.13 L403.93,522.44 L404.51,522.68 L405.10,522.86 L405.70,522.96 L406.30,523.00 L406.90,522.96 L407.50,522.86 L408.09,522.68 L408.67,522.44 L409.23,522.13 L409.77,521.78 L410.28,521.38 L410.77,520.94 L411.24,520.48 L411.68,519.99 L412.11,519.50 L412.51,519.01 L412.89,518.52 L413.27,518.06 L413.64,517.61 L414.00,517.20 L414.37,516.82 L414.75,516.48 L415.14,516.18 L415.55,515.92 L415.98,515.70 L416.44,515.51 L416.92,515.35 L417.43,515.22 L417.97,515.11 L418.54,515.01 L419.13,514.92 L419.74,514.83 L420.37,514.73 L421.01,514.61 L421.65,514.47 L422.29,514.29 L422.91,514.09 L423.52,513.84 L424.09,513.55 L424.63,513.22 L425.13,512.84 L425.58,512.42 L425.97,511.95 L426.31,511.45 L426.58,510.91 L426.78,510.34 L426.92,509.74 L427.00,509.12 L427.02,508.48 L426.98,507.84 L426.89,507.19 L426.76,506.55 L426.59,505.91 L426.39,505.28 L426.18,504.67 L425.95,504.08 L425.73,503.50 L425.51,502.94 L425.31,502.40 L425.14,501.88 L424.99,501.37 L424.89,500.87 L424.82,500.39 Z" fill="#a0f000"/><path d="M424.20,499.90 L424.22,499.43 L424.29,498.96 L424.39,498.48 L424.54,497.98 L424.71,497.48 L424.92,496.95 L425.14,496.41 L425.36,495.85 L425.59,495.27 L425.81,494.67 L426.01,494.06 L426.19,493.44 L426.33,492.81 L426.42,492.18 L426.46,491.55 L426.45,490.93 L426.38,490.32 L426.25,489.74 L426.05,489.18 L425.79,488.65 L425.46,488.16 L425.08,487.71 L424.64,487.30 L424.15,486.93 L423.62,486.61 L423.05,486.34 L422.45,486.10 L421.84,485.91 L421.21,485.75 L420.58,485.62 L419.96,485.51 L419.34,485.42 L418.74,485.33 L418.16,485.25 L417.61,485.16 L417.08,485.06 L416.58,484.94 L416.11,484.79 L415.67,484.61 L415.25,484.40 L414.85,484.14 L414.48,483.85 L414.11,483.52 L413.76,483.15 L413.41,482.74 L413.05,482.30 L412.69,481.84 L412.32,481.36 L411.93,480.88 L411.53,480.39 L411.10,479.91 L410.65,479.45 L410.17,479.01 L409.67,478.61 L409.15,478.26 L408.61,477.96 L408.05,477.72 L407.47,477.54 L406.89,477.44 L406.30,477.40 L405.71,477.44 L405.13,477.54 L404.55,477.72 L403.99,477.96 L403.45,478.26 L402.93,478.61 L402.43,479.01 L401.95,479.45 L401.50,479.91 L401.07,480.39 L400.67,480.88 L400.28,481.36 L399.91,481.84 L399.55,482.30 L399.19,482.74 L398.84,483.15 L398.49,483.52 L398.12,483.85 L397.75,484.14 L397.35,484.40 L396.93,484.61 L396.49,484.79 L396.02,484.94 L395.52,485.06 L394.99,485.16 L394.44,485.25 L393.86,485.33 L393.26,485.42 L392.64,485.51 L392.02,485.62 L391.39,485.75 L390.76,485.91 L390.15,486.10 L389.55,486.34 L388.98,486.61 L388.45,486.93 L387.96,487.30 L387.52,487.71 L387.14,488.16 L386.81,488.65 L386.55,489.18 L386.35,489.74 L386.22,490.32 L386.15,490.93 L386.14,491.55 L386.18,492.18 L386.27,492.81 L386.41,493.44 L386.59,494.06 L386.79,494.67 L387.01,495.27 L387.24,495.85 L387.46,496.41 L387.68,496.95 L387.89,497.48 L388.06,497.98 L388.21,498.48 L388.31,498.96 L388.38,499.43 L388.40,499.90 L388.38,500.37 L388.31,500.84 L388.21,501.32 L388.06,501.82 L387.89,502.32 L387.68,502.85 L387.46,503.39 L387.24,503.95 L387.01,504.53 L386.79,505.13 L386.59,505.74 L386.41,506.36 L386.27,506.99 L386.18,507.62 L386.14,508.25 L386.15,508.87 L386.22,509.48 L386.35,510.06 L386.55,510.62 L386.81,511.15 L387.14,511.64 L387.52,512.09 L387.96,512.50 L388.45,512.87 L388.98,513.19 L389.55,513.46 L390.15,513.70 L390.76,513.89 L391.39,514.05 L392.02,514.18 L392.64,514.29 L393.26,514.38 L393.86,514.47 L394.44,514.55 L394.99,514.64 L395.52,514.74 L396.02,514.86 L396.49,515.01 L396.93,515.19 L397.35,515.40 L397.75,515.66 L398.12,515.95 L398.49,516.28 L398.84,516.65 L399.19,517.06 L399.55,517.50 L399.91,517.96 L400.28,518.44 L400.67,518.92 L401.07,519.41 L401.50,519.89 L401.95,520.35 L402.43,520.79 L402.93,521.19 L403.45,521.54 L403.99,521.84 L404.55,522.08 L405.13,522.26 L405.71,522.36 L406.30,522.40 L406.89,522.36 L407.47,522.26 L408.05,522.08 L408.61,521.84 L409.15,521.54 L409.67,521.19 L410.17,520.79 L410.65,520.35 L411.10,519.89 L411.53,519.41 L411.93,518.92 L412.32,518.44 L412.69,517.96 L413.05,517.50 L413.41,517.06 L413.76,516.65 L414.11,516.28 L414.48,515.95 L414.85,515.66 L415.25,515.40 L415.67,515.19 L416.11,515.01 L416.58,514.86 L417.08,514.74 L417.61,514.64 L418.16,514.55 L418.74,514.47 L419.34,514.38 L419.96,514.29 L420.58,514.18 L421.21,514.05 L421.84,513.89 L422.45,513.70 L423.05,513.46 L423.62,513.19 L424.15,512.87 L424.64,512.50 L425.08,512.09 L425.46,511.64 L425.79,511.15 L426.05,510.62 L426.25,510.06 L426.38,509.48 L426.45,508.87 L426.46,508.25 L426.42,507.62 L426.33,506.99 L426.19,506.36 L426.01,505.74 L425.81,505.13 L425.59,504.53 L425.36,503.95 L425.14,503.39 L424.92,502.85 L424.71,502.32 L424.54,501.82 L424.39,501.32 L424.29,500.84 L424.22,500.37 Z" fill="#f0f000"/><path d="M422.90,499.90 L422.92,499.46 L422.99,499.03 L423.10,498.58 L423.25,498.12 L423.43,497.65 L423.63,497.15 L423.86,496.65 L424.09,496.12 L424.33,495.57 L424.56,495.01 L424.77,494.43 L424.95,493.84 L425.10,493.24 L425.21,492.64 L425.26,492.04 L425.27,491.46 L425.21,490.88 L425.09,490.33 L424.91,489.80 L424.66,489.30 L424.35,488.84 L423.99,488.41 L423.56,488.03 L423.10,487.70 L422.58,487.40 L422.04,487.16 L421.47,486.95 L420.87,486.78 L420.27,486.64 L419.66,486.54 L419.06,486.45 L418.47,486.38 L417.90,486.32 L417.34,486.26 L416.82,486.20 L416.32,486.11 L415.84,486.01 L415.40,485.88 L414.99,485.72 L414.60,485.52 L414.23,485.29 L413.89,485.01 L413.55,484.69 L413.23,484.33 L412.91,483.94 L412.59,483.52 L412.26,483.07 L411.92,482.60 L411.57,482.12 L411.19,481.64 L410.80,481.17 L410.38,480.72 L409.93,480.29 L409.47,479.90 L408.98,479.55 L408.47,479.25 L407.94,479.02 L407.40,478.84 L406.85,478.74 L406.30,478.70 L405.75,478.74 L405.20,478.84 L404.66,479.02 L404.13,479.25 L403.62,479.55 L403.13,479.90 L402.67,480.29 L402.22,480.72 L401.80,481.17 L401.41,481.64 L401.03,482.12 L400.68,482.60 L400.34,483.07 L400.01,483.52 L399.69,483.94 L399.37,484.33 L399.05,484.69 L398.71,485.01 L398.37,485.29 L398.00,485.52 L397.61,485.72 L397.20,485.88 L396.76,486.01 L396.28,486.11 L395.78,486.20 L395.26,486.26 L394.70,486.32 L394.13,486.38 L393.54,486.45 L392.94,486.54 L392.33,486.64 L391.73,486.78 L391.13,486.95 L390.56,487.16 L390.02,487.40 L389.50,487.70 L389.04,488.03 L388.61,488.41 L388.25,488.84 L387.94,489.30 L387.69,489.80 L387.51,490.33 L387.39,490.88 L387.33,491.46 L387.34,492.04 L387.39,492.64 L387.50,493.24 L387.65,493.84 L387.83,494.43 L388.04,495.01 L388.27,495.57 L388.51,496.12 L388.74,496.65 L388.97,497.15 L389.17,497.65 L389.35,498.12 L389.50,498.58 L389.61,499.03 L389.68,499.46 L389.70,499.90 L389.68,500.34 L389.61,500.77 L389.50,501.22 L389.35,501.68 L389.17,502.15 L388.97,502.65 L388.74,503.15 L388.51,503.68 L388.27,504.23 L388.04,504.79 L387.83,505.37 L387.65,505.96 L387.50,506.56 L387.39,507.16 L387.34,507.76 L387.33,508.34 L387.39,508.92 L387.51,509.47 L387.69,510.00 L387.94,510.50 L388.25,510.96 L388.61,511.39 L389.04,511.77 L389.50,512.10 L390.02,512.40 L390.56,512.64 L391.13,512.85 L391.73,513.02 L392.33,513.16 L392.94,513.26 L393.54,513.35 L394.13,513.42 L394.70,513.48 L395.26,513.54 L395.78,513.60 L396.28,513.69 L396.76,513.79 L397.20,513.92 L397.61,514.08 L398.00,514.28 L398.37,514.51 L398.71,514.79 L399.05,515.11 L399.37,515.47 L399.69,515.86 L400.01,516.28 L400.34,516.73 L400.68,517.20 L401.03,517.68 L401.41,518.16 L401.80,518.63 L402.22,519.08 L402.67,519.51 L403.13,519.90 L403.62,520.25 L404.13,520.55 L404.66,520.78 L405.20,520.96 L405.75,521.06 L406.30,521.10 L406.85,521.06 L407.40,520.96 L407.94,520.78 L408.47,520.55 L408.98,520.25 L409.47,519.90 L409.93,519.51 L410.38,519.08 L410.80,518.63 L411.19,518.16 L411.57,517.68 L411.92,517.20 L412.26,516.73 L412.59,516.28 L412.91,515.86 L413.23,515.47 L413.55,515.11 L413.89,514.79 L414.23,514.51 L414.60,514.28 L414.99,514.08 L415.40,513.92 L415.84,513.79 L416.32,513.69 L416.82,513.60 L417.34,513.54 L417.90,513.48 L418.47,513.42 L419.06,513.35 L419.66,513.26 L420.27,513.16 L420.87,513.02 L421.47,512.85 L422.04,512.64 L422.58,512.40 L423.10,512.10 L423.56,511.77 L423.99,511.39 L424.35,510.96 L424.66,510.50 L424.91,510.00 L425.09,509.47 L425.21,508.92 L425.27,508.34 L425.26,507.76 L425.21,507.16 L425.10,506.56 L424.95,505.96 L424.77,505.37 L424.56,504.79 L424.33,504.23 L424.09,503.68 L423.86,503.15 L423.63,502.65 L423.43,502.15 L423.25,501.68 L423.10,501.22 L422.99,500.77 L422.92,500.34 Z" fill="#f8d000"/><path d="M421.90,499.90 L421.92,499.49 L421.99,499.08 L422.10,498.66 L422.25,498.22 L422.43,497.78 L422.64,497.31 L422.87,496.83 L423.11,496.33 L423.36,495.81 L423.59,495.27 L423.81,494.71 L424.00,494.15 L424.16,493.58 L424.27,493.00 L424.34,492.43 L424.35,491.86 L424.31,491.31 L424.20,490.78 L424.03,490.27 L423.79,489.80 L423.50,489.36 L423.15,488.96 L422.74,488.60 L422.29,488.28 L421.79,488.01 L421.26,487.78 L420.71,487.60 L420.13,487.45 L419.55,487.33 L418.96,487.24 L418.37,487.18 L417.80,487.13 L417.25,487.08 L416.71,487.04 L416.21,486.99 L415.73,486.92 L415.28,486.84 L414.86,486.72 L414.47,486.57 L414.10,486.39 L413.76,486.17 L413.43,485.90 L413.12,485.59 L412.82,485.25 L412.53,484.87 L412.23,484.45 L411.93,484.01 L411.61,483.55 L411.28,483.08 L410.93,482.61 L410.56,482.14 L410.17,481.70 L409.75,481.27 L409.31,480.89 L408.85,480.54 L408.37,480.25 L407.87,480.01 L407.35,479.84 L406.83,479.74 L406.30,479.70 L405.77,479.74 L405.25,479.84 L404.73,480.01 L404.23,480.25 L403.75,480.54 L403.29,480.89 L402.85,481.27 L402.43,481.70 L402.04,482.14 L401.67,482.61 L401.32,483.08 L400.99,483.55 L400.67,484.01 L400.37,484.45 L400.07,484.87 L399.78,485.25 L399.48,485.59 L399.17,485.90 L398.84,486.17 L398.50,486.39 L398.13,486.57 L397.74,486.72 L397.32,486.84 L396.87,486.92 L396.39,486.99 L395.89,487.04 L395.35,487.08 L394.80,487.13 L394.23,487.18 L393.64,487.24 L393.05,487.33 L392.47,487.45 L391.89,487.60 L391.34,487.78 L390.81,488.01 L390.31,488.28 L389.86,488.60 L389.45,488.96 L389.10,489.36 L388.81,489.80 L388.57,490.27 L388.40,490.78 L388.29,491.31 L388.25,491.86 L388.26,492.43 L388.33,493.00 L388.44,493.58 L388.60,494.15 L388.79,494.71 L389.01,495.27 L389.24,495.81 L389.49,496.33 L389.73,496.83 L389.96,497.31 L390.17,497.78 L390.35,498.22 L390.50,498.66 L390.61,499.08 L390.68,499.49 L390.70,499.90 L390.68,500.31 L390.61,500.72 L390.50,501.14 L390.35,501.58 L390.17,502.02 L389.96,502.49 L389.73,502.97 L389.49,503.47 L389.24,503.99 L389.01,504.53 L388.79,505.09 L388.60,505.65 L388.44,506.22 L388.33,506.80 L388.26,507.37 L388.25,507.94 L388.29,508.49 L388.40,509.02 L388.57,509.53 L388.81,510.00 L389.10,510.44 L389.45,510.84 L389.86,511.20 L390.31,511.52 L390.81,511.79 L391.34,512.02 L391.89,512.20 L392.47,512.35 L393.05,512.47 L393.64,512.56 L394.23,512.62 L394.80,512.67 L395.35,512.72 L395.89,512.76 L396.39,512.81 L396.87,512.88 L397.32,512.96 L397.74,513.08 L398.13,513.23 L398.50,513.41 L398.84,513.63 L399.17,513.90 L399.48,514.21 L399.78,514.55 L400.07,514.93 L400.37,515.35 L400.67,515.79 L400.99,516.25 L401.32,516.72 L401.67,517.19 L402.04,517.66 L402.43,518.10 L402.85,518.53 L403.29,518.91 L403.75,519.26 L404.23,519.55 L404.73,519.79 L405.25,519.96 L405.77,520.06 L406.30,520.10 L406.83,520.06 L407.35,519.96 L407.87,519.79 L408.37,519.55 L408.85,519.26 L409.31,518.91 L409.75,518.53 L410.17,518.10 L410.56,517.66 L410.93,517.19 L411.28,516.72 L411.61,516.25 L411.93,515.79 L412.23,515.35 L412.53,514.93 L412.82,514.55 L413.12,514.21 L413.43,513.90 L413.76,513.63 L414.10,513.41 L414.47,513.23 L414.86,513.08 L415.28,512.96 L415.73,512.88 L416.21,512.81 L416.71,512.76 L417.25,512.72 L417.80,512.67 L418.37,512.62 L418.96,512.56 L419.55,512.47 L420.13,512.35 L420.71,512.20 L421.26,512.02 L421.79,511.79 L422.29,511.52 L422.74,511.20 L423.15,510.84 L423.50,510.44 L423.79,510.00 L424.03,509.53 L424.20,509.02 L424.31,508.49 L424.35,507.94 L424.34,507.37 L424.27,506.80 L424.16,506.22 L424.00,505.65 L423.81,505.09 L423.59,504.53 L423.36,503.99 L423.11,503.47 L422.87,502.97 L422.64,502.49 L422.43,502.02 L422.25,501.58 L422.10,501.14 L421.99,500.72 L421.92,500.31 Z" fill="#f89000"/><path d="M421.00,499.90 L421.02,499.51 L421.09,499.12 L421.20,498.73 L421.36,498.32 L421.54,497.89 L421.76,497.45 L421.99,496.99 L422.23,496.51 L422.48,496.02 L422.72,495.50 L422.94,494.97 L423.14,494.43 L423.31,493.88 L423.43,493.32 L423.51,492.77 L423.53,492.23 L423.49,491.70 L423.40,491.19 L423.24,490.70 L423.01,490.25 L422.73,489.83 L422.39,489.45 L422.00,489.11 L421.56,488.81 L421.08,488.56 L420.56,488.35 L420.02,488.18 L419.46,488.05 L418.89,487.95 L418.32,487.88 L417.75,487.83 L417.20,487.79 L416.66,487.77 L416.15,487.74 L415.66,487.70 L415.20,487.65 L414.77,487.58 L414.37,487.48 L414.00,487.34 L413.65,487.17 L413.33,486.96 L413.02,486.70 L412.74,486.41 L412.46,486.07 L412.18,485.70 L411.91,485.29 L411.63,484.86 L411.33,484.41 L411.03,483.95 L410.70,483.48 L410.35,483.02 L409.98,482.58 L409.59,482.16 L409.17,481.77 L408.73,481.43 L408.27,481.14 L407.79,480.91 L407.30,480.74 L406.80,480.63 L406.30,480.60 L405.80,480.63 L405.30,480.74 L404.81,480.91 L404.33,481.14 L403.87,481.43 L403.43,481.77 L403.01,482.16 L402.62,482.58 L402.25,483.02 L401.90,483.48 L401.57,483.95 L401.27,484.41 L400.97,484.86 L400.69,485.29 L400.42,485.70 L400.14,486.07 L399.86,486.41 L399.58,486.70 L399.27,486.96 L398.95,487.17 L398.60,487.34 L398.23,487.48 L397.83,487.58 L397.40,487.65 L396.94,487.70 L396.45,487.74 L395.94,487.77 L395.40,487.79 L394.85,487.83 L394.28,487.88 L393.71,487.95 L393.14,488.05 L392.58,488.18 L392.04,488.35 L391.52,488.56 L391.04,488.81 L390.60,489.11 L390.21,489.45 L389.87,489.83 L389.59,490.25 L389.36,490.70 L389.20,491.19 L389.11,491.70 L389.07,492.23 L389.09,492.77 L389.17,493.32 L389.29,493.88 L389.46,494.43 L389.66,494.97 L389.88,495.50 L390.12,496.02 L390.37,496.51 L390.61,496.99 L390.84,497.45 L391.06,497.89 L391.24,498.32 L391.40,498.73 L391.51,499.12 L391.58,499.51 L391.60,499.90 L391.58,500.29 L391.51,500.68 L391.40,501.07 L391.24,501.48 L391.06,501.91 L390.84,502.35 L390.61,502.81 L390.37,503.29 L390.12,503.78 L389.88,504.30 L389.66,504.83 L389.46,505.37 L389.29,505.92 L389.17,506.48 L389.09,507.03 L389.07,507.57 L389.11,508.10 L389.20,508.61 L389.36,509.10 L389.59,509.55 L389.87,509.97 L390.21,510.35 L390.60,510.69 L391.04,510.99 L391.52,511.24 L392.04,511.45 L392.58,511.62 L393.14,511.75 L393.71,511.85 L394.28,511.92 L394.85,511.97 L395.40,512.01 L395.94,512.03 L396.45,512.06 L396.94,512.10 L397.40,512.15 L397.83,512.22 L398.23,512.32 L398.60,512.46 L398.95,512.63 L399.27,512.84 L399.58,513.10 L399.86,513.39 L400.14,513.73 L400.42,514.10 L400.69,514.51 L400.97,514.94 L401.27,515.39 L401.57,515.85 L401.90,516.32 L402.25,516.78 L402.62,517.22 L403.01,517.64 L403.43,518.03 L403.87,518.37 L404.33,518.66 L404.81,518.89 L405.30,519.06 L405.80,519.17 L406.30,519.20 L406.80,519.17 L407.30,519.06 L407.79,518.89 L408.27,518.66 L408.73,518.37 L409.17,518.03 L409.59,517.64 L409.98,517.22 L410.35,516.78 L410.70,516.32 L411.03,515.85 L411.33,515.39 L411.63,514.94 L411.91,514.51 L412.18,514.10 L412.46,513.73 L412.74,513.39 L413.02,513.10 L413.33,512.84 L413.65,512.63 L414.00,512.46 L414.37,512.32 L414.77,512.22 L415.20,512.15 L415.66,512.10 L416.15,512.06 L416.66,512.03 L417.20,512.01 L417.75,511.97 L418.32,511.92 L418.89,511.85 L419.46,511.75 L420.02,511.62 L420.56,511.45 L421.08,511.24 L421.56,510.99 L422.00,510.69 L422.39,510.35 L422.73,509.97 L423.01,509.55 L423.24,509.10 L423.40,508.61 L423.49,508.10 L423.53,507.57 L423.51,507.03 L423.43,506.48 L423.31,505.92 L423.14,505.37 L422.94,504.83 L422.72,504.30 L422.48,503.78 L422.23,503.29 L421.99,502.81 L421.76,502.35 L421.54,501.91 L421.36,501.48 L421.20,501.07 L421.09,500.68 L421.02,500.29 Z" fill="#f85000"/><path d="M420.20,499.90 L420.22,499.54 L420.29,499.17 L420.41,498.79 L420.56,498.40 L420.75,498.00 L420.97,497.58 L421.20,497.14 L421.45,496.68 L421.70,496.20 L421.95,495.71 L422.18,495.20 L422.38,494.67 L422.56,494.14 L422.69,493.61 L422.77,493.08 L422.80,492.55 L422.77,492.04 L422.68,491.55 L422.53,491.09 L422.32,490.65 L422.05,490.25 L421.72,489.89 L421.34,489.56 L420.91,489.28 L420.44,489.05 L419.94,488.85 L419.41,488.70 L418.87,488.58 L418.31,488.50 L417.76,488.44 L417.20,488.41 L416.66,488.39 L416.14,488.38 L415.64,488.36 L415.17,488.34 L414.73,488.30 L414.32,488.24 L413.93,488.15 L413.58,488.02 L413.25,487.86 L412.95,487.66 L412.66,487.41 L412.39,487.13 L412.13,486.80 L411.88,486.44 L411.62,486.04 L411.36,485.61 L411.09,485.17 L410.80,484.71 L410.49,484.25 L410.17,483.80 L409.82,483.36 L409.44,482.94 L409.05,482.56 L408.63,482.23 L408.19,481.94 L407.73,481.71 L407.26,481.54 L406.78,481.43 L406.30,481.40 L405.82,481.43 L405.34,481.54 L404.87,481.71 L404.41,481.94 L403.97,482.23 L403.55,482.56 L403.16,482.94 L402.78,483.36 L402.43,483.80 L402.11,484.25 L401.80,484.71 L401.51,485.17 L401.24,485.61 L400.98,486.04 L400.72,486.44 L400.47,486.80 L400.21,487.13 L399.94,487.41 L399.65,487.66 L399.35,487.86 L399.02,488.02 L398.67,488.15 L398.28,488.24 L397.87,488.30 L397.43,488.34 L396.96,488.36 L396.46,488.38 L395.94,488.39 L395.40,488.41 L394.84,488.44 L394.29,488.50 L393.73,488.58 L393.19,488.70 L392.66,488.85 L392.16,489.05 L391.69,489.28 L391.26,489.56 L390.88,489.89 L390.55,490.25 L390.28,490.65 L390.07,491.09 L389.92,491.55 L389.83,492.04 L389.80,492.55 L389.83,493.08 L389.91,493.61 L390.04,494.14 L390.22,494.67 L390.42,495.20 L390.65,495.71 L390.90,496.20 L391.15,496.68 L391.40,497.14 L391.63,497.58 L391.85,498.00 L392.04,498.40 L392.19,498.79 L392.31,499.17 L392.38,499.54 L392.40,499.90 L392.38,500.26 L392.31,500.63 L392.19,501.01 L392.04,501.40 L391.85,501.80 L391.63,502.22 L391.40,502.66 L391.15,503.12 L390.90,503.60 L390.65,504.09 L390.42,504.60 L390.22,505.13 L390.04,505.66 L389.91,506.19 L389.83,506.72 L389.80,507.25 L389.83,507.76 L389.92,508.25 L390.07,508.71 L390.28,509.15 L390.55,509.55 L390.88,509.91 L391.26,510.24 L391.69,510.52 L392.16,510.75 L392.66,510.95 L393.19,511.10 L393.73,511.22 L394.29,511.30 L394.84,511.36 L395.40,511.39 L395.94,511.41 L396.46,511.42 L396.96,511.44 L397.43,511.46 L397.87,511.50 L398.28,511.56 L398.67,511.65 L399.02,511.78 L399.35,511.94 L399.65,512.14 L399.94,512.39 L400.21,512.67 L400.47,513.00 L400.72,513.36 L400.98,513.76 L401.24,514.19 L401.51,514.63 L401.80,515.09 L402.11,515.55 L402.43,516.00 L402.78,516.44 L403.16,516.86 L403.55,517.24 L403.97,517.57 L404.41,517.86 L404.87,518.09 L405.34,518.26 L405.82,518.37 L406.30,518.40 L406.78,518.37 L407.26,518.26 L407.73,518.09 L408.19,517.86 L408.63,517.57 L409.05,517.24 L409.44,516.86 L409.82,516.44 L410.17,516.00 L410.49,515.55 L410.80,515.09 L411.09,514.63 L411.36,514.19 L411.62,513.76 L411.88,513.36 L412.13,513.00 L412.39,512.67 L412.66,512.39 L412.95,512.14 L413.25,511.94 L413.58,511.78 L413.93,511.65 L414.32,511.56 L414.73,511.50 L415.17,511.46 L415.64,511.44 L416.14,511.42 L416.66,511.41 L417.20,511.39 L417.76,511.36 L418.31,511.30 L418.87,511.22 L419.41,511.10 L419.94,510.95 L420.44,510.75 L420.91,510.52 L421.34,510.24 L421.72,509.91 L422.05,509.55 L422.32,509.15 L422.53,508.71 L422.68,508.25 L422.77,507.76 L422.80,507.25 L422.77,506.72 L422.69,506.19 L422.56,505.66 L422.38,505.13 L422.18,504.60 L421.95,504.09 L421.70,503.60 L421.45,503.12 L421.20,502.66 L420.97,502.22 L420.75,501.80 L420.56,501.40 L420.41,501.01 L420.29,500.63 L420.22,500.26 Z" fill="#f01010"/></g>
<rect x="46.0" y="520.7" width="50" height="7" fill="#fff" stroke="#ccc" stroke-width="0.5"/>
<text x="71.0" y="526.4" font-size="6.3" fill="#222" text-anchor="middle">x/D<tspan font-size="3.8" dy="1">r</tspan><tspan dy="-1">=0.025</tspan></text>
<rect x="113.0" y="520.7" width="50" height="7" fill="#fff" stroke="#ccc" stroke-width="0.5"/>
<text x="138.0" y="526.4" font-size="6.3" fill="#222" text-anchor="middle">x/D<tspan font-size="3.8" dy="1">r</tspan><tspan dy="-1">=3.5</tspan></text>
<rect x="180.0" y="520.7" width="50" height="7" fill="#fff" stroke="#ccc" stroke-width="0.5"/>
<text x="205.0" y="526.4" font-size="6.3" fill="#222" text-anchor="middle">x/D<tspan font-size="3.8" dy="1">r</tspan><tspan dy="-1">=1.0</tspan></text>
<rect x="247.0" y="520.7" width="50" height="7" fill="#fff" stroke="#ccc" stroke-width="0.5"/>
<text x="272.0" y="526.4" font-size="6.3" fill="#222" text-anchor="middle">x/D<tspan font-size="3.8" dy="1">r</tspan><tspan dy="-1">=2.0</tspan></text>
<rect x="314.0" y="520.7" width="50" height="7" fill="#fff" stroke="#ccc" stroke-width="0.5"/>
<text x="339.0" y="526.4" font-size="6.3" fill="#222" text-anchor="middle">x/D<tspan font-size="3.8" dy="1">r</tspan><tspan dy="-1">=6.0</tspan></text>
<rect x="381.0" y="520.7" width="50" height="7" fill="#fff" stroke="#ccc" stroke-width="0.5"/>
<text x="406.0" y="526.4" font-size="6.3" fill="#222" text-anchor="middle">x/D<tspan font-size="3.8" dy="1">r</tspan><tspan dy="-1">=10.0</tspan></text>
<rect x="13.8" y="329.5" width="8.2" height="59.3" fill="#fff" stroke="#bbb" stroke-width="0.5"/>
<text transform="translate(19.50,360.35) rotate(-90)" font-size="6" fill="#222" text-anchor="middle">Circular hole baffle</text>
<rect x="14.6" y="400" width="7.8" height="59" fill="#fff" stroke="#bbb" stroke-width="0.5"/>
<text transform="translate(20.10,430.70) rotate(-90)" font-size="6" fill="#222" text-anchor="middle">Square hole baffle</text>
<rect x="14.4" y="471" width="7.9" height="62" fill="#fff" stroke="#bbb" stroke-width="0.5"/>
<text transform="translate(19.95,503.20) rotate(-90)" font-size="6" fill="#222" text-anchor="middle">Triangular hole baffle</text>
<text transform="translate(34.4,343.70) rotate(-90)" font-size="9" fill="#222" text-anchor="middle">z/D<tspan font-size="5" dy="2">r</tspan></text>
<text x="38.5" y="328.90" font-size="4.6" fill="#444" text-anchor="end">4</text>
<text x="38.5" y="359.50" font-size="4.6" fill="#444" text-anchor="end">0</text>
<text x="38.5" y="390.10" font-size="4.6" fill="#444" text-anchor="end">-4</text>
<text transform="translate(34.4,414.70) rotate(-90)" font-size="9" fill="#222" text-anchor="middle">z/D<tspan font-size="5" dy="2">r</tspan></text>
<text x="38.5" y="399.90" font-size="4.6" fill="#444" text-anchor="end">4</text>
<text x="38.5" y="430.50" font-size="4.6" fill="#444" text-anchor="end">0</text>
<text x="38.5" y="461.10" font-size="4.6" fill="#444" text-anchor="end">-4</text>
<text transform="translate(34.4,485.70) rotate(-90)" font-size="9" fill="#222" text-anchor="middle">z/D<tspan font-size="5" dy="2">r</tspan></text>
<text x="38.5" y="470.90" font-size="4.6" fill="#444" text-anchor="end">4</text>
<text x="38.5" y="501.50" font-size="4.6" fill="#444" text-anchor="end">0</text>
<text x="38.5" y="532.10" font-size="4.6" fill="#444" text-anchor="end">-4</text>
<line x1="38.5" y1="326.50" x2="41.5" y2="326.50" stroke="#777" stroke-width="0.6"/>
<line x1="38.5" y1="357.85" x2="41.5" y2="357.85" stroke="#777" stroke-width="0.6"/>
<line x1="38.5" y1="389.20" x2="41.5" y2="389.20" stroke="#777" stroke-width="0.6"/>
<line x1="38.5" y1="397.50" x2="41.5" y2="397.50" stroke="#777" stroke-width="0.6"/>
<line x1="38.5" y1="428.85" x2="41.5" y2="428.85" stroke="#777" stroke-width="0.6"/>
<line x1="38.5" y1="460.20" x2="41.5" y2="460.20" stroke="#777" stroke-width="0.6"/>
<line x1="38.5" y1="468.50" x2="41.5" y2="468.50" stroke="#777" stroke-width="0.6"/>
<line x1="38.5" y1="499.85" x2="41.5" y2="499.85" stroke="#777" stroke-width="0.6"/>
<line x1="38.5" y1="531.20" x2="41.5" y2="531.20" stroke="#777" stroke-width="0.6"/>
<line x1="40.00" y1="529.70" x2="40.00" y2="532.70" stroke="#777" stroke-width="0.6"/>
<line x1="71.00" y1="529.70" x2="71.00" y2="532.70" stroke="#777" stroke-width="0.6"/>
<line x1="102.00" y1="529.70" x2="102.00" y2="532.70" stroke="#777" stroke-width="0.6"/>
<line x1="107.00" y1="529.70" x2="107.00" y2="532.70" stroke="#777" stroke-width="0.6"/>
<line x1="138.00" y1="529.70" x2="138.00" y2="532.70" stroke="#777" stroke-width="0.6"/>
<line x1="169.00" y1="529.70" x2="169.00" y2="532.70" stroke="#777" stroke-width="0.6"/>
<line x1="174.00" y1="529.70" x2="174.00" y2="532.70" stroke="#777" stroke-width="0.6"/>
<line x1="205.00" y1="529.70" x2="205.00" y2="532.70" stroke="#777" stroke-width="0.6"/>
<line x1="236.00" y1="529.70" x2="236.00" y2="532.70" stroke="#777" stroke-width="0.6"/>
<line x1="241.00" y1="529.70" x2="241.00" y2="532.70" stroke="#777" stroke-width="0.6"/>
<line x1="272.00" y1="529.70" x2="272.00" y2="532.70" stroke="#777" stroke-width="0.6"/>
<line x1="303.00" y1="529.70" x2="303.00" y2="532.70" stroke="#777" stroke-width="0.6"/>
<line x1="308.00" y1="529.70" x2="308.00" y2="532.70" stroke="#777" stroke-width="0.6"/>
<line x1="339.00" y1="529.70" x2="339.00" y2="532.70" stroke="#777" stroke-width="0.6"/>
<line x1="370.00" y1="529.70" x2="370.00" y2="532.70" stroke="#777" stroke-width="0.6"/>
<line x1="375.00" y1="529.70" x2="375.00" y2="532.70" stroke="#777" stroke-width="0.6"/>
<line x1="406.00" y1="529.70" x2="406.00" y2="532.70" stroke="#777" stroke-width="0.6"/>
<line x1="437.00" y1="529.70" x2="437.00" y2="532.70" stroke="#777" stroke-width="0.6"/>
<text x="40.00" y="536.6" font-size="4.6" fill="#444" text-anchor="middle">-4</text>
<text x="71.30" y="536.6" font-size="4.6" fill="#444" text-anchor="middle">0</text>
<text x="102.00" y="536.6" font-size="4.6" fill="#444" text-anchor="middle">4</text>
<text x="76.00" y="541.4" font-size="9.8" fill="#222">y/D<tspan font-size="5.5" dy="2">r</tspan></text>
<text x="107.00" y="536.6" font-size="4.6" fill="#444" text-anchor="middle">-4</text>
<text x="138.30" y="536.6" font-size="4.6" fill="#444" text-anchor="middle">0</text>
<text x="169.00" y="536.6" font-size="4.6" fill="#444" text-anchor="middle">4</text>
<text x="143.00" y="541.4" font-size="9.8" fill="#222">y/D<tspan font-size="5.5" dy="2">r</tspan></text>
<text x="174.00" y="536.6" font-size="4.6" fill="#444" text-anchor="middle">-4</text>
<text x="205.30" y="536.6" font-size="4.6" fill="#444" text-anchor="middle">0</text>
<text x="236.00" y="536.6" font-size="4.6" fill="#444" text-anchor="middle">4</text>
<text x="210.00" y="541.4" font-size="9.8" fill="#222">y/D<tspan font-size="5.5" dy="2">r</tspan></text>
<text x="241.00" y="536.6" font-size="4.6" fill="#444" text-anchor="middle">-4</text>
<text x="272.30" y="536.6" font-size="4.6" fill="#444" text-anchor="middle">0</text>
<text x="303.00" y="536.6" font-size="4.6" fill="#444" text-anchor="middle">4</text>
<text x="277.00" y="541.4" font-size="9.8" fill="#222">y/D<tspan font-size="5.5" dy="2">r</tspan></text>
<text x="308.00" y="536.6" font-size="4.6" fill="#444" text-anchor="middle">-4</text>
<text x="339.30" y="536.6" font-size="4.6" fill="#444" text-anchor="middle">0</text>
<text x="370.00" y="536.6" font-size="4.6" fill="#444" text-anchor="middle">4</text>
<text x="344.00" y="541.4" font-size="9.8" fill="#222">y/D<tspan font-size="5.5" dy="2">r</tspan></text>
<text x="375.00" y="536.6" font-size="4.6" fill="#444" text-anchor="middle">-4</text>
<text x="406.30" y="536.6" font-size="4.6" fill="#444" text-anchor="middle">0</text>
<text x="437.00" y="536.6" font-size="4.6" fill="#444" text-anchor="middle">4</text>
<text x="411.00" y="541.4" font-size="9.8" fill="#222">y/D<tspan font-size="5.5" dy="2">r</tspan></text>
<rect x="443.3" y="329.8" width="32" height="200.6" fill="#fff" stroke="#aaa" stroke-width="0.6"/>
<text x="459.4" y="337.6" font-size="6.8" fill="#222" text-anchor="middle">T/1000K</text>
<rect x="445.6" y="340" width="10.6" height="8.50" fill="#f00000"/>
<rect x="445.6" y="348.3" width="10.6" height="15.30" fill="#ff5000"/>
<rect x="445.6" y="363.4" width="10.6" height="15.40" fill="#ffa000"/>
<rect x="445.6" y="378.6" width="10.6" height="15.60" fill="#ffff00"/>
<rect x="445.6" y="394" width="10.6" height="15.50" fill="#40e020"/>
<rect x="445.6" y="409.3" width="10.6" height="15.50" fill="#00e000"/>
<rect x="445.6" y="424.6" width="10.6" height="15.60" fill="#00e800"/>
<rect x="445.6" y="440" width="10.6" height="15.50" fill="#00ee70"/>
<rect x="445.6" y="455.3" width="10.6" height="15.50" fill="#00f0c0"/>
<rect x="445.6" y="470.6" width="10.6" height="15.60" fill="#00ffff"/>
<rect x="445.6" y="486" width="10.6" height="15.50" fill="#00b4ff"/>
<rect x="445.6" y="501.3" width="10.6" height="15.50" fill="#0070ff"/>
<rect x="445.6" y="516.6" width="10.6" height="8.10" fill="#0028ff"/>
<text x="461" y="350.60" font-size="6.2" fill="#333">1.5</text>
<text x="461" y="365.95" font-size="6.2" fill="#333">1.4</text>
<text x="461" y="381.30" font-size="6.2" fill="#333">1.3</text>
<text x="461" y="396.65" font-size="6.2" fill="#333">1.2</text>
<text x="461" y="412.00" font-size="6.2" fill="#333">1.1</text>
<text x="461" y="427.35" font-size="6.2" fill="#333">1</text>
<text x="461" y="442.70" font-size="6.2" fill="#333">0.9</text>
<text x="461" y="458.05" font-size="6.2" fill="#333">0.8</text>
<text x="461" y="473.40" font-size="6.2" fill="#333">0.7</text>
<text x="461" y="488.75" font-size="6.2" fill="#333">0.6</text>
<text x="461" y="504.10" font-size="6.2" fill="#333">0.5</text>
<text x="461" y="519.45" font-size="6.2" fill="#333">0.4</text></svg>
</body></html>
